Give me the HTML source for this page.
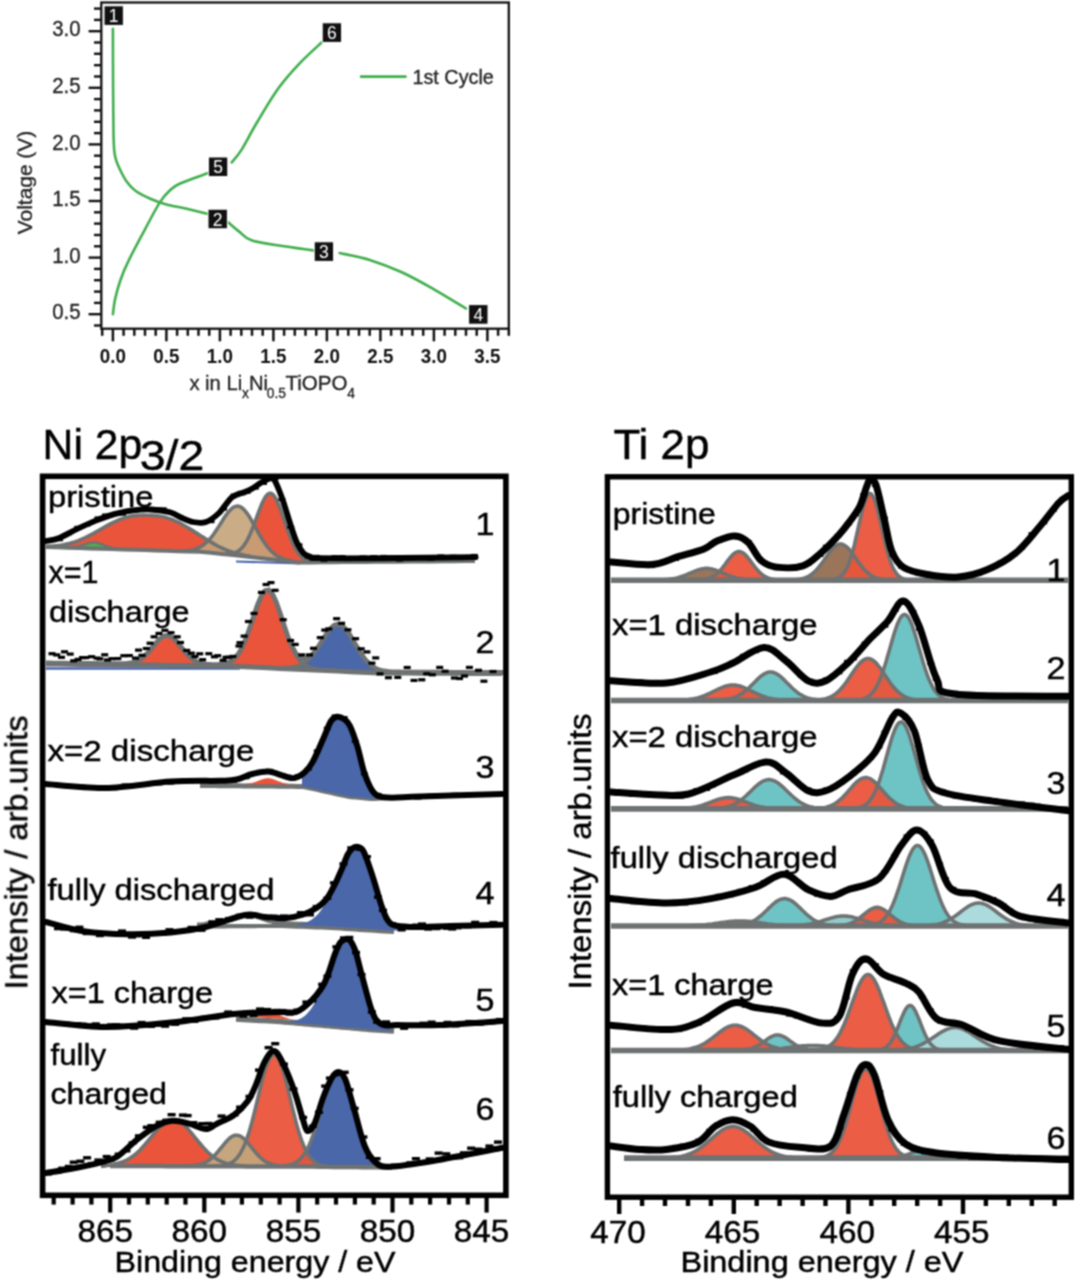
<!DOCTYPE html><html><head><meta charset="utf-8"><style>html,body{margin:0;padding:0;background:#fff;}svg{display:block;} text{font-family:"Liberation Sans", sans-serif;}</style></head><body>
<svg width="1077" height="1280" viewBox="0 0 1077 1280">
<defs><filter id="bl" x="0" y="0" width="1077" height="1280" filterUnits="userSpaceOnUse" color-interpolation-filters="sRGB"><feConvolveMatrix order="3" kernelMatrix="1 2 1 2 4 2 1 2 1" divisor="16" edgeMode="duplicate"/></filter></defs>
<rect width="1077" height="1280" fill="#fff"/>
<g filter="url(#bl)">
<rect width="1077" height="1280" fill="#fff"/>
<line x1="94" y1="325.5" x2="101.3" y2="325.5" stroke="#111" stroke-width="2.4"/>
<line x1="88.6" y1="314.2" x2="101.3" y2="314.2" stroke="#111" stroke-width="2.4"/>
<line x1="94" y1="302.9" x2="101.3" y2="302.9" stroke="#111" stroke-width="2.4"/>
<line x1="94" y1="291.6" x2="101.3" y2="291.6" stroke="#111" stroke-width="2.4"/>
<line x1="94" y1="280.2" x2="101.3" y2="280.2" stroke="#111" stroke-width="2.4"/>
<line x1="94" y1="268.9" x2="101.3" y2="268.9" stroke="#111" stroke-width="2.4"/>
<line x1="88.6" y1="257.6" x2="101.3" y2="257.6" stroke="#111" stroke-width="2.4"/>
<line x1="94" y1="246.3" x2="101.3" y2="246.3" stroke="#111" stroke-width="2.4"/>
<line x1="94" y1="235" x2="101.3" y2="235" stroke="#111" stroke-width="2.4"/>
<line x1="94" y1="223.6" x2="101.3" y2="223.6" stroke="#111" stroke-width="2.4"/>
<line x1="94" y1="212.3" x2="101.3" y2="212.3" stroke="#111" stroke-width="2.4"/>
<line x1="88.6" y1="201" x2="101.3" y2="201" stroke="#111" stroke-width="2.4"/>
<line x1="94" y1="189.7" x2="101.3" y2="189.7" stroke="#111" stroke-width="2.4"/>
<line x1="94" y1="178.4" x2="101.3" y2="178.4" stroke="#111" stroke-width="2.4"/>
<line x1="94" y1="167" x2="101.3" y2="167" stroke="#111" stroke-width="2.4"/>
<line x1="94" y1="155.7" x2="101.3" y2="155.7" stroke="#111" stroke-width="2.4"/>
<line x1="88.6" y1="144.4" x2="101.3" y2="144.4" stroke="#111" stroke-width="2.4"/>
<line x1="94" y1="133.1" x2="101.3" y2="133.1" stroke="#111" stroke-width="2.4"/>
<line x1="94" y1="121.8" x2="101.3" y2="121.8" stroke="#111" stroke-width="2.4"/>
<line x1="94" y1="110.4" x2="101.3" y2="110.4" stroke="#111" stroke-width="2.4"/>
<line x1="94" y1="99.1" x2="101.3" y2="99.1" stroke="#111" stroke-width="2.4"/>
<line x1="88.6" y1="87.8" x2="101.3" y2="87.8" stroke="#111" stroke-width="2.4"/>
<line x1="94" y1="76.5" x2="101.3" y2="76.5" stroke="#111" stroke-width="2.4"/>
<line x1="94" y1="65.2" x2="101.3" y2="65.2" stroke="#111" stroke-width="2.4"/>
<line x1="94" y1="53.8" x2="101.3" y2="53.8" stroke="#111" stroke-width="2.4"/>
<line x1="94" y1="42.5" x2="101.3" y2="42.5" stroke="#111" stroke-width="2.4"/>
<line x1="88.6" y1="31.2" x2="101.3" y2="31.2" stroke="#111" stroke-width="2.4"/>
<line x1="94" y1="19.9" x2="101.3" y2="19.9" stroke="#111" stroke-width="2.4"/>
<line x1="94" y1="8.6" x2="101.3" y2="8.6" stroke="#111" stroke-width="2.4"/>
<line x1="102.2" y1="328.7" x2="102.2" y2="335.8" stroke="#111" stroke-width="2.5"/>
<line x1="112.9" y1="328.7" x2="112.9" y2="341.3" stroke="#111" stroke-width="2.5"/>
<line x1="123.6" y1="328.7" x2="123.6" y2="335.8" stroke="#111" stroke-width="2.5"/>
<line x1="134.3" y1="328.7" x2="134.3" y2="335.8" stroke="#111" stroke-width="2.5"/>
<line x1="145" y1="328.7" x2="145" y2="335.8" stroke="#111" stroke-width="2.5"/>
<line x1="155.7" y1="328.7" x2="155.7" y2="335.8" stroke="#111" stroke-width="2.5"/>
<line x1="166.4" y1="328.7" x2="166.4" y2="341.3" stroke="#111" stroke-width="2.5"/>
<line x1="177.1" y1="328.7" x2="177.1" y2="335.8" stroke="#111" stroke-width="2.5"/>
<line x1="187.8" y1="328.7" x2="187.8" y2="335.8" stroke="#111" stroke-width="2.5"/>
<line x1="198.5" y1="328.7" x2="198.5" y2="335.8" stroke="#111" stroke-width="2.5"/>
<line x1="209.2" y1="328.7" x2="209.2" y2="335.8" stroke="#111" stroke-width="2.5"/>
<line x1="219.9" y1="328.7" x2="219.9" y2="341.3" stroke="#111" stroke-width="2.5"/>
<line x1="230.6" y1="328.7" x2="230.6" y2="335.8" stroke="#111" stroke-width="2.5"/>
<line x1="241.3" y1="328.7" x2="241.3" y2="335.8" stroke="#111" stroke-width="2.5"/>
<line x1="252" y1="328.7" x2="252" y2="335.8" stroke="#111" stroke-width="2.5"/>
<line x1="262.7" y1="328.7" x2="262.7" y2="335.8" stroke="#111" stroke-width="2.5"/>
<line x1="273.4" y1="328.7" x2="273.4" y2="341.3" stroke="#111" stroke-width="2.5"/>
<line x1="284.1" y1="328.7" x2="284.1" y2="335.8" stroke="#111" stroke-width="2.5"/>
<line x1="294.8" y1="328.7" x2="294.8" y2="335.8" stroke="#111" stroke-width="2.5"/>
<line x1="305.5" y1="328.7" x2="305.5" y2="335.8" stroke="#111" stroke-width="2.5"/>
<line x1="316.2" y1="328.7" x2="316.2" y2="335.8" stroke="#111" stroke-width="2.5"/>
<line x1="326.9" y1="328.7" x2="326.9" y2="341.3" stroke="#111" stroke-width="2.5"/>
<line x1="337.6" y1="328.7" x2="337.6" y2="335.8" stroke="#111" stroke-width="2.5"/>
<line x1="348.3" y1="328.7" x2="348.3" y2="335.8" stroke="#111" stroke-width="2.5"/>
<line x1="359" y1="328.7" x2="359" y2="335.8" stroke="#111" stroke-width="2.5"/>
<line x1="369.7" y1="328.7" x2="369.7" y2="335.8" stroke="#111" stroke-width="2.5"/>
<line x1="380.4" y1="328.7" x2="380.4" y2="341.3" stroke="#111" stroke-width="2.5"/>
<line x1="391.1" y1="328.7" x2="391.1" y2="335.8" stroke="#111" stroke-width="2.5"/>
<line x1="401.8" y1="328.7" x2="401.8" y2="335.8" stroke="#111" stroke-width="2.5"/>
<line x1="412.5" y1="328.7" x2="412.5" y2="335.8" stroke="#111" stroke-width="2.5"/>
<line x1="423.2" y1="328.7" x2="423.2" y2="335.8" stroke="#111" stroke-width="2.5"/>
<line x1="433.9" y1="328.7" x2="433.9" y2="341.3" stroke="#111" stroke-width="2.5"/>
<line x1="444.6" y1="328.7" x2="444.6" y2="335.8" stroke="#111" stroke-width="2.5"/>
<line x1="455.3" y1="328.7" x2="455.3" y2="335.8" stroke="#111" stroke-width="2.5"/>
<line x1="466" y1="328.7" x2="466" y2="335.8" stroke="#111" stroke-width="2.5"/>
<line x1="476.7" y1="328.7" x2="476.7" y2="335.8" stroke="#111" stroke-width="2.5"/>
<line x1="487.4" y1="328.7" x2="487.4" y2="341.3" stroke="#111" stroke-width="2.5"/>
<line x1="498.1" y1="328.7" x2="498.1" y2="335.8" stroke="#111" stroke-width="2.5"/>
<line x1="508.8" y1="328.7" x2="508.8" y2="335.8" stroke="#111" stroke-width="2.5"/>
<rect x="101.3" y="2.5" width="407.5" height="326.2" fill="none" stroke="#111" stroke-width="2.3"/>
<text x="80.6" y="319.3" font-size="22.2" fill="#222" text-anchor="end" font-weight="normal" textLength="28.4" lengthAdjust="spacingAndGlyphs" stroke="#222" stroke-width="0.3">0.5</text>
<text x="80.6" y="262.7" font-size="22.2" fill="#222" text-anchor="end" font-weight="normal" textLength="28.4" lengthAdjust="spacingAndGlyphs" stroke="#222" stroke-width="0.3">1.0</text>
<text x="80.6" y="206.1" font-size="22.2" fill="#222" text-anchor="end" font-weight="normal" textLength="28.4" lengthAdjust="spacingAndGlyphs" stroke="#222" stroke-width="0.3">1.5</text>
<text x="80.6" y="149.5" font-size="22.2" fill="#222" text-anchor="end" font-weight="normal" textLength="28.4" lengthAdjust="spacingAndGlyphs" stroke="#222" stroke-width="0.3">2.0</text>
<text x="80.6" y="92.9" font-size="22.2" fill="#222" text-anchor="end" font-weight="normal" textLength="28.4" lengthAdjust="spacingAndGlyphs" stroke="#222" stroke-width="0.3">2.5</text>
<text x="80.6" y="36.3" font-size="22.2" fill="#222" text-anchor="end" font-weight="normal" textLength="28.4" lengthAdjust="spacingAndGlyphs" stroke="#222" stroke-width="0.3">3.0</text>
<text x="112.9" y="363.4" font-size="20.9" fill="#111" text-anchor="middle" font-weight="bold" textLength="26.1" lengthAdjust="spacingAndGlyphs">0.0</text>
<text x="166.4" y="363.4" font-size="20.9" fill="#111" text-anchor="middle" font-weight="bold" textLength="26.1" lengthAdjust="spacingAndGlyphs">0.5</text>
<text x="219.9" y="363.4" font-size="20.9" fill="#111" text-anchor="middle" font-weight="bold" textLength="26.1" lengthAdjust="spacingAndGlyphs">1.0</text>
<text x="273.4" y="363.4" font-size="20.9" fill="#111" text-anchor="middle" font-weight="bold" textLength="26.1" lengthAdjust="spacingAndGlyphs">1.5</text>
<text x="326.9" y="363.4" font-size="20.9" fill="#111" text-anchor="middle" font-weight="bold" textLength="26.1" lengthAdjust="spacingAndGlyphs">2.0</text>
<text x="380.4" y="363.4" font-size="20.9" fill="#111" text-anchor="middle" font-weight="bold" textLength="26.1" lengthAdjust="spacingAndGlyphs">2.5</text>
<text x="433.9" y="363.4" font-size="20.9" fill="#111" text-anchor="middle" font-weight="bold" textLength="26.1" lengthAdjust="spacingAndGlyphs">3.0</text>
<text x="487.4" y="363.4" font-size="20.9" fill="#111" text-anchor="middle" font-weight="bold" textLength="26.1" lengthAdjust="spacingAndGlyphs">3.5</text>
<text y="389.9" font-size="20.2" fill="#222" stroke="#222" stroke-width="0.3"><tspan x="189.4">x in Li</tspan><tspan x="242.0" y="398.2" font-size="13.8">x</tspan><tspan x="249.0" y="389.9">Ni</tspan><tspan x="266.8" y="398.2" font-size="13.8">0.5</tspan><tspan x="285.4" y="389.9" textLength="62" lengthAdjust="spacingAndGlyphs">TiOPO</tspan><tspan x="347.3" y="398.2" font-size="13.8">4</tspan></text>
<text transform="translate(32.3,182.5) rotate(-90)" font-size="20" fill="#222" stroke="#222" stroke-width="0.3" text-anchor="middle" textLength="103.5" lengthAdjust="spacingAndGlyphs">Voltage (V)</text>
<line x1="360" y1="76.6" x2="406.6" y2="76.6" stroke="#3fae4c" stroke-width="2.6"/>
<text x="412.4" y="84.4" font-size="20.2" fill="#222" text-anchor="start" font-weight="normal" textLength="81.5" lengthAdjust="spacingAndGlyphs" stroke="#222" stroke-width="0.3">1st Cycle</text>
<path d="M112.9 28.9 C112.9 38.7 113 70.4 113.1 87.8 C113.2 105.2 113.4 122.7 113.5 133.1 C113.7 143.5 113.8 145.5 114.2 150.1 C114.6 154.6 115.1 156.9 116.1 160.2 C117.1 163.6 118.6 166.9 120.4 170.4 C122.2 174 124.3 178.4 126.8 181.8 C129.3 185.2 131.4 188 135.4 190.8 C139.3 193.6 145.2 196.5 150.3 198.7 C155.5 201 160.2 202.7 166.4 204.4 C172.6 206.1 179.8 207 187.8 208.9 C195.8 210.8 210.1 214.6 214.6 215.7" fill="none" stroke="#3fae4c" stroke-width="2.6" stroke-linecap="round" stroke-linejoin="round"/>
<path d="M228.5 222.5 C230.2 224 235.2 228.5 239.2 231.6 C243.1 234.6 244.5 238.2 252 240.6 C259.5 243.1 273.4 244.6 284.1 246.3 C294.8 248 310.9 250.1 316.2 250.8" fill="none" stroke="#3fae4c" stroke-width="2.6" stroke-linecap="round" stroke-linejoin="round"/>
<path d="M339.7 253.1 C344.7 254.2 359.4 256.7 369.7 259.9 C380 263.1 391.1 267.4 401.8 272.3 C412.5 277.2 423.2 283.3 433.9 289.3 C444.6 295.3 460.6 305.3 466 308.5" fill="none" stroke="#3fae4c" stroke-width="2.6" stroke-linecap="round" stroke-linejoin="round"/>
<path d="M112.9 314.2 C113.3 311.7 113.8 305.1 115 299.5 C116.3 293.8 118.1 286.8 120.4 280.2 C122.7 273.6 124.8 268.4 129 259.9 C133.1 251.4 139.8 238.9 145 229.3 C150.2 219.7 155.7 208.7 160 202.1 C164.2 195.5 167.1 192.8 170.5 189.7 C173.8 186.6 174.7 185.9 180.1 183.5 C185.5 181 197.9 176.8 202.8 175 C207.6 173.2 208.1 173.1 209.2 172.7" fill="none" stroke="#3fae4c" stroke-width="2.6" stroke-linecap="round" stroke-linejoin="round"/>
<path d="M231.7 162.5 C233.3 160.4 237 156.9 241.3 150.1 C245.6 143.3 251.1 132.1 257.4 121.8 C263.6 111.4 271.6 97.6 278.8 87.8 C285.9 78 293 70.4 300.1 62.9 C307.3 55.3 318 45.9 321.6 42.5" fill="none" stroke="#3fae4c" stroke-width="2.6" stroke-linecap="round" stroke-linejoin="round"/>
<rect x="104" y="5.8" width="19.4" height="19.6" fill="#111" stroke="#fff" stroke-width="1"/>
<text x="113.7" y="22.2" font-size="17.5" fill="#fff" text-anchor="middle" font-weight="normal">1</text>
<rect x="208" y="209.2" width="19.4" height="19.6" fill="#111" stroke="#fff" stroke-width="1"/>
<text x="217.7" y="225.6" font-size="17.5" fill="#fff" text-anchor="middle" font-weight="normal">2</text>
<rect x="314.2" y="241.8" width="19.4" height="19.6" fill="#111" stroke="#fff" stroke-width="1"/>
<text x="323.9" y="258.2" font-size="17.5" fill="#fff" text-anchor="middle" font-weight="normal">3</text>
<rect x="468.6" y="304.6" width="19.4" height="19.6" fill="#111" stroke="#fff" stroke-width="1"/>
<text x="478.3" y="321" font-size="17.5" fill="#fff" text-anchor="middle" font-weight="normal">4</text>
<rect x="208.4" y="157" width="19.4" height="19.6" fill="#111" stroke="#fff" stroke-width="1"/>
<text x="218.1" y="173.4" font-size="17.5" fill="#fff" text-anchor="middle" font-weight="normal">5</text>
<rect x="322.2" y="22.8" width="19.4" height="19.6" fill="#111" stroke="#fff" stroke-width="1"/>
<text x="331.9" y="39.2" font-size="17.5" fill="#fff" text-anchor="middle" font-weight="normal">6</text>
<rect x="42.6" y="476.3" width="463.3" height="719.0" fill="none" stroke="#000" stroke-width="5.6"/>
<line x1="53.7" y1="1196" x2="53.7" y2="1204.6" stroke="#000" stroke-width="4.2"/>
<line x1="72.6" y1="1196" x2="72.6" y2="1204.6" stroke="#000" stroke-width="4.2"/>
<line x1="91.4" y1="1196" x2="91.4" y2="1204.6" stroke="#000" stroke-width="4.2"/>
<line x1="110.2" y1="1196" x2="110.2" y2="1212.6" stroke="#000" stroke-width="4.2"/>
<line x1="129" y1="1196" x2="129" y2="1204.6" stroke="#000" stroke-width="4.2"/>
<line x1="147.8" y1="1196" x2="147.8" y2="1204.6" stroke="#000" stroke-width="4.2"/>
<line x1="166.7" y1="1196" x2="166.7" y2="1204.6" stroke="#000" stroke-width="4.2"/>
<line x1="185.5" y1="1196" x2="185.5" y2="1204.6" stroke="#000" stroke-width="4.2"/>
<line x1="204.3" y1="1196" x2="204.3" y2="1212.6" stroke="#000" stroke-width="4.2"/>
<line x1="223.1" y1="1196" x2="223.1" y2="1204.6" stroke="#000" stroke-width="4.2"/>
<line x1="241.9" y1="1196" x2="241.9" y2="1204.6" stroke="#000" stroke-width="4.2"/>
<line x1="260.8" y1="1196" x2="260.8" y2="1204.6" stroke="#000" stroke-width="4.2"/>
<line x1="279.6" y1="1196" x2="279.6" y2="1204.6" stroke="#000" stroke-width="4.2"/>
<line x1="298.4" y1="1196" x2="298.4" y2="1212.6" stroke="#000" stroke-width="4.2"/>
<line x1="317.2" y1="1196" x2="317.2" y2="1204.6" stroke="#000" stroke-width="4.2"/>
<line x1="336" y1="1196" x2="336" y2="1204.6" stroke="#000" stroke-width="4.2"/>
<line x1="354.9" y1="1196" x2="354.9" y2="1204.6" stroke="#000" stroke-width="4.2"/>
<line x1="373.7" y1="1196" x2="373.7" y2="1204.6" stroke="#000" stroke-width="4.2"/>
<line x1="392.5" y1="1196" x2="392.5" y2="1212.6" stroke="#000" stroke-width="4.2"/>
<line x1="411.3" y1="1196" x2="411.3" y2="1204.6" stroke="#000" stroke-width="4.2"/>
<line x1="430.1" y1="1196" x2="430.1" y2="1204.6" stroke="#000" stroke-width="4.2"/>
<line x1="449" y1="1196" x2="449" y2="1204.6" stroke="#000" stroke-width="4.2"/>
<line x1="467.8" y1="1196" x2="467.8" y2="1204.6" stroke="#000" stroke-width="4.2"/>
<line x1="486.6" y1="1196" x2="486.6" y2="1212.6" stroke="#000" stroke-width="4.2"/>
<text x="105.2" y="1242.3" font-size="31" fill="#000" text-anchor="middle" font-weight="normal" textLength="55.5" lengthAdjust="spacingAndGlyphs" stroke="#000" stroke-width="0.45">865</text>
<text x="199.3" y="1242.3" font-size="31" fill="#000" text-anchor="middle" font-weight="normal" textLength="55.5" lengthAdjust="spacingAndGlyphs" stroke="#000" stroke-width="0.45">860</text>
<text x="293.4" y="1242.3" font-size="31" fill="#000" text-anchor="middle" font-weight="normal" textLength="55.5" lengthAdjust="spacingAndGlyphs" stroke="#000" stroke-width="0.45">855</text>
<text x="387.5" y="1242.3" font-size="31" fill="#000" text-anchor="middle" font-weight="normal" textLength="55.5" lengthAdjust="spacingAndGlyphs" stroke="#000" stroke-width="0.45">850</text>
<text x="481.6" y="1242.3" font-size="31" fill="#000" text-anchor="middle" font-weight="normal" textLength="55.5" lengthAdjust="spacingAndGlyphs" stroke="#000" stroke-width="0.45">845</text>
<text x="114.5" y="1271.6" font-size="29" fill="#000" text-anchor="start" font-weight="normal" textLength="281" lengthAdjust="spacingAndGlyphs" stroke="#000" stroke-width="0.45">Binding energy / eV</text>
<text x="42.6" y="459.4" font-size="43.2" fill="#000" text-anchor="start" font-weight="normal" textLength="99.6" lengthAdjust="spacingAndGlyphs" stroke="#000" stroke-width="0.45">Ni 2p</text>
<text x="139.8" y="470" font-size="43.2" fill="#000" text-anchor="start" font-weight="normal" textLength="64.5" lengthAdjust="spacingAndGlyphs" stroke="#000" stroke-width="0.45">3/2</text>
<text transform="translate(27.3,852.5) rotate(-90)" font-size="31.5" fill="#000" text-anchor="middle" textLength="274" lengthAdjust="spacingAndGlyphs" stroke="#000" stroke-width="0.45">Intensity / arb.units</text>
<path d="M45.6 546.4 L48.6 546.3 L51.6 546.1 L54.5 545.9 L57.5 545.6 L60.5 545.2 L63.4 544.7 L66.4 544.1 L69.4 543.4 L72.3 542.6 L75.3 541.7 L78.3 540.6 L81.2 539.4 L84.2 538.1 L87.2 536.7 L90.1 535.2 L93.1 533.6 L96.1 531.9 L99 530.2 L102 528.5 L105 526.8 L107.9 525.2 L110.9 523.6 L113.9 522.1 L116.8 520.8 L119.8 519.5 L122.8 518.4 L125.7 517.5 L128.7 516.7 L131.7 516.1 L134.6 515.6 L137.6 515.3 L140.6 515.2 L143.5 515.1 L146.5 515.2 L149.5 515.3 L152.5 515.4 L155.4 515.6 L158.4 516 L161.4 516.5 L164.3 517.1 L167.3 517.9 L170.3 518.9 L173.2 520 L176.2 521.3 L179.2 522.7 L182.1 524.3 L185.1 526 L188.1 527.7 L191 529.6 L194 531.4 L197 533.3 L199.9 535.2 L202.9 537 L205.9 538.9 L208.8 540.8 L211.8 542.6 L214.8 544.4 L217.7 546 L220.7 547.5 L223.7 548.8 L226.6 550.1 L229.6 551.2 L232.6 552.2 L235.5 553.1 L238.5 553.9 L241.5 554.6 L244.4 555.3 L247.4 555.9 L250.4 556.4 L250.4 557 L247.4 556.7 L244.4 556.4 L241.5 556 L238.5 555.7 L235.5 555.4 L232.6 555 L229.6 554.7 L226.6 554.4 L223.7 554.1 L220.7 553.7 L217.7 553.4 L214.8 553.1 L211.8 552.8 L208.8 552.4 L205.9 552.1 L202.9 551.9 L199.9 551.8 L197 551.7 L194 551.7 L191 551.6 L188.1 551.5 L185.1 551.4 L182.1 551.3 L179.2 551.2 L176.2 551.1 L173.2 551 L170.3 550.9 L167.3 550.8 L164.3 550.7 L161.4 550.6 L158.4 550.5 L155.4 550.4 L152.5 550.3 L149.5 550.3 L146.5 550.2 L143.5 550.1 L140.6 550 L137.6 549.9 L134.6 549.8 L131.7 549.7 L128.7 549.6 L125.7 549.5 L122.8 549.4 L119.8 549.3 L116.8 549.2 L113.9 549.1 L110.9 549 L107.9 548.9 L105 548.9 L102 548.8 L99 548.7 L96.1 548.6 L93.1 548.5 L90.1 548.4 L87.2 548.3 L84.2 548.2 L81.2 548.1 L78.3 548 L75.3 547.9 L72.3 547.8 L69.4 547.7 L66.4 547.6 L63.4 547.5 L60.5 547.5 L57.5 547.4 L54.5 547.3 L51.6 547.2 L48.6 547.1 L45.6 547 Z" fill="#ea543a" fill-opacity="1" stroke="none"/>
<path d="M62 547.5 L62.9 547.5 L63.9 547.5 L64.8 547.5 L65.7 547.5 L66.6 547.5 L67.6 547.5 L68.5 547.5 L69.4 547.4 L70.3 547.4 L71.3 547.3 L72.2 547.3 L73.1 547.2 L74.1 547.1 L75 546.9 L75.9 546.8 L76.8 546.6 L77.8 546.4 L78.7 546.2 L79.6 545.9 L80.6 545.7 L81.5 545.4 L82.4 545.1 L83.3 544.8 L84.3 544.5 L85.2 544.2 L86.1 543.9 L87 543.6 L88 543.3 L88.9 543.1 L89.8 542.9 L90.8 542.7 L91.7 542.6 L92.6 542.5 L93.5 542.5 L94.5 542.5 L95.4 542.6 L96.3 542.7 L97.2 542.9 L98.2 543.1 L99.1 543.4 L100 543.7 L101 544 L101.9 544.4 L102.8 544.7 L103.7 545.1 L104.7 545.4 L105.6 545.8 L106.5 546.2 L107.4 546.5 L108.4 546.8 L109.3 547.1 L110.2 547.4 L111.2 547.7 L112.1 547.9 L113 548.1 L113.9 548.3 L114.9 548.5 L115.8 548.6 L116.7 548.8 L117.7 548.9 L118.6 549 L119.5 549.1 L120.4 549.2 L121.4 549.2 L122.3 549.3 L123.2 549.3 L124.1 549.4 L125.1 549.4 L126 549.5 L126 549.5 L125.1 549.5 L124.1 549.5 L123.2 549.4 L122.3 549.4 L121.4 549.4 L120.4 549.3 L119.5 549.3 L118.6 549.3 L117.7 549.3 L116.7 549.2 L115.8 549.2 L114.9 549.2 L113.9 549.1 L113 549.1 L112.1 549.1 L111.2 549 L110.2 549 L109.3 549 L108.4 549 L107.4 548.9 L106.5 548.9 L105.6 548.9 L104.7 548.8 L103.7 548.8 L102.8 548.8 L101.9 548.8 L101 548.7 L100 548.7 L99.1 548.7 L98.2 548.6 L97.2 548.6 L96.3 548.6 L95.4 548.6 L94.5 548.5 L93.5 548.5 L92.6 548.5 L91.7 548.4 L90.8 548.4 L89.8 548.4 L88.9 548.3 L88 548.3 L87 548.3 L86.1 548.3 L85.2 548.2 L84.3 548.2 L83.3 548.2 L82.4 548.1 L81.5 548.1 L80.6 548.1 L79.6 548.1 L78.7 548 L77.8 548 L76.8 548 L75.9 547.9 L75 547.9 L74.1 547.9 L73.1 547.9 L72.2 547.8 L71.3 547.8 L70.3 547.8 L69.4 547.7 L68.5 547.7 L67.6 547.7 L66.6 547.6 L65.7 547.6 L64.8 547.6 L63.9 547.6 L62.9 547.5 L62 547.5 Z" fill="#4cb04c" fill-opacity="1" stroke="none"/>
<path d="M225.7 553.9 L227 553.9 L228.3 553.9 L229.6 553.8 L230.9 553.7 L232.2 553.4 L233.5 553.1 L234.8 552.7 L236.1 552.2 L237.4 551.6 L238.7 550.7 L240 549.7 L241.3 548.5 L242.6 547.1 L243.9 545.5 L245.2 543.6 L246.5 541.4 L247.8 539.1 L249.1 536.4 L250.4 533.5 L251.7 530.4 L253 527.2 L254.3 523.7 L255.6 520.2 L256.9 516.7 L258.2 513.1 L259.5 509.7 L260.8 506.3 L262.1 503.3 L263.4 500.5 L264.7 498.1 L266 496.1 L267.3 494.6 L268.6 493.7 L269.9 493.2 L271.1 493.4 L272.4 494.1 L273.7 495.3 L275 497.1 L276.3 499.4 L277.6 502.1 L278.9 505.1 L280.2 508.5 L281.5 512.1 L282.8 515.8 L284.1 519.7 L285.4 523.5 L286.7 527.3 L288 531 L289.3 534.6 L290.6 538 L291.9 541.1 L293.2 544.1 L294.5 546.8 L295.8 549.2 L297.1 551.4 L298.4 553.3 L299.7 555 L301 556.4 L302.3 557.5 L303.6 558.4 L304.9 559.2 L306.2 559.9 L307.5 560.4 L308.8 560.9 L310.1 561.2 L311.4 561.5 L312.7 561.7 L314 561.9 L315.3 562 L315.3 562.4 L314 562.4 L312.7 562.4 L311.4 562.4 L310.1 562.4 L308.8 562.4 L307.5 562.4 L306.2 562.4 L304.9 562.5 L303.6 562.5 L302.3 562.5 L301 562.5 L299.7 562.5 L298.4 562.3 L297.1 562.2 L295.8 562 L294.5 561.9 L293.2 561.8 L291.9 561.6 L290.6 561.5 L289.3 561.3 L288 561.2 L286.7 561 L285.4 560.9 L284.1 560.7 L282.8 560.6 L281.5 560.5 L280.2 560.3 L278.9 560.2 L277.6 560 L276.3 559.9 L275 559.7 L273.7 559.6 L272.4 559.5 L271.1 559.3 L269.9 559.2 L268.6 559 L267.3 558.9 L266 558.7 L264.7 558.6 L263.4 558.5 L262.1 558.3 L260.8 558.2 L259.5 558 L258.2 557.9 L256.9 557.7 L255.6 557.6 L254.3 557.4 L253 557.3 L251.7 557.2 L250.4 557 L249.1 556.9 L247.8 556.7 L246.5 556.6 L245.2 556.4 L243.9 556.3 L242.6 556.2 L241.3 556 L240 555.9 L238.7 555.7 L237.4 555.6 L236.1 555.4 L234.8 555.3 L233.5 555.1 L232.2 555 L230.9 554.9 L229.6 554.7 L228.3 554.6 L227 554.4 L225.7 554.3 Z" fill="#ea543a" fill-opacity="1" stroke="none"/>
<path d="M182 551 L183.6 550.9 L185.2 550.9 L186.9 550.7 L188.5 550.6 L190.1 550.4 L191.7 550.1 L193.4 549.7 L195 549.3 L196.6 548.7 L198.2 548 L199.9 547.2 L201.5 546.3 L203.1 545.2 L204.7 543.9 L206.3 542.5 L208 541 L209.6 539.2 L211.2 537.3 L212.8 535.3 L214.5 533 L216.1 530.6 L217.7 528.1 L219.3 525.6 L221 523 L222.6 520.4 L224.2 517.8 L225.8 515.4 L227.4 513.2 L229.1 511.2 L230.7 509.5 L232.3 508.1 L233.9 507 L235.6 506.4 L237.2 506.1 L238.8 506.3 L240.4 506.9 L242.1 507.9 L243.7 509.3 L245.3 511.1 L246.9 513.2 L248.6 515.5 L250.2 518.1 L251.8 520.9 L253.4 523.8 L255 526.7 L256.7 529.7 L258.3 532.6 L259.9 535.5 L261.5 538.2 L263.2 540.8 L264.8 543.3 L266.4 545.5 L268 547.6 L269.7 549.5 L271.3 551.2 L272.9 552.7 L274.5 554.1 L276.1 555.3 L277.8 556.3 L279.4 557.2 L281 558 L282.6 558.7 L284.3 559.3 L285.9 559.8 L287.5 560.2 L289.1 560.6 L290.8 561 L292.4 561.3 L294 561.5 L294 561.8 L292.4 561.7 L290.8 561.5 L289.1 561.3 L287.5 561.1 L285.9 560.9 L284.3 560.8 L282.6 560.6 L281 560.4 L279.4 560.2 L277.8 560 L276.1 559.9 L274.5 559.7 L272.9 559.5 L271.3 559.3 L269.7 559.1 L268 559 L266.4 558.8 L264.8 558.6 L263.2 558.4 L261.5 558.2 L259.9 558.1 L258.3 557.9 L256.7 557.7 L255 557.5 L253.4 557.4 L251.8 557.2 L250.2 557 L248.6 556.8 L246.9 556.6 L245.3 556.5 L243.7 556.3 L242.1 556.1 L240.4 555.9 L238.8 555.7 L237.2 555.6 L235.6 555.4 L233.9 555.2 L232.3 555 L230.7 554.8 L229.1 554.7 L227.4 554.5 L225.8 554.3 L224.2 554.1 L222.6 553.9 L221 553.8 L219.3 553.6 L217.7 553.4 L216.1 553.2 L214.5 553 L212.8 552.9 L211.2 552.7 L209.6 552.5 L208 552.3 L206.3 552.1 L204.7 552 L203.1 551.9 L201.5 551.9 L199.9 551.8 L198.2 551.8 L196.6 551.7 L195 551.7 L193.4 551.6 L191.7 551.6 L190.1 551.5 L188.5 551.5 L186.9 551.4 L185.2 551.4 L183.6 551.3 L182 551.3 Z" fill="#c4a37a" fill-opacity="0.9" stroke="none"/>
<path d="M45.6 546.4 L48.6 546.3 L51.6 546.1 L54.5 545.9 L57.5 545.6 L60.5 545.2 L63.4 544.7 L66.4 544.1 L69.4 543.4 L72.3 542.6 L75.3 541.7 L78.3 540.6 L81.2 539.4 L84.2 538.1 L87.2 536.7 L90.1 535.2 L93.1 533.6 L96.1 531.9 L99 530.2 L102 528.5 L105 526.8 L107.9 525.2 L110.9 523.6 L113.9 522.1 L116.8 520.8 L119.8 519.5 L122.8 518.4 L125.7 517.5 L128.7 516.7 L131.7 516.1 L134.6 515.6 L137.6 515.3 L140.6 515.2 L143.5 515.1 L146.5 515.2 L149.5 515.3 L152.5 515.4 L155.4 515.6 L158.4 516 L161.4 516.5 L164.3 517.1 L167.3 517.9 L170.3 518.9 L173.2 520 L176.2 521.3 L179.2 522.7 L182.1 524.3 L185.1 526 L188.1 527.7 L191 529.6 L194 531.4 L197 533.3 L199.9 535.2 L202.9 537 L205.9 538.9 L208.8 540.8 L211.8 542.6 L214.8 544.4 L217.7 546 L220.7 547.5 L223.7 548.8 L226.6 550.1 L229.6 551.2 L232.6 552.2 L235.5 553.1 L238.5 553.9 L241.5 554.6 L244.4 555.3 L247.4 555.9 L250.4 556.4" fill="none" stroke="#6e7272" stroke-width="3.6" stroke-linejoin="round"/>
<path d="M62 547.5 L62.9 547.5 L63.9 547.5 L64.8 547.5 L65.7 547.5 L66.6 547.5 L67.6 547.5 L68.5 547.5 L69.4 547.4 L70.3 547.4 L71.3 547.3 L72.2 547.3 L73.1 547.2 L74.1 547.1 L75 546.9 L75.9 546.8 L76.8 546.6 L77.8 546.4 L78.7 546.2 L79.6 545.9 L80.6 545.7 L81.5 545.4 L82.4 545.1 L83.3 544.8 L84.3 544.5 L85.2 544.2 L86.1 543.9 L87 543.6 L88 543.3 L88.9 543.1 L89.8 542.9 L90.8 542.7 L91.7 542.6 L92.6 542.5 L93.5 542.5 L94.5 542.5 L95.4 542.6 L96.3 542.7 L97.2 542.9 L98.2 543.1 L99.1 543.4 L100 543.7 L101 544 L101.9 544.4 L102.8 544.7 L103.7 545.1 L104.7 545.4 L105.6 545.8 L106.5 546.2 L107.4 546.5 L108.4 546.8 L109.3 547.1 L110.2 547.4 L111.2 547.7 L112.1 547.9 L113 548.1 L113.9 548.3 L114.9 548.5 L115.8 548.6 L116.7 548.8 L117.7 548.9 L118.6 549 L119.5 549.1 L120.4 549.2 L121.4 549.2 L122.3 549.3 L123.2 549.3 L124.1 549.4 L125.1 549.4 L126 549.5" fill="none" stroke="#6e7272" stroke-width="2.5" stroke-linejoin="round"/>
<path d="M225.7 553.9 L227 553.9 L228.3 553.9 L229.6 553.8 L230.9 553.7 L232.2 553.4 L233.5 553.1 L234.8 552.7 L236.1 552.2 L237.4 551.6 L238.7 550.7 L240 549.7 L241.3 548.5 L242.6 547.1 L243.9 545.5 L245.2 543.6 L246.5 541.4 L247.8 539.1 L249.1 536.4 L250.4 533.5 L251.7 530.4 L253 527.2 L254.3 523.7 L255.6 520.2 L256.9 516.7 L258.2 513.1 L259.5 509.7 L260.8 506.3 L262.1 503.3 L263.4 500.5 L264.7 498.1 L266 496.1 L267.3 494.6 L268.6 493.7 L269.9 493.2 L271.1 493.4 L272.4 494.1 L273.7 495.3 L275 497.1 L276.3 499.4 L277.6 502.1 L278.9 505.1 L280.2 508.5 L281.5 512.1 L282.8 515.8 L284.1 519.7 L285.4 523.5 L286.7 527.3 L288 531 L289.3 534.6 L290.6 538 L291.9 541.1 L293.2 544.1 L294.5 546.8 L295.8 549.2 L297.1 551.4 L298.4 553.3 L299.7 555 L301 556.4 L302.3 557.5 L303.6 558.4 L304.9 559.2 L306.2 559.9 L307.5 560.4 L308.8 560.9 L310.1 561.2 L311.4 561.5 L312.7 561.7 L314 561.9 L315.3 562" fill="none" stroke="#6e7272" stroke-width="3.6" stroke-linejoin="round"/>
<path d="M182 551 L183.6 550.9 L185.2 550.9 L186.9 550.7 L188.5 550.6 L190.1 550.4 L191.7 550.1 L193.4 549.7 L195 549.3 L196.6 548.7 L198.2 548 L199.9 547.2 L201.5 546.3 L203.1 545.2 L204.7 543.9 L206.3 542.5 L208 541 L209.6 539.2 L211.2 537.3 L212.8 535.3 L214.5 533 L216.1 530.6 L217.7 528.1 L219.3 525.6 L221 523 L222.6 520.4 L224.2 517.8 L225.8 515.4 L227.4 513.2 L229.1 511.2 L230.7 509.5 L232.3 508.1 L233.9 507 L235.6 506.4 L237.2 506.1 L238.8 506.3 L240.4 506.9 L242.1 507.9 L243.7 509.3 L245.3 511.1 L246.9 513.2 L248.6 515.5 L250.2 518.1 L251.8 520.9 L253.4 523.8 L255 526.7 L256.7 529.7 L258.3 532.6 L259.9 535.5 L261.5 538.2 L263.2 540.8 L264.8 543.3 L266.4 545.5 L268 547.6 L269.7 549.5 L271.3 551.2 L272.9 552.7 L274.5 554.1 L276.1 555.3 L277.8 556.3 L279.4 557.2 L281 558 L282.6 558.7 L284.3 559.3 L285.9 559.8 L287.5 560.2 L289.1 560.6 L290.8 561 L292.4 561.3 L294 561.5" fill="none" stroke="#6e7272" stroke-width="3.6" stroke-linejoin="round"/>
<path d="M236 561.5 L300 563.5" stroke="#4a67aa" stroke-width="2"/>
<path d="M46 547 L57 547.3 L68 547.7 L79 548 L90 548.4 L101 548.7 L112 549.1 L123 549.4 L134 549.8 L145 550.1 L156 550.5 L167 550.8 L178 551.2 L189 551.5 L200 551.8 L211 552.7 L222 553.9 L233 555.1 L244 556.3 L255 557.5 L266 558.7 L277 560 L288 561.2 L299 562.4 L310 562.4 L321 562.3 L332 562.2 L343 562.1 L354 562 L365 561.9 L376 561.8 L387 561.8 L398 561.7 L409 561.6 L420 561.5 L431 561.4 L442 561.3 L453 561.2 L464 561.1 L475 561" fill="none" stroke="#6e7272" stroke-width="4.0"/>
<path d="M46 541 C48.1 540.5 53.4 540.3 58.6 538.3 C63.8 536.3 70.9 532 77.1 529 C83.3 526 89.5 523.1 95.7 520.6 C101.9 518.1 108.1 515.8 114.3 514.1 C120.5 512.4 126.7 511.2 132.9 510.4 C139.1 509.6 145.2 509.2 151.4 509.5 C157.6 509.8 165.2 511 170 512.3 C174.8 513.5 176.2 515.4 180 517 C183.8 518.6 188.7 521.2 193 522 C197.3 522.8 201.7 523.5 206 522 C210.3 520.5 214.7 517.1 219 513 C223.3 508.9 227.7 500.8 232 497.3 C236.3 493.8 241.5 493.5 245 492 C248.5 490.5 250.2 489.7 252.8 488.2 C255.4 486.7 258 484.5 260.6 483 C263.2 481.5 266.2 479.7 268.4 479 C270.6 478.3 271.9 477.2 273.6 479 C275.3 480.8 277.1 485.4 278.8 489.5 C280.5 493.6 282.1 497.9 284 503.8 C285.9 509.7 288.3 518.1 290.5 524.6 C292.7 531.1 294.8 538 297 542.8 C299.2 547.6 301.3 550.9 303.5 553.2 C305.7 555.5 307.2 555.7 310 556.5 C312.8 557.3 305 558 320 558.2 C335 558.5 374.1 558.2 400 558 C425.9 557.8 463 557.3 475.6 557.2" fill="none" stroke="#000" stroke-width="5.8" stroke-linejoin="round" stroke-linecap="round"/>
<rect x="46.5" y="538.7" width="7" height="3" fill="#000"/>
<rect x="55.9" y="538.3" width="7" height="3" fill="#000"/>
<rect x="64.7" y="532.2" width="7" height="3" fill="#000"/>
<rect x="74.3" y="525.8" width="7" height="3" fill="#000"/>
<rect x="83.4" y="523.5" width="7" height="3" fill="#000"/>
<rect x="94.5" y="516.4" width="7" height="3" fill="#000"/>
<rect x="102.1" y="513.5" width="7" height="3" fill="#000"/>
<rect x="113.3" y="512.8" width="7" height="3" fill="#000"/>
<rect x="119" y="512.7" width="7" height="3" fill="#000"/>
<rect x="131.4" y="509.3" width="7" height="3" fill="#000"/>
<rect x="141.2" y="506.4" width="7" height="3" fill="#000"/>
<rect x="146.7" y="508.1" width="7" height="3" fill="#000"/>
<rect x="152.5" y="507" width="7" height="3" fill="#000"/>
<rect x="159.7" y="507.3" width="7" height="3" fill="#000"/>
<rect x="168.4" y="511.1" width="7" height="3" fill="#000"/>
<rect x="179.9" y="517.1" width="7" height="3" fill="#000"/>
<rect x="189.9" y="520.6" width="7" height="3" fill="#000"/>
<rect x="200.1" y="520.9" width="7" height="3" fill="#000"/>
<rect x="207.5" y="520.2" width="7" height="3" fill="#000"/>
<rect x="220" y="507.6" width="7" height="3" fill="#000"/>
<rect x="230.5" y="493.6" width="7" height="3" fill="#000"/>
<rect x="237.6" y="490.8" width="7" height="3" fill="#000"/>
<rect x="243.5" y="490.8" width="7" height="3" fill="#000"/>
<rect x="251.8" y="486.6" width="7" height="3" fill="#000"/>
<rect x="260" y="481.9" width="7" height="3" fill="#000"/>
<rect x="271.5" y="477.2" width="7" height="3" fill="#000"/>
<rect x="278.4" y="497.9" width="7" height="3" fill="#000"/>
<rect x="287.2" y="525.7" width="7" height="3" fill="#000"/>
<rect x="295.4" y="543.3" width="7" height="3" fill="#000"/>
<rect x="305.3" y="555.9" width="7" height="3" fill="#000"/>
<rect x="312.7" y="554.8" width="7" height="3" fill="#000"/>
<rect x="320.5" y="558.8" width="7" height="3" fill="#000"/>
<rect x="331.3" y="555.1" width="7" height="3" fill="#000"/>
<rect x="338.5" y="555" width="7" height="3" fill="#000"/>
<rect x="344.3" y="558.1" width="7" height="3" fill="#000"/>
<rect x="351" y="557" width="7" height="3" fill="#000"/>
<rect x="359.6" y="555.4" width="7" height="3" fill="#000"/>
<rect x="370.3" y="555" width="7" height="3" fill="#000"/>
<rect x="380.4" y="554.9" width="7" height="3" fill="#000"/>
<rect x="388.8" y="555.3" width="7" height="3" fill="#000"/>
<rect x="396.1" y="558.6" width="7" height="3" fill="#000"/>
<rect x="407.3" y="555.6" width="7" height="3" fill="#000"/>
<rect x="419.1" y="555" width="7" height="3" fill="#000"/>
<rect x="427.3" y="557.8" width="7" height="3" fill="#000"/>
<rect x="437.3" y="554.4" width="7" height="3" fill="#000"/>
<rect x="449.9" y="554.7" width="7" height="3" fill="#000"/>
<rect x="457.1" y="557.1" width="7" height="3" fill="#000"/>
<rect x="464.9" y="554.9" width="7" height="3" fill="#000"/>
<rect x="470.8" y="553.9" width="7" height="3" fill="#000"/>
<path d="M46 668.5 L240 668.5" stroke="#4a67aa" stroke-width="2.5"/>
<path d="M122.2 663.7 L123.5 663.6 L124.8 663.5 L126.1 663.5 L127.4 663.4 L128.7 663.2 L130 663 L131.3 662.8 L132.6 662.5 L133.9 662.2 L135.2 661.8 L136.5 661.3 L137.8 660.7 L139.1 660 L140.4 659.3 L141.7 658.4 L143 657.4 L144.3 656.3 L145.6 655.1 L146.9 653.8 L148.2 652.4 L149.5 650.9 L150.8 649.3 L152.1 647.7 L153.4 646.1 L154.7 644.5 L156 642.9 L157.3 641.4 L158.6 640 L159.9 638.8 L161.2 637.7 L162.5 636.8 L163.8 636 L165.1 635.6 L166.4 635.3 L167.6 635.4 L168.9 635.6 L170.2 636.1 L171.5 636.9 L172.8 637.8 L174.1 638.9 L175.4 640.2 L176.7 641.7 L178 643.2 L179.3 644.8 L180.6 646.4 L181.9 648.1 L183.2 649.7 L184.5 651.3 L185.8 652.8 L187.1 654.2 L188.4 655.6 L189.7 656.8 L191 657.9 L192.3 658.9 L193.6 659.8 L194.9 660.6 L196.2 661.3 L197.5 662 L198.8 662.5 L200.1 662.9 L201.4 663.3 L202.7 663.6 L204 663.8 L205.3 664 L206.6 664.2 L207.9 664.4 L209.2 664.5 L210.5 664.6 L211.8 664.6 L211.8 664.8 L210.5 664.8 L209.2 664.8 L207.9 664.8 L206.6 664.7 L205.3 664.7 L204 664.7 L202.7 664.7 L201.4 664.7 L200.1 664.7 L198.8 664.7 L197.5 664.6 L196.2 664.6 L194.9 664.6 L193.6 664.6 L192.3 664.6 L191 664.6 L189.7 664.6 L188.4 664.5 L187.1 664.5 L185.8 664.5 L184.5 664.5 L183.2 664.5 L181.9 664.5 L180.6 664.5 L179.3 664.4 L178 664.4 L176.7 664.4 L175.4 664.4 L174.1 664.4 L172.8 664.4 L171.5 664.4 L170.2 664.4 L168.9 664.3 L167.6 664.3 L166.4 664.3 L165.1 664.3 L163.8 664.3 L162.5 664.3 L161.2 664.3 L159.9 664.2 L158.6 664.2 L157.3 664.2 L156 664.2 L154.7 664.2 L153.4 664.2 L152.1 664.2 L150.8 664.1 L149.5 664.1 L148.2 664.1 L146.9 664.1 L145.6 664.1 L144.3 664.1 L143 664.1 L141.7 664 L140.4 664 L139.1 664 L137.8 664 L136.5 664 L135.2 664 L133.9 664 L132.6 663.9 L131.3 663.9 L130 663.9 L128.7 663.9 L127.4 663.9 L126.1 663.9 L124.8 663.9 L123.5 663.8 L122.2 663.8 Z" fill="#ea543a" fill-opacity="1" stroke="none"/>
<path d="M219.6 664.4 L221 664.3 L222.4 664.1 L223.8 663.9 L225.2 663.5 L226.6 663.1 L227.9 662.6 L229.3 662 L230.7 661.3 L232.1 660.4 L233.5 659.3 L234.9 658.1 L236.3 656.6 L237.7 654.8 L239.1 652.8 L240.5 650.5 L241.9 647.9 L243.3 645 L244.6 641.8 L246 638.4 L247.4 634.7 L248.8 630.7 L250.2 626.6 L251.6 622.4 L253 618.2 L254.4 613.9 L255.8 609.8 L257.2 605.8 L258.6 602.1 L259.9 598.8 L261.3 595.9 L262.7 593.5 L264.1 591.7 L265.5 590.4 L266.9 589.8 L268.3 589.9 L269.7 590.6 L271.1 592 L272.5 594 L273.9 596.5 L275.3 599.5 L276.6 603 L278 606.8 L279.4 610.9 L280.8 615.2 L282.2 619.5 L283.6 623.9 L285 628.3 L286.4 632.5 L287.8 636.6 L289.2 640.4 L290.6 644 L291.9 647.3 L293.3 650.3 L294.7 653.1 L296.1 655.5 L297.5 657.7 L298.9 659.5 L300.3 661.2 L301.7 662.6 L303.1 663.8 L304.5 664.8 L305.9 665.6 L307.3 666.3 L308.6 666.9 L310 667.4 L311.4 667.8 L312.8 668.1 L314.2 668.4 L315.6 668.6 L315.6 669 L314.2 669 L312.8 668.9 L311.4 668.9 L310 668.8 L308.6 668.7 L307.3 668.7 L305.9 668.6 L304.5 668.5 L303.1 668.5 L301.7 668.4 L300.3 668.3 L298.9 668.3 L297.5 668.2 L296.1 668.1 L294.7 668.1 L293.3 668 L291.9 667.9 L290.6 667.9 L289.2 667.8 L287.8 667.7 L286.4 667.7 L285 667.6 L283.6 667.5 L282.2 667.5 L280.8 667.4 L279.4 667.3 L278 667.3 L276.6 667.2 L275.3 667.1 L273.9 667.1 L272.5 667 L271.1 666.9 L269.7 666.9 L268.3 666.8 L266.9 666.7 L265.5 666.7 L264.1 666.6 L262.7 666.5 L261.3 666.5 L259.9 666.4 L258.6 666.4 L257.2 666.3 L255.8 666.2 L254.4 666.2 L253 666.1 L251.6 666 L250.2 666 L248.8 665.9 L247.4 665.8 L246 665.8 L244.6 665.7 L243.3 665.6 L241.9 665.6 L240.5 665.5 L239.1 665.4 L237.7 665.4 L236.3 665.3 L234.9 665.2 L233.5 665.2 L232.1 665.1 L230.7 665 L229.3 665 L227.9 665 L226.6 665 L225.2 664.9 L223.8 664.9 L222.4 664.9 L221 664.9 L219.6 664.9 Z" fill="#ea543a" fill-opacity="1" stroke="none"/>
<path d="M285.4 667.3 L286.9 667.3 L288.5 667.3 L290 667.2 L291.5 667.1 L293.1 666.9 L294.6 666.7 L296.1 666.3 L297.6 666 L299.2 665.5 L300.7 664.9 L302.2 664.1 L303.8 663.3 L305.3 662.3 L306.8 661.1 L308.4 659.7 L309.9 658.2 L311.4 656.5 L312.9 654.7 L314.5 652.6 L316 650.4 L317.5 648.1 L319.1 645.7 L320.6 643.2 L322.1 640.7 L323.7 638.2 L325.2 635.8 L326.7 633.5 L328.3 631.3 L329.8 629.3 L331.3 627.6 L332.8 626.2 L334.4 625.2 L335.9 624.5 L337.4 624.1 L339 624.2 L340.5 624.7 L342 625.5 L343.6 626.7 L345.1 628.3 L346.6 630.1 L348.1 632.2 L349.7 634.5 L351.2 637 L352.7 639.6 L354.3 642.2 L355.8 644.9 L357.3 647.5 L358.9 650.1 L360.4 652.5 L361.9 654.9 L363.5 657.1 L365 659.1 L366.5 660.9 L368 662.6 L369.6 664.1 L371.1 665.4 L372.6 666.5 L374.2 667.5 L375.7 668.4 L377.2 669.2 L378.8 669.8 L380.3 670.2 L381.8 670.6 L383.3 670.9 L384.9 671.2 L386.4 671.4 L387.9 671.6 L389.5 671.7 L391 671.8 L391 672.1 L389.5 672 L387.9 672 L386.4 672 L384.9 672 L383.3 672 L381.8 672 L380.3 672 L378.8 672 L377.2 672 L375.7 671.9 L374.2 671.8 L372.6 671.7 L371.1 671.7 L369.6 671.6 L368 671.5 L366.5 671.5 L365 671.4 L363.5 671.3 L361.9 671.2 L360.4 671.2 L358.9 671.1 L357.3 671 L355.8 671 L354.3 670.9 L352.7 670.8 L351.2 670.7 L349.7 670.7 L348.1 670.6 L346.6 670.5 L345.1 670.4 L343.6 670.4 L342 670.3 L340.5 670.2 L339 670.2 L337.4 670.1 L335.9 670 L334.4 669.9 L332.8 669.9 L331.3 669.8 L329.8 669.7 L328.3 669.6 L326.7 669.6 L325.2 669.5 L323.7 669.4 L322.1 669.4 L320.6 669.3 L319.1 669.2 L317.5 669.1 L316 669.1 L314.5 669 L312.9 668.9 L311.4 668.9 L309.9 668.8 L308.4 668.7 L306.8 668.6 L305.3 668.6 L303.8 668.5 L302.2 668.4 L300.7 668.3 L299.2 668.3 L297.6 668.2 L296.1 668.1 L294.6 668.1 L293.1 668 L291.5 667.9 L290 667.8 L288.5 667.8 L286.9 667.7 L285.4 667.6 Z" fill="#4a67aa" fill-opacity="1" stroke="none"/>
<path d="M122.2 663.7 L123.5 663.6 L124.8 663.5 L126.1 663.5 L127.4 663.4 L128.7 663.2 L130 663 L131.3 662.8 L132.6 662.5 L133.9 662.2 L135.2 661.8 L136.5 661.3 L137.8 660.7 L139.1 660 L140.4 659.3 L141.7 658.4 L143 657.4 L144.3 656.3 L145.6 655.1 L146.9 653.8 L148.2 652.4 L149.5 650.9 L150.8 649.3 L152.1 647.7 L153.4 646.1 L154.7 644.5 L156 642.9 L157.3 641.4 L158.6 640 L159.9 638.8 L161.2 637.7 L162.5 636.8 L163.8 636 L165.1 635.6 L166.4 635.3 L167.6 635.4 L168.9 635.6 L170.2 636.1 L171.5 636.9 L172.8 637.8 L174.1 638.9 L175.4 640.2 L176.7 641.7 L178 643.2 L179.3 644.8 L180.6 646.4 L181.9 648.1 L183.2 649.7 L184.5 651.3 L185.8 652.8 L187.1 654.2 L188.4 655.6 L189.7 656.8 L191 657.9 L192.3 658.9 L193.6 659.8 L194.9 660.6 L196.2 661.3 L197.5 662 L198.8 662.5 L200.1 662.9 L201.4 663.3 L202.7 663.6 L204 663.8 L205.3 664 L206.6 664.2 L207.9 664.4 L209.2 664.5 L210.5 664.6 L211.8 664.6" fill="none" stroke="#6e7272" stroke-width="3.6" stroke-linejoin="round"/>
<path d="M219.6 664.4 L221 664.3 L222.4 664.1 L223.8 663.9 L225.2 663.5 L226.6 663.1 L227.9 662.6 L229.3 662 L230.7 661.3 L232.1 660.4 L233.5 659.3 L234.9 658.1 L236.3 656.6 L237.7 654.8 L239.1 652.8 L240.5 650.5 L241.9 647.9 L243.3 645 L244.6 641.8 L246 638.4 L247.4 634.7 L248.8 630.7 L250.2 626.6 L251.6 622.4 L253 618.2 L254.4 613.9 L255.8 609.8 L257.2 605.8 L258.6 602.1 L259.9 598.8 L261.3 595.9 L262.7 593.5 L264.1 591.7 L265.5 590.4 L266.9 589.8 L268.3 589.9 L269.7 590.6 L271.1 592 L272.5 594 L273.9 596.5 L275.3 599.5 L276.6 603 L278 606.8 L279.4 610.9 L280.8 615.2 L282.2 619.5 L283.6 623.9 L285 628.3 L286.4 632.5 L287.8 636.6 L289.2 640.4 L290.6 644 L291.9 647.3 L293.3 650.3 L294.7 653.1 L296.1 655.5 L297.5 657.7 L298.9 659.5 L300.3 661.2 L301.7 662.6 L303.1 663.8 L304.5 664.8 L305.9 665.6 L307.3 666.3 L308.6 666.9 L310 667.4 L311.4 667.8 L312.8 668.1 L314.2 668.4 L315.6 668.6" fill="none" stroke="#6e7272" stroke-width="3.6" stroke-linejoin="round"/>
<path d="M285.4 667.3 L286.9 667.3 L288.5 667.3 L290 667.2 L291.5 667.1 L293.1 666.9 L294.6 666.7 L296.1 666.3 L297.6 666 L299.2 665.5 L300.7 664.9 L302.2 664.1 L303.8 663.3 L305.3 662.3 L306.8 661.1 L308.4 659.7 L309.9 658.2 L311.4 656.5 L312.9 654.7 L314.5 652.6 L316 650.4 L317.5 648.1 L319.1 645.7 L320.6 643.2 L322.1 640.7 L323.7 638.2 L325.2 635.8 L326.7 633.5 L328.3 631.3 L329.8 629.3 L331.3 627.6 L332.8 626.2 L334.4 625.2 L335.9 624.5 L337.4 624.1 L339 624.2 L340.5 624.7 L342 625.5 L343.6 626.7 L345.1 628.3 L346.6 630.1 L348.1 632.2 L349.7 634.5 L351.2 637 L352.7 639.6 L354.3 642.2 L355.8 644.9 L357.3 647.5 L358.9 650.1 L360.4 652.5 L361.9 654.9 L363.5 657.1 L365 659.1 L366.5 660.9 L368 662.6 L369.6 664.1 L371.1 665.4 L372.6 666.5 L374.2 667.5 L375.7 668.4 L377.2 669.2 L378.8 669.8 L380.3 670.2 L381.8 670.6 L383.3 670.9 L384.9 671.2 L386.4 671.4 L387.9 671.6 L389.5 671.7 L391 671.8" fill="none" stroke="#6e7272" stroke-width="3.6" stroke-linejoin="round"/>
<path d="M46 664 L57.7 664.1 L69.4 664.3 L81.1 664.4 L92.8 664.5 L104.5 664.6 L116.2 664.8 L127.8 664.9 L139.5 665 L151.2 665.1 L162.9 665.3 L174.6 665.4 L186.3 665.5 L198 665.7 L209.7 665.8 L221.4 665.9 L233.1 666.1 L244.8 666.7 L256.5 667.3 L268.2 667.8 L279.8 668.4 L291.5 668.9 L303.2 669.5 L314.9 670 L326.6 670.6 L338.3 671.1 L350 671.7 L361.7 672.2 L373.4 672.8 L385.1 673 L396.8 673.1 L408.5 673.1 L420.2 673.2 L431.8 673.2 L443.5 673.3 L455.2 673.3 L466.9 673.4 L478.6 673.4 L490.3 673.5 L502 673.5" fill="none" stroke="#6e7272" stroke-width="5"/>
<path d="M46 663 L49.8 663 L53.7 663.1 L57.5 663.1 L61.4 663.2 L65.2 663.2 L69 663.3 L72.9 663.3 L76.7 663.3 L80.6 663.4 L84.4 663.4 L88.2 663.5 L92.1 663.5 L95.9 663.5 L99.8 663.6 L103.6 663.6 L107.4 663.7 L111.3 663.7 L115.1 663.7 L119 663.7 L122.8 663.6 L126.6 663.4 L130.5 663 L134.3 662.1 L138.2 660.5 L142 658.1 L145.8 654.8 L149.7 650.6 L153.5 645.9 L157.4 641.3 L161.2 637.6 L165.1 635.6 L168.9 635.6 L172.7 637.7 L176.6 641.5 L180.4 646.1 L184.3 650.9 L188.1 655.2 L191.9 658.6 L195.8 661.1 L199.6 662.7 L203.5 663.7 L207.3 664.3 L211.1 664.5 L215 664.6 L218.8 664.5 L222.7 664 L226.5 663.2 L230.3 661.5 L234.2 658.8 L238 654.4 L241.9 647.9 L245.7 639.2 L249.5 628.6 L253.4 617 L257.2 605.7 L261.1 596.5 L264.9 590.9 L268.7 590 L272.6 594.1 L276.4 602.4 L280.3 613.4 L284.1 625.3 L287.9 636.6 L291.8 646 L295.6 653 L299.5 657.3 L303.3 659 L307.1 658.4 L311 655.9 L314.8 651.6 L318.7 646.1 L322.5 640 L326.3 634 L330.2 628.8 L334 625.4 L337.9 624.1 L341.7 625.3 L345.5 628.8 L349.4 634.1 L353.2 640.4 L357.1 647.1 L360.9 653.3 L364.7 658.8 L368.6 663.1 L372.4 666.4 L376.3 668.7 L380.1 670.2 L383.9 671 L387.8 671.5 L391.6 671.8 L395.5 672 L399.3 672 L403.2 672.1 L407 672.1 L410.8 672.1 L414.7 672.1 L418.5 672.2 L422.4 672.2 L426.2 672.2 L430 672.2 L433.9 672.2 L437.7 672.2 L441.6 672.3 L445.4 672.3 L449.2 672.3 L453.1 672.3 L456.9 672.3 L460.8 672.3 L464.6 672.3 L468.4 672.4 L472.3 672.4 L476.1 672.4 L480 672.4 L483.8 672.4 L487.6 672.4 L491.5 672.5 L495.3 672.5 L499.2 672.5 L503 672.5" fill="none" stroke="#6e7272" stroke-width="4.8"/>
<rect x="48.5" y="652.1" width="7" height="3.2" fill="#000"/>
<rect x="53.2" y="653.3" width="7" height="3.2" fill="#000"/>
<rect x="58" y="655.7" width="7" height="3.2" fill="#000"/>
<rect x="61" y="650.2" width="7" height="3.2" fill="#000"/>
<rect x="66.7" y="652.5" width="7" height="3.2" fill="#000"/>
<rect x="70.2" y="659.2" width="7" height="3.2" fill="#000"/>
<rect x="74.6" y="657.8" width="7" height="3.2" fill="#000"/>
<rect x="79" y="656" width="7" height="3.2" fill="#000"/>
<rect x="82.3" y="656" width="7" height="3.2" fill="#000"/>
<rect x="88.1" y="655.1" width="7" height="3.2" fill="#000"/>
<rect x="93.5" y="656.5" width="7" height="3.2" fill="#000"/>
<rect x="96.4" y="657.3" width="7" height="3.2" fill="#000"/>
<rect x="101.2" y="653.2" width="7" height="3.2" fill="#000"/>
<rect x="104" y="658.4" width="7" height="3.2" fill="#000"/>
<rect x="108.4" y="657.1" width="7" height="3.2" fill="#000"/>
<rect x="114.3" y="657" width="7" height="3.2" fill="#000"/>
<rect x="120.3" y="654.1" width="7" height="3.2" fill="#000"/>
<rect x="125.9" y="654" width="7" height="3.2" fill="#000"/>
<rect x="132" y="656.5" width="7" height="3.2" fill="#000"/>
<rect x="135" y="648.5" width="7" height="3.2" fill="#000"/>
<rect x="138.5" y="653.7" width="7" height="3.2" fill="#000"/>
<rect x="142.8" y="646.9" width="7" height="3.2" fill="#000"/>
<rect x="146.6" y="641.6" width="7" height="3.2" fill="#000"/>
<rect x="150.6" y="635.2" width="7" height="3.2" fill="#000"/>
<rect x="155.5" y="631.8" width="7" height="3.2" fill="#000"/>
<rect x="161.4" y="628.7" width="7" height="3.2" fill="#000"/>
<rect x="167.5" y="631.1" width="7" height="3.2" fill="#000"/>
<rect x="173.7" y="635.2" width="7" height="3.2" fill="#000"/>
<rect x="177" y="640.9" width="7" height="3.2" fill="#000"/>
<rect x="183.2" y="648.8" width="7" height="3.2" fill="#000"/>
<rect x="187.9" y="651.6" width="7" height="3.2" fill="#000"/>
<rect x="191.4" y="655" width="7" height="3.2" fill="#000"/>
<rect x="196.2" y="652.2" width="7" height="3.2" fill="#000"/>
<rect x="199.1" y="658.1" width="7" height="3.2" fill="#000"/>
<rect x="205.3" y="652.1" width="7" height="3.2" fill="#000"/>
<rect x="210.9" y="655.2" width="7" height="3.2" fill="#000"/>
<rect x="214.2" y="654.1" width="7" height="3.2" fill="#000"/>
<rect x="219.6" y="658.7" width="7" height="3.2" fill="#000"/>
<rect x="222.5" y="655.7" width="7" height="3.2" fill="#000"/>
<rect x="225.4" y="655.6" width="7" height="3.2" fill="#000"/>
<rect x="229.3" y="654.8" width="7" height="3.2" fill="#000"/>
<rect x="235.5" y="644.4" width="7" height="3.2" fill="#000"/>
<rect x="236.5" y="641.1" width="7" height="3.2" fill="#000"/>
<rect x="240.6" y="634.5" width="7" height="3.2" fill="#000"/>
<rect x="244.9" y="619.9" width="7" height="3.2" fill="#000"/>
<rect x="250.5" y="611.8" width="7" height="3.2" fill="#000"/>
<rect x="257.9" y="590.8" width="7" height="3.2" fill="#000"/>
<rect x="262.6" y="582.9" width="7" height="3.2" fill="#000"/>
<rect x="267.5" y="581" width="7" height="3.2" fill="#000"/>
<rect x="271.6" y="588.7" width="7" height="3.2" fill="#000"/>
<rect x="279.7" y="618.1" width="7" height="3.2" fill="#000"/>
<rect x="287.1" y="638.9" width="7" height="3.2" fill="#000"/>
<rect x="291.7" y="642.8" width="7" height="3.2" fill="#000"/>
<rect x="298.3" y="653.3" width="7" height="3.2" fill="#000"/>
<rect x="306" y="653.3" width="7" height="3.2" fill="#000"/>
<rect x="310" y="646.7" width="7" height="3.2" fill="#000"/>
<rect x="316.8" y="636" width="7" height="3.2" fill="#000"/>
<rect x="321.3" y="628.5" width="7" height="3.2" fill="#000"/>
<rect x="325.3" y="627.3" width="7" height="3.2" fill="#000"/>
<rect x="333.1" y="617.1" width="7" height="3.2" fill="#000"/>
<rect x="338.1" y="621.7" width="7" height="3.2" fill="#000"/>
<rect x="344.4" y="628.2" width="7" height="3.2" fill="#000"/>
<rect x="352.1" y="637.1" width="7" height="3.2" fill="#000"/>
<rect x="357.7" y="647.2" width="7" height="3.2" fill="#000"/>
<rect x="363.4" y="650.3" width="7" height="3.2" fill="#000"/>
<rect x="368.4" y="661.5" width="7" height="3.2" fill="#000"/>
<rect x="372.2" y="656.3" width="7" height="3.2" fill="#000"/>
<rect x="376.5" y="672.3" width="7" height="3.2" fill="#000"/>
<rect x="384.9" y="676.1" width="7" height="3.2" fill="#000"/>
<rect x="394.3" y="675.8" width="7" height="3.2" fill="#000"/>
<rect x="403.7" y="665.9" width="7" height="3.2" fill="#000"/>
<rect x="410.5" y="678.8" width="7" height="3.2" fill="#000"/>
<rect x="418.3" y="678.2" width="7" height="3.2" fill="#000"/>
<rect x="423.2" y="672.2" width="7" height="3.2" fill="#000"/>
<rect x="428.8" y="673.2" width="7" height="3.2" fill="#000"/>
<rect x="436.2" y="665.8" width="7" height="3.2" fill="#000"/>
<rect x="441.6" y="669.6" width="7" height="3.2" fill="#000"/>
<rect x="450.9" y="676.4" width="7" height="3.2" fill="#000"/>
<rect x="456" y="676.9" width="7" height="3.2" fill="#000"/>
<rect x="461" y="674.4" width="7" height="3.2" fill="#000"/>
<rect x="465.9" y="665.8" width="7" height="3.2" fill="#000"/>
<rect x="475" y="668.7" width="7" height="3.2" fill="#000"/>
<rect x="480.4" y="679.6" width="7" height="3.2" fill="#000"/>
<rect x="489.5" y="669.9" width="7" height="3.2" fill="#000"/>
<path d="M200 785.5 L204.9 785.5 L209.7 785.6 L214.6 785.6 L219.5 785.7 L224.4 785.7 L229.2 785.8 L234.1 785.8 L239 785.8 L243.8 785.9 L248.7 785.9 L253.6 786 L258.5 786 L263.3 786.1 L268.2 786.1 L273.1 786.1 L277.9 786.2 L282.8 786.2 L287.7 786.3 L292.6 786.3 L297.4 786.4 L302.3 786.4 L307.2 787.3 L312.1 788.4 L316.9 789.4 L321.8 790.5 L326.7 791.5 L331.5 792.6 L336.4 793.7 L341.3 794.7 L346.2 795.8 L351 796.7 L355.9 797.1 L360.8 797.6 L365.6 798 L370.5 798.5 L375.4 798.4 L380.3 798.1 L385.1 797.8 L390 797.5" fill="none" stroke="#6e7272" stroke-width="5"/>
<path d="M302 774.4 L303.6 773.2 L305.2 771.8 L306.8 770.3 L308.4 768.6 L310 766.4 L311.6 763.9 L313.1 761 L314.7 757.9 L316.3 754.5 L317.9 750.9 L319.5 747.3 L321.1 743.6 L322.7 740 L324.3 736.4 L325.9 732.6 L327.5 728.6 L329.1 724.8 L330.7 721.6 L332.2 719.3 L333.8 717.8 L335.4 717 L337 716.7 L338.6 716.7 L340.2 717 L341.8 717.7 L343.4 718.6 L345 719.7 L346.6 721 L348.2 722.8 L349.8 725.5 L351.3 729 L352.9 733.1 L354.5 737.5 L356.1 742.3 L357.7 747.5 L359.3 753.5 L360.9 760.1 L362.5 766.5 L364.1 772.1 L365.7 776.7 L367.3 780.9 L368.9 784.6 L370.4 787.8 L372 790.5 L373.6 792.5 L375.2 794.1 L376.8 795.3 L378.4 796.2 L380 796.7 L380 798.1 L378.4 798.2 L376.8 798.3 L375.2 798.4 L373.6 798.5 L372 798.6 L370.4 798.5 L368.9 798.3 L367.3 798.2 L365.7 798 L364.1 797.9 L362.5 797.7 L360.9 797.6 L359.3 797.4 L357.7 797.3 L356.1 797.2 L354.5 797 L352.9 796.9 L351.3 796.7 L349.8 796.5 L348.2 796.2 L346.6 795.9 L345 795.5 L343.4 795.2 L341.8 794.8 L340.2 794.5 L338.6 794.1 L337 793.8 L335.4 793.4 L333.8 793.1 L332.2 792.7 L330.7 792.4 L329.1 792.1 L327.5 791.7 L325.9 791.4 L324.3 791 L322.7 790.7 L321.1 790.3 L319.5 790 L317.9 789.6 L316.3 789.3 L314.7 788.9 L313.1 788.6 L311.6 788.3 L310 787.9 L308.4 787.6 L306.8 787.2 L305.2 786.9 L303.6 786.5 L302 786.4 Z" fill="#4a67aa" fill-opacity="1.0"/>
<path d="M239.2 784 L240 784 L240.9 784 L241.7 784 L242.5 784 L243.4 783.9 L244.2 783.9 L245 783.9 L245.9 783.8 L246.7 783.7 L247.5 783.6 L248.4 783.5 L249.2 783.4 L250.1 783.3 L250.9 783.1 L251.7 783 L252.6 782.7 L253.4 782.5 L254.2 782.3 L255.1 782 L255.9 781.7 L256.7 781.4 L257.6 781.1 L258.4 780.8 L259.2 780.4 L260.1 780.1 L260.9 779.8 L261.7 779.5 L262.6 779.2 L263.4 778.9 L264.2 778.7 L265.1 778.5 L265.9 778.4 L266.7 778.3 L267.6 778.2 L268.4 778.2 L269.3 778.3 L270.1 778.4 L270.9 778.5 L271.8 778.7 L272.6 779 L273.4 779.2 L274.3 779.5 L275.1 779.9 L275.9 780.2 L276.8 780.5 L277.6 780.9 L278.4 781.2 L279.3 781.5 L280.1 781.8 L280.9 782.1 L281.8 782.4 L282.6 782.7 L283.4 782.9 L284.3 783.1 L285.1 783.3 L285.9 783.5 L286.8 783.6 L287.6 783.8 L288.5 783.9 L289.3 784 L290.1 784 L291 784.1 L291.8 784.2 L292.6 784.2 L293.5 784.2 L294.3 784.3 L295.1 784.3 L296 784.3 L296.8 784.3 L296.8 784.4 L296 784.4 L295.1 784.4 L294.3 784.4 L293.5 784.3 L292.6 784.3 L291.8 784.3 L291 784.3 L290.1 784.3 L289.3 784.3 L288.5 784.3 L287.6 784.3 L286.8 784.3 L285.9 784.3 L285.1 784.3 L284.3 784.3 L283.4 784.3 L282.6 784.3 L281.8 784.3 L280.9 784.3 L280.1 784.3 L279.3 784.3 L278.4 784.3 L277.6 784.3 L276.8 784.3 L275.9 784.3 L275.1 784.2 L274.3 784.2 L273.4 784.2 L272.6 784.2 L271.8 784.2 L270.9 784.2 L270.1 784.2 L269.3 784.2 L268.4 784.2 L267.6 784.2 L266.7 784.2 L265.9 784.2 L265.1 784.2 L264.2 784.2 L263.4 784.2 L262.6 784.2 L261.7 784.2 L260.9 784.2 L260.1 784.2 L259.2 784.2 L258.4 784.2 L257.6 784.2 L256.7 784.1 L255.9 784.1 L255.1 784.1 L254.2 784.1 L253.4 784.1 L252.6 784.1 L251.7 784.1 L250.9 784.1 L250.1 784.1 L249.2 784.1 L248.4 784.1 L247.5 784.1 L246.7 784.1 L245.9 784.1 L245 784.1 L244.2 784.1 L243.4 784.1 L242.5 784.1 L241.7 784.1 L240.9 784.1 L240 784.1 L239.2 784.1 Z" fill="#ea543a" fill-opacity="1" stroke="none"/>
<path d="M46 784 C55.9 784.7 84.7 788.4 105.5 788 C126.3 787.6 151.9 782.8 171 781.6 C190.1 780.4 209.1 781.1 220 780.8 C230.9 780.4 231.1 780.6 236.4 779.5 C241.7 778.4 246.7 775.3 252 774 C257.3 772.7 263 771.2 268.3 771.5 C273.6 771.8 279.7 774.9 284 776 C288.3 777.1 290.8 778.7 294.3 778 C297.8 777.3 301.9 774.8 305 772 C308.1 769.2 309.8 767.1 313 761.3 C316.2 755.5 321 743.7 324 737 C327 730.3 328.8 724.4 331 721 C333.2 717.6 334.8 717 337 716.7 C339.2 716.4 341.8 717.5 344 719 C346.2 720.5 347.8 721.4 350 726 C352.2 730.6 354.9 738.4 357.4 746.4 C359.9 754.4 362 766.5 364.8 774.3 C367.6 782 370.3 789 374 792.9 C377.7 796.8 379.4 796.9 387.1 797.5 C394.8 798.1 400.9 797.2 420 796.6 C439.1 796 488.3 794.4 502 794" fill="none" stroke="#000" stroke-width="6.0" stroke-linejoin="round" stroke-linecap="round"/>
<rect x="46.5" y="782" width="7" height="3" fill="#000"/>
<rect x="58" y="784.6" width="7" height="3" fill="#000"/>
<rect x="70.8" y="784" width="7" height="3" fill="#000"/>
<rect x="78.6" y="784.5" width="7" height="3" fill="#000"/>
<rect x="86.4" y="787" width="7" height="3" fill="#000"/>
<rect x="93.5" y="786.6" width="7" height="3" fill="#000"/>
<rect x="101.2" y="785.8" width="7" height="3" fill="#000"/>
<rect x="110.6" y="787.3" width="7" height="3" fill="#000"/>
<rect x="121.5" y="783.4" width="7" height="3" fill="#000"/>
<rect x="129.7" y="783" width="7" height="3" fill="#000"/>
<rect x="142.7" y="783.8" width="7" height="3" fill="#000"/>
<rect x="155.1" y="782.4" width="7" height="3" fill="#000"/>
<rect x="167.1" y="781.7" width="7" height="3" fill="#000"/>
<rect x="179.4" y="778.7" width="7" height="3" fill="#000"/>
<rect x="192.2" y="779.3" width="7" height="3" fill="#000"/>
<rect x="204.3" y="779.6" width="7" height="3" fill="#000"/>
<rect x="213.7" y="778.9" width="7" height="3" fill="#000"/>
<rect x="223.1" y="778.4" width="7" height="3" fill="#000"/>
<rect x="230.1" y="779.7" width="7" height="3" fill="#000"/>
<rect x="242.5" y="776.3" width="7" height="3" fill="#000"/>
<rect x="254" y="771.4" width="7" height="3" fill="#000"/>
<rect x="266" y="768.8" width="7" height="3" fill="#000"/>
<rect x="277.4" y="773.3" width="7" height="3" fill="#000"/>
<rect x="284.8" y="774.7" width="7" height="3" fill="#000"/>
<rect x="295" y="774.1" width="7" height="3" fill="#000"/>
<rect x="304.7" y="767.7" width="7" height="3" fill="#000"/>
<rect x="313.8" y="749.4" width="7" height="3" fill="#000"/>
<rect x="323.8" y="726.7" width="7" height="3" fill="#000"/>
<rect x="331.6" y="714.5" width="7" height="3" fill="#000"/>
<rect x="340.6" y="716" width="7" height="3" fill="#000"/>
<rect x="351.8" y="739.9" width="7" height="3" fill="#000"/>
<rect x="360.9" y="772.4" width="7" height="3" fill="#000"/>
<rect x="374.4" y="792.8" width="7" height="3" fill="#000"/>
<rect x="381.5" y="796.9" width="7" height="3" fill="#000"/>
<rect x="394.2" y="796.6" width="7" height="3" fill="#000"/>
<rect x="401.5" y="795.4" width="7" height="3" fill="#000"/>
<rect x="414.4" y="796.6" width="7" height="3" fill="#000"/>
<rect x="426.9" y="793.7" width="7" height="3" fill="#000"/>
<rect x="439.7" y="793.9" width="7" height="3" fill="#000"/>
<rect x="451.4" y="792.7" width="7" height="3" fill="#000"/>
<rect x="465.2" y="793.9" width="7" height="3" fill="#000"/>
<rect x="477" y="792.1" width="7" height="3" fill="#000"/>
<rect x="487.9" y="793.1" width="7" height="3" fill="#000"/>
<path d="M205 925 L209.8 925 L214.7 924.9 L219.5 924.9 L224.4 924.9 L229.2 924.8 L234.1 924.8 L238.9 924.8 L243.8 924.7 L248.6 924.7 L253.5 924.7 L258.3 924.6 L263.2 924.6 L268 924.6 L272.8 924.5 L277.7 924.5 L282.5 924.6 L287.4 924.8 L292.2 925 L297.1 925.2 L301.9 925.3 L306.8 925.5 L311.6 925.7 L316.5 925.9 L321.3 926.1 L326.2 926.3 L331 926.5 L335.8 926.8 L340.7 927.1 L345.5 927.4 L350.4 927.7 L355.2 928 L360.1 928.4 L364.9 928.7 L369.8 929 L374.6 929.3 L379.5 929.7 L384.3 930 L389.2 930.3 L394 930.5" fill="none" stroke="#6e7272" stroke-width="7"/>
<path d="M197 923.9 L198.4 923.9 L199.8 923.9 L201.2 923.9 L202.6 923.8 L204 923.8 L205.3 923.7 L206.7 923.7 L208.1 923.6 L209.5 923.5 L210.9 923.3 L212.3 923.2 L213.7 923 L215.1 922.8 L216.5 922.5 L217.9 922.2 L219.3 921.9 L220.7 921.6 L222 921.2 L223.4 920.8 L224.8 920.4 L226.2 919.9 L227.6 919.4 L229 918.9 L230.4 918.4 L231.8 917.9 L233.2 917.4 L234.6 916.9 L236 916.5 L237.3 916.1 L238.7 915.8 L240.1 915.5 L241.5 915.2 L242.9 915.1 L244.3 915 L245.7 915 L247.1 915.1 L248.5 915.2 L249.9 915.5 L251.3 915.8 L252.7 916.1 L254 916.5 L255.4 916.9 L256.8 917.4 L258.2 917.9 L259.6 918.4 L261 918.9 L262.4 919.4 L263.8 919.9 L265.2 920.4 L266.6 920.8 L268 921.2 L269.3 921.6 L270.7 921.9 L272.1 922.2 L273.5 922.5 L274.9 922.8 L276.3 923 L277.7 923.2 L279.1 923.3 L280.5 923.5 L281.9 923.6 L283.3 923.7 L284.7 923.7 L286 923.8 L287.4 923.8 L288.8 923.9 L290.2 923.9 L291.6 923.9 L293 923.9 L293 924 L291.6 924 L290.2 924 L288.8 924 L287.4 924 L286 924 L284.7 924 L283.3 924 L281.9 924 L280.5 924 L279.1 924 L277.7 924 L276.3 924 L274.9 924 L273.5 924 L272.1 924 L270.7 924 L269.3 924 L268 924 L266.6 924 L265.2 924 L263.8 924 L262.4 924 L261 924 L259.6 924 L258.2 924 L256.8 924 L255.4 924 L254 924 L252.7 924 L251.3 924 L249.9 924 L248.5 924 L247.1 924 L245.7 924 L244.3 924 L242.9 924 L241.5 924 L240.1 924 L238.7 924 L237.3 924 L236 924 L234.6 924 L233.2 924 L231.8 924 L230.4 924 L229 924 L227.6 924 L226.2 924 L224.8 924 L223.4 924 L222 924 L220.7 924 L219.3 924 L217.9 924 L216.5 924 L215.1 924 L213.7 924 L212.3 924 L210.9 924 L209.5 924 L208.1 924 L206.7 924 L205.3 924 L204 924 L202.6 924 L201.2 924 L199.8 924 L198.4 924 L197 924 Z" fill="#ffffff" fill-opacity="1" stroke="none"/>
<path d="M197 923.9 L198.4 923.9 L199.8 923.9 L201.2 923.9 L202.6 923.8 L204 923.8 L205.3 923.7 L206.7 923.7 L208.1 923.6 L209.5 923.5 L210.9 923.3 L212.3 923.2 L213.7 923 L215.1 922.8 L216.5 922.5 L217.9 922.2 L219.3 921.9 L220.7 921.6 L222 921.2 L223.4 920.8 L224.8 920.4 L226.2 919.9 L227.6 919.4 L229 918.9 L230.4 918.4 L231.8 917.9 L233.2 917.4 L234.6 916.9 L236 916.5 L237.3 916.1 L238.7 915.8 L240.1 915.5 L241.5 915.2 L242.9 915.1 L244.3 915 L245.7 915 L247.1 915.1 L248.5 915.2 L249.9 915.5 L251.3 915.8 L252.7 916.1 L254 916.5 L255.4 916.9 L256.8 917.4 L258.2 917.9 L259.6 918.4 L261 918.9 L262.4 919.4 L263.8 919.9 L265.2 920.4 L266.6 920.8 L268 921.2 L269.3 921.6 L270.7 921.9 L272.1 922.2 L273.5 922.5 L274.9 922.8 L276.3 923 L277.7 923.2 L279.1 923.3 L280.5 923.5 L281.9 923.6 L283.3 923.7 L284.7 923.7 L286 923.8 L287.4 923.8 L288.8 923.9 L290.2 923.9 L291.6 923.9 L293 923.9" fill="none" stroke="#6e7272" stroke-width="3" stroke-linejoin="round"/>
<path d="M297 924.3 L298.5 924.1 L300 923.9 L301.6 923.6 L303.1 923.3 L304.6 922.9 L306.1 922.4 L307.7 921.8 L309.2 921 L310.7 920.2 L312.2 919.2 L313.7 918.1 L315.3 916.8 L316.8 915.3 L318.3 913.7 L319.8 911.8 L321.3 909.8 L322.9 907.5 L324.4 905 L325.9 902.4 L327.4 899.5 L329 896.4 L330.5 893.2 L332 889.9 L333.5 887 L335 883.9 L336.6 880.7 L338.1 877.5 L339.6 874.1 L341.1 870.7 L342.7 867.1 L344.2 863.1 L345.7 859.2 L347.2 856.5 L348.7 854.2 L350.3 852.1 L351.8 850.5 L353.3 849.3 L354.8 848.5 L356.3 848.2 L357.9 848.4 L359.4 849.3 L360.9 851.1 L362.4 853.6 L364 856.8 L365.5 860.5 L367 864.8 L368.5 869.4 L370 874.2 L371.6 879.2 L373.1 884.2 L374.6 889.2 L376.1 894 L377.7 898.5 L379.2 902.8 L380.7 906.8 L382.2 910.4 L383.7 913.6 L385.3 916.5 L386.8 919 L388.3 921.2 L389.8 923.1 L391.3 924.6 L392.9 925.9 L394.4 926.9 L395.9 927.7 L397.4 928.4 L399 928.9 L400.5 929.3 L402 929.6 L402 930.5 L400.5 930.5 L399 930.5 L397.4 930.5 L395.9 930.5 L394.4 930.5 L392.9 930.5 L391.3 930.5 L389.8 930.4 L388.3 930.3 L386.8 930.2 L385.3 930.1 L383.7 929.9 L382.2 929.8 L380.7 929.7 L379.2 929.6 L377.7 929.5 L376.1 929.4 L374.6 929.3 L373.1 929.2 L371.6 929.1 L370 929 L368.5 928.9 L367 928.8 L365.5 928.7 L364 928.6 L362.4 928.5 L360.9 928.4 L359.4 928.3 L357.9 928.2 L356.3 928.1 L354.8 928 L353.3 927.9 L351.8 927.8 L350.3 927.7 L348.7 927.6 L347.2 927.5 L345.7 927.4 L344.2 927.3 L342.7 927.2 L341.1 927.1 L339.6 927 L338.1 926.9 L336.6 926.8 L335 926.7 L333.5 926.6 L332 926.5 L330.5 926.4 L329 926.4 L327.4 926.3 L325.9 926.3 L324.4 926.2 L322.9 926.1 L321.3 926.1 L319.8 926 L318.3 926 L316.8 925.9 L315.3 925.9 L313.7 925.8 L312.2 925.7 L310.7 925.7 L309.2 925.6 L307.7 925.6 L306.1 925.5 L304.6 925.4 L303.1 925.4 L301.6 925.3 L300 925.3 L298.5 925.2 L297 925.2 Z" fill="#4a67aa" fill-opacity="1.0"/>
<path d="M46 922 C52.3 923.5 70 929.2 83.6 931.3 C97.1 933.3 112.7 934.1 127.3 934.3 C141.9 934.5 157.9 933.8 171 932.6 C184.1 931.4 193.5 929.9 205.8 927 C218.1 924.1 235.1 916.7 245 915 C254.9 913.3 258.4 916.5 265 917 C271.6 917.5 278 918.6 284.4 918.2 C290.8 917.8 298.1 916.2 303.4 914.5 C308.7 912.8 312.7 910.4 316.4 908 C320.1 905.6 322.9 903.2 325.5 900.2 C328.1 897.2 330.1 893.3 332 889.8 C333.9 886.3 335.5 883.1 337.2 879.4 C338.9 875.7 340.7 871.8 342.4 867.7 C344.1 863.6 345.9 858 347.6 854.7 C349.3 851.5 351.1 849.5 352.8 848.2 C354.5 846.9 356.3 846.5 358 846.9 C359.7 847.3 361.5 848 363.2 850.8 C364.9 853.6 366.7 859 368.4 863.8 C370.1 868.6 372.1 874.6 373.6 879.4 C375.1 884.2 376.2 888.1 377.5 892.4 C378.8 896.7 379.9 901.1 381.4 905.4 C382.9 909.7 384.7 915.1 386.6 918.4 C388.6 921.6 389.2 923.5 393.1 924.9 C397 926.3 400.5 926.7 410 926.9 C419.5 927.1 434.7 926.4 450 926 C465.3 925.6 493.3 924.9 502 924.7" fill="none" stroke="#000" stroke-width="6.0" stroke-linejoin="round" stroke-linecap="round"/>
<rect x="44" y="921" width="8" height="3.4" fill="#000"/>
<rect x="54" y="926.9" width="8" height="3.4" fill="#000"/>
<rect x="60.6" y="927.3" width="8" height="3.4" fill="#000"/>
<rect x="69.9" y="928.9" width="8" height="3.4" fill="#000"/>
<rect x="75.4" y="925.6" width="8" height="3.4" fill="#000"/>
<rect x="82.7" y="931.8" width="8" height="3.4" fill="#000"/>
<rect x="89.1" y="930.8" width="8" height="3.4" fill="#000"/>
<rect x="95.9" y="933.8" width="8" height="3.4" fill="#000"/>
<rect x="106.8" y="931.4" width="8" height="3.4" fill="#000"/>
<rect x="118" y="929.4" width="8" height="3.4" fill="#000"/>
<rect x="128" y="935.3" width="8" height="3.4" fill="#000"/>
<rect x="133.7" y="934" width="8" height="3.4" fill="#000"/>
<rect x="142.1" y="935.6" width="8" height="3.4" fill="#000"/>
<rect x="148.3" y="932.5" width="8" height="3.4" fill="#000"/>
<rect x="158.7" y="932.5" width="8" height="3.4" fill="#000"/>
<rect x="165.5" y="928.1" width="8" height="3.4" fill="#000"/>
<rect x="176.3" y="929.7" width="8" height="3.4" fill="#000"/>
<rect x="187.5" y="925.8" width="8" height="3.4" fill="#000"/>
<rect x="197.5" y="928.5" width="8" height="3.4" fill="#000"/>
<rect x="208.2" y="920.2" width="8" height="3.4" fill="#000"/>
<rect x="215.3" y="918.1" width="8" height="3.4" fill="#000"/>
<rect x="225" y="916.9" width="8" height="3.4" fill="#000"/>
<rect x="235.9" y="913.6" width="8" height="3.4" fill="#000"/>
<rect x="245.7" y="915.4" width="8" height="3.4" fill="#000"/>
<rect x="252" y="913.8" width="8" height="3.4" fill="#000"/>
<rect x="262.9" y="915.7" width="8" height="3.4" fill="#000"/>
<rect x="270" y="914.6" width="8" height="3.4" fill="#000"/>
<rect x="279.8" y="914.4" width="8" height="3.4" fill="#000"/>
<rect x="288.5" y="915.9" width="8" height="3.4" fill="#000"/>
<rect x="296.9" y="911" width="8" height="3.4" fill="#000"/>
<rect x="305.9" y="913.1" width="8" height="3.4" fill="#000"/>
<rect x="312.7" y="904.9" width="8" height="3.4" fill="#000"/>
<rect x="323.3" y="896.6" width="8" height="3.4" fill="#000"/>
<rect x="329.9" y="881.2" width="8" height="3.4" fill="#000"/>
<rect x="339.5" y="862.2" width="8" height="3.4" fill="#000"/>
<rect x="347.3" y="846.2" width="8" height="3.4" fill="#000"/>
<rect x="356.1" y="847.6" width="8" height="3.4" fill="#000"/>
<rect x="362.9" y="855" width="8" height="3.4" fill="#000"/>
<rect x="374" y="895.4" width="8" height="3.4" fill="#000"/>
<rect x="379" y="908.7" width="8" height="3.4" fill="#000"/>
<rect x="388.2" y="922.1" width="8" height="3.4" fill="#000"/>
<rect x="397.6" y="928.1" width="8" height="3.4" fill="#000"/>
<rect x="406.2" y="924.4" width="8" height="3.4" fill="#000"/>
<rect x="412.3" y="923.5" width="8" height="3.4" fill="#000"/>
<rect x="418" y="922.4" width="8" height="3.4" fill="#000"/>
<rect x="424.2" y="927.3" width="8" height="3.4" fill="#000"/>
<rect x="432.4" y="926.8" width="8" height="3.4" fill="#000"/>
<rect x="443.1" y="926.5" width="8" height="3.4" fill="#000"/>
<rect x="448.2" y="927.2" width="8" height="3.4" fill="#000"/>
<rect x="453.6" y="926" width="8" height="3.4" fill="#000"/>
<rect x="463.8" y="925" width="8" height="3.4" fill="#000"/>
<rect x="471.2" y="920.7" width="8" height="3.4" fill="#000"/>
<rect x="476.5" y="924.5" width="8" height="3.4" fill="#000"/>
<rect x="482.9" y="923.6" width="8" height="3.4" fill="#000"/>
<rect x="489.4" y="920.9" width="8" height="3.4" fill="#000"/>
<path d="M236 1019 L240.1 1019.2 L244.1 1019.5 L248.2 1019.7 L252.2 1019.9 L256.3 1020.2 L260.3 1020.4 L264.4 1020.6 L268.4 1020.8 L272.5 1021.1 L276.5 1021.3 L280.6 1021.5 L284.6 1021.9 L288.7 1022.3 L292.7 1022.6 L296.8 1023 L300.8 1023.3 L304.9 1023.7 L308.9 1024 L313 1024.4 L317 1024.8 L321.1 1025.1 L325.1 1025.5 L329.2 1025.8 L333.2 1026.2 L337.3 1026.5 L341.3 1026.9 L345.4 1027.2 L349.4 1027.6 L353.5 1028 L357.5 1028.3 L361.6 1028.7 L365.6 1029 L369.7 1029.4 L373.7 1029.7 L377.8 1029.9 L381.8 1030.2 L385.9 1030.5 L389.9 1030.7 L394 1031" fill="none" stroke="#6e7272" stroke-width="5.5"/>
<path d="M289.5 1021.4 L291 1021.2 L292.5 1021.1 L293.9 1020.8 L295.4 1020.5 L296.9 1020.1 L298.4 1019.6 L299.8 1018.9 L301.3 1018.2 L302.8 1017.3 L304.3 1016.2 L305.8 1014.9 L307.2 1013.5 L308.7 1011.8 L310.2 1010 L311.7 1007.9 L313.2 1005.6 L314.6 1003 L316.1 1000.2 L317.6 997.2 L319.1 993.9 L320.5 990.5 L322 987.3 L323.5 984.8 L325 981.9 L326.5 978.5 L327.9 974.6 L329.4 970.5 L330.9 966.1 L332.4 961.5 L333.8 957 L335.3 953 L336.8 949.3 L338.3 946.5 L339.8 944.1 L341.2 942.2 L342.7 940.7 L344.2 939.8 L345.7 939.4 L347.2 939.5 L348.6 940.4 L350.1 942.2 L351.6 944.7 L353.1 948 L354.5 951.8 L356 956.2 L357.5 961.1 L359 966.2 L360.5 971.5 L361.9 976.9 L363.4 982.2 L364.9 987.5 L366.4 992.5 L367.8 997.6 L369.3 1002.9 L370.8 1007.6 L372.3 1011.9 L373.8 1015.6 L375.2 1018.5 L376.7 1020.5 L378.2 1022.1 L379.7 1023.3 L381.2 1024.1 L382.6 1025.4 L384.1 1026.6 L385.6 1027.5 L387.1 1028.3 L388.5 1028.9 L390 1029.4 L391.5 1029.9 L391.5 1030.8 L390 1030.7 L388.5 1030.6 L387.1 1030.5 L385.6 1030.5 L384.1 1030.4 L382.6 1030.3 L381.2 1030.2 L379.7 1030.1 L378.2 1030 L376.7 1029.9 L375.2 1029.8 L373.8 1029.7 L372.3 1029.6 L370.8 1029.5 L369.3 1029.4 L367.8 1029.2 L366.4 1029.1 L364.9 1029 L363.4 1028.8 L361.9 1028.7 L360.5 1028.6 L359 1028.4 L357.5 1028.3 L356 1028.2 L354.5 1028.1 L353.1 1027.9 L351.6 1027.8 L350.1 1027.7 L348.6 1027.5 L347.2 1027.4 L345.7 1027.3 L344.2 1027.1 L342.7 1027 L341.2 1026.9 L339.8 1026.8 L338.3 1026.6 L336.8 1026.5 L335.3 1026.4 L333.8 1026.2 L332.4 1026.1 L330.9 1026 L329.4 1025.8 L327.9 1025.7 L326.5 1025.6 L325 1025.5 L323.5 1025.3 L322 1025.2 L320.5 1025.1 L319.1 1024.9 L317.6 1024.8 L316.1 1024.7 L314.6 1024.5 L313.2 1024.4 L311.7 1024.3 L310.2 1024.2 L308.7 1024 L307.2 1023.9 L305.8 1023.8 L304.3 1023.6 L302.8 1023.5 L301.3 1023.4 L299.8 1023.2 L298.4 1023.1 L296.9 1023 L295.4 1022.9 L293.9 1022.7 L292.5 1022.6 L291 1022.5 L289.5 1022.3 Z" fill="#4a67aa" fill-opacity="1.0"/>
<path d="M242.2 1016.4 L243 1016.4 L243.9 1016.4 L244.7 1016.5 L245.5 1016.5 L246.4 1016.5 L247.2 1016.5 L248 1016.5 L248.9 1016.5 L249.7 1016.5 L250.5 1016.5 L251.4 1016.4 L252.2 1016.3 L253.1 1016.2 L253.9 1016.1 L254.7 1016 L255.6 1015.8 L256.4 1015.7 L257.2 1015.5 L258.1 1015.2 L258.9 1015 L259.7 1014.7 L260.6 1014.5 L261.4 1014.2 L262.2 1013.9 L263.1 1013.6 L263.9 1013.3 L264.7 1013.1 L265.6 1012.8 L266.4 1012.6 L267.2 1012.5 L268.1 1012.3 L268.9 1012.2 L269.7 1012.2 L270.6 1012.2 L271.4 1012.2 L272.3 1012.3 L273.1 1012.5 L273.9 1012.7 L274.8 1012.9 L275.6 1013.2 L276.4 1013.5 L277.3 1013.9 L278.1 1014.2 L278.9 1014.6 L279.8 1015 L280.6 1015.4 L281.4 1015.8 L282.3 1016.2 L283.1 1016.5 L283.9 1016.9 L284.8 1017.2 L285.6 1017.5 L286.4 1017.8 L287.3 1018 L288.1 1018.3 L288.9 1018.5 L289.8 1018.7 L290.6 1018.9 L291.5 1019 L292.3 1019.2 L293.1 1019.3 L294 1019.4 L294.8 1019.5 L295.6 1019.6 L296.5 1019.7 L297.3 1019.7 L298.1 1019.8 L299 1019.9 L299.8 1020 L299.8 1020 L299 1019.9 L298.1 1019.9 L297.3 1019.8 L296.5 1019.8 L295.6 1019.7 L294.8 1019.7 L294 1019.6 L293.1 1019.6 L292.3 1019.5 L291.5 1019.5 L290.6 1019.4 L289.8 1019.4 L288.9 1019.3 L288.1 1019.3 L287.3 1019.2 L286.4 1019.2 L285.6 1019.1 L284.8 1019 L283.9 1019 L283.1 1018.9 L282.3 1018.9 L281.4 1018.8 L280.6 1018.8 L279.8 1018.7 L278.9 1018.7 L278.1 1018.6 L277.3 1018.6 L276.4 1018.5 L275.6 1018.5 L274.8 1018.4 L273.9 1018.4 L273.1 1018.3 L272.3 1018.3 L271.4 1018.2 L270.6 1018.2 L269.7 1018.1 L268.9 1018.1 L268.1 1018 L267.2 1018 L266.4 1017.9 L265.6 1017.8 L264.7 1017.8 L263.9 1017.7 L263.1 1017.7 L262.2 1017.6 L261.4 1017.6 L260.6 1017.5 L259.7 1017.5 L258.9 1017.4 L258.1 1017.4 L257.2 1017.3 L256.4 1017.3 L255.6 1017.2 L254.7 1017.2 L253.9 1017.1 L253.1 1017.1 L252.2 1017 L251.4 1017 L250.5 1016.9 L249.7 1016.9 L248.9 1016.8 L248 1016.8 L247.2 1016.7 L246.4 1016.6 L245.5 1016.6 L244.7 1016.5 L243.9 1016.5 L243 1016.4 L242.2 1016.4 Z" fill="#ea543a" fill-opacity="1" stroke="none"/>
<path d="M46 1022 C55.9 1022.8 84.7 1026.9 105.5 1027 C126.3 1027.1 149.2 1024.8 171 1022.6 C192.8 1020.4 218.2 1015.5 236.4 1013.8 C254.6 1012 270.1 1012.4 280 1012.1 C289.9 1011.8 291.3 1013.2 295.6 1012.1 C299.9 1011 302.5 1008.4 306 1005.6 C309.5 1002.8 313.4 998.9 316.4 995.2 C319.4 991.5 322 987.6 324.2 983.5 C326.4 979.4 327.7 975.3 329.4 970.5 C331.1 965.7 332.9 959.4 334.6 954.9 C336.3 950.4 338.1 945.8 339.8 943.2 C341.5 940.6 343.3 939.7 345 939.3 C346.7 938.9 348.5 938.6 350.2 940.6 C351.9 942.6 353.7 946 355.4 951 C357.1 956 358.9 964 360.6 970.5 C362.3 977 364.1 983.7 365.8 990 C367.5 996.3 369.3 1003.2 371 1008.2 C372.7 1013.2 374 1017.1 376.2 1019.9 C378.4 1022.7 380.5 1024.2 384 1025.1 C387.5 1026 387.7 1025.1 397 1025.1 C406.3 1025.1 422.5 1025.7 440 1025 C457.5 1024.3 491.7 1021.7 502 1021" fill="none" stroke="#000" stroke-width="6.0" stroke-linejoin="round" stroke-linecap="round"/>
<rect x="44" y="1021.7" width="8" height="3.4" fill="#000"/>
<rect x="53.8" y="1021.7" width="8" height="3.4" fill="#000"/>
<rect x="61.9" y="1021.7" width="8" height="3.4" fill="#000"/>
<rect x="73.1" y="1022.1" width="8" height="3.4" fill="#000"/>
<rect x="78.8" y="1022.5" width="8" height="3.4" fill="#000"/>
<rect x="85.3" y="1023.4" width="8" height="3.4" fill="#000"/>
<rect x="91.8" y="1022.3" width="8" height="3.4" fill="#000"/>
<rect x="98.7" y="1023.9" width="8" height="3.4" fill="#000"/>
<rect x="107.1" y="1023.2" width="8" height="3.4" fill="#000"/>
<rect x="112.4" y="1023.1" width="8" height="3.4" fill="#000"/>
<rect x="120.7" y="1024" width="8" height="3.4" fill="#000"/>
<rect x="130.2" y="1026.4" width="8" height="3.4" fill="#000"/>
<rect x="137.6" y="1020.9" width="8" height="3.4" fill="#000"/>
<rect x="147.1" y="1024.6" width="8" height="3.4" fill="#000"/>
<rect x="154.4" y="1023.3" width="8" height="3.4" fill="#000"/>
<rect x="161.1" y="1024.4" width="8" height="3.4" fill="#000"/>
<rect x="171.2" y="1022.5" width="8" height="3.4" fill="#000"/>
<rect x="182.2" y="1017.2" width="8" height="3.4" fill="#000"/>
<rect x="190.4" y="1019.5" width="8" height="3.4" fill="#000"/>
<rect x="200.4" y="1015.7" width="8" height="3.4" fill="#000"/>
<rect x="206.1" y="1016.5" width="8" height="3.4" fill="#000"/>
<rect x="211.5" y="1016.2" width="8" height="3.4" fill="#000"/>
<rect x="216.4" y="1013.8" width="8" height="3.4" fill="#000"/>
<rect x="224.2" y="1010.4" width="8" height="3.4" fill="#000"/>
<rect x="232.1" y="1012.1" width="8" height="3.4" fill="#000"/>
<rect x="239.3" y="1014.3" width="8" height="3.4" fill="#000"/>
<rect x="249.6" y="1013.7" width="8" height="3.4" fill="#000"/>
<rect x="256" y="1007.4" width="8" height="3.4" fill="#000"/>
<rect x="263.2" y="1007.9" width="8" height="3.4" fill="#000"/>
<rect x="272.5" y="1008.8" width="8" height="3.4" fill="#000"/>
<rect x="278.1" y="1008.9" width="8" height="3.4" fill="#000"/>
<rect x="285.5" y="1012.3" width="8" height="3.4" fill="#000"/>
<rect x="293.3" y="1008.5" width="8" height="3.4" fill="#000"/>
<rect x="302.4" y="1000.4" width="8" height="3.4" fill="#000"/>
<rect x="308.5" y="999.1" width="8" height="3.4" fill="#000"/>
<rect x="318.2" y="982.6" width="8" height="3.4" fill="#000"/>
<rect x="323.4" y="974.5" width="8" height="3.4" fill="#000"/>
<rect x="332.4" y="945.2" width="8" height="3.4" fill="#000"/>
<rect x="340" y="936.3" width="8" height="3.4" fill="#000"/>
<rect x="345.3" y="935.8" width="8" height="3.4" fill="#000"/>
<rect x="352" y="950.8" width="8" height="3.4" fill="#000"/>
<rect x="357.5" y="972.9" width="8" height="3.4" fill="#000"/>
<rect x="367.9" y="1010.3" width="8" height="3.4" fill="#000"/>
<rect x="373.1" y="1020.4" width="8" height="3.4" fill="#000"/>
<rect x="382" y="1020.3" width="8" height="3.4" fill="#000"/>
<rect x="389.2" y="1024.5" width="8" height="3.4" fill="#000"/>
<rect x="400.1" y="1026.5" width="8" height="3.4" fill="#000"/>
<rect x="408.6" y="1024.2" width="8" height="3.4" fill="#000"/>
<rect x="419.5" y="1021.6" width="8" height="3.4" fill="#000"/>
<rect x="427.6" y="1020.5" width="8" height="3.4" fill="#000"/>
<rect x="437.3" y="1024.3" width="8" height="3.4" fill="#000"/>
<rect x="443.5" y="1020.8" width="8" height="3.4" fill="#000"/>
<rect x="451.6" y="1024.2" width="8" height="3.4" fill="#000"/>
<rect x="457.3" y="1020.9" width="8" height="3.4" fill="#000"/>
<rect x="465.4" y="1019.9" width="8" height="3.4" fill="#000"/>
<rect x="475.8" y="1022.4" width="8" height="3.4" fill="#000"/>
<rect x="486.7" y="1021.1" width="8" height="3.4" fill="#000"/>
<rect x="495.9" y="1017.9" width="8" height="3.4" fill="#000"/>
<path d="M284.7 1165.9 L286.2 1165.7 L287.8 1165.4 L289.3 1165.1 L290.8 1164.7 L292.4 1164.2 L293.9 1163.6 L295.4 1162.8 L296.9 1161.9 L298.5 1160.8 L300 1159.4 L301.5 1157.8 L303.1 1155.9 L304.6 1153.7 L306.1 1151.1 L307.7 1148.3 L309.2 1145 L310.7 1141.4 L312.2 1137.5 L313.8 1133.2 L315.3 1128.6 L316.8 1123.8 L318.4 1118.7 L319.9 1113.5 L321.4 1108.2 L323 1103 L324.5 1097.9 L326 1093 L327.6 1088.4 L329.1 1084.3 L330.6 1080.7 L332.1 1077.7 L333.7 1075.4 L335.2 1073.8 L336.7 1073 L338.3 1073 L339.8 1073.8 L341.3 1075.5 L342.9 1077.8 L344.4 1080.8 L345.9 1084.5 L347.4 1088.6 L349 1093.2 L350.5 1098.2 L352 1103.3 L353.6 1108.6 L355.1 1113.9 L356.6 1119.1 L358.2 1124.2 L359.7 1129.1 L361.2 1133.7 L362.8 1138.1 L364.3 1142 L365.8 1145.7 L367.3 1148.9 L368.9 1151.8 L370.4 1154.4 L371.9 1156.6 L373.5 1158.6 L375 1160.2 L376.5 1161.6 L378.1 1162.8 L379.6 1163.8 L381.1 1164.5 L382.6 1165.2 L384.2 1165.7 L385.7 1166.1 L387.2 1166.5 L388.8 1166.7 L390.3 1166.9 L390.3 1167.5 L388.8 1167.5 L387.2 1167.5 L385.7 1167.5 L384.2 1167.4 L382.6 1167.4 L381.1 1167.4 L379.6 1167.4 L378.1 1167.4 L376.5 1167.4 L375 1167.3 L373.5 1167.3 L371.9 1167.3 L370.4 1167.3 L368.9 1167.3 L367.3 1167.2 L365.8 1167.2 L364.3 1167.2 L362.8 1167.2 L361.2 1167.2 L359.7 1167.2 L358.2 1167.1 L356.6 1167.1 L355.1 1167.1 L353.6 1167.1 L352 1167.1 L350.5 1167.1 L349 1167 L347.4 1167 L345.9 1167 L344.4 1167 L342.9 1167 L341.3 1167 L339.8 1166.9 L338.3 1166.9 L336.7 1166.9 L335.2 1166.9 L333.7 1166.9 L332.1 1166.9 L330.6 1166.8 L329.1 1166.8 L327.6 1166.8 L326 1166.8 L324.5 1166.8 L323 1166.8 L321.4 1166.7 L319.9 1166.7 L318.4 1166.7 L316.8 1166.7 L315.3 1166.7 L313.8 1166.7 L312.2 1166.6 L310.7 1166.6 L309.2 1166.6 L307.7 1166.6 L306.1 1166.6 L304.6 1166.6 L303.1 1166.5 L301.5 1166.5 L300 1166.5 L298.5 1166.5 L296.9 1166.5 L295.4 1166.5 L293.9 1166.5 L292.4 1166.5 L290.8 1166.5 L289.3 1166.4 L287.8 1166.4 L286.2 1166.4 L284.7 1166.4 Z" fill="#4a67aa" fill-opacity="1" stroke="none"/>
<path d="M101 1166.4 L103.1 1166.1 L105.2 1165.9 L107.3 1165.5 L109.3 1165.2 L111.4 1164.8 L113.5 1164.3 L115.6 1163.8 L117.7 1163.3 L119.8 1162.7 L121.9 1162.1 L124 1161.3 L126 1160.3 L128.1 1159.3 L130.2 1158 L132.3 1156.6 L134.4 1155 L136.5 1153.3 L138.6 1151.4 L140.7 1149.3 L142.7 1147 L144.8 1144.7 L146.9 1142.2 L149 1139.6 L151.1 1137.1 L153.2 1134.5 L155.3 1132 L157.3 1129.6 L159.4 1127.4 L161.5 1125.4 L163.6 1123.6 L165.7 1122.1 L167.8 1121 L169.9 1120.2 L172 1119.9 L174 1119.9 L176.1 1120.3 L178.2 1121.1 L180.3 1122.2 L182.4 1123.7 L184.5 1125.5 L186.6 1127.5 L188.7 1129.8 L190.7 1132.2 L192.8 1134.7 L194.9 1137.3 L197 1139.9 L199.1 1142.5 L201.2 1145 L203.3 1147.4 L205.3 1149.6 L207.4 1151.7 L209.5 1153.7 L211.6 1155.5 L213.7 1157.1 L215.8 1158.5 L217.9 1159.8 L220 1160.9 L222 1161.8 L224.1 1162.6 L226.2 1163.3 L228.3 1163.9 L230.4 1164.3 L232.5 1164.7 L234.6 1165.1 L236.7 1165.3 L238.7 1165.5 L240.8 1165.7 L242.9 1165.8 L245 1165.9 L245 1166.2 L242.9 1166.2 L240.8 1166.2 L238.7 1166.2 L236.7 1166.2 L234.6 1166.1 L232.5 1166.1 L230.4 1166.1 L228.3 1166.1 L226.2 1166.1 L224.1 1166.1 L222 1166.1 L220 1166.1 L217.9 1166.1 L215.8 1166 L213.7 1166 L211.6 1166 L209.5 1166 L207.4 1166 L205.3 1166 L203.3 1166 L201.2 1166 L199.1 1166 L197 1165.9 L194.9 1165.9 L192.8 1165.9 L190.7 1165.9 L188.7 1165.9 L186.6 1165.9 L184.5 1165.9 L182.4 1165.9 L180.3 1165.8 L178.2 1165.8 L176.1 1165.8 L174 1165.8 L172 1165.8 L169.9 1165.8 L167.8 1165.8 L165.7 1165.8 L163.6 1165.8 L161.5 1165.7 L159.4 1165.7 L157.3 1165.7 L155.3 1165.7 L153.2 1165.7 L151.1 1165.7 L149 1165.7 L146.9 1165.7 L144.8 1165.7 L142.7 1165.6 L140.7 1165.6 L138.6 1165.6 L136.5 1165.6 L134.4 1165.6 L132.3 1165.6 L130.2 1165.6 L128.1 1165.6 L126 1165.6 L124 1165.5 L121.9 1165.5 L119.8 1165.5 L117.7 1165.5 L115.6 1165.5 L113.5 1165.7 L111.4 1165.9 L109.3 1166 L107.3 1166.2 L105.2 1166.4 L103.1 1166.5 L101 1166.7 Z" fill="#ea543a" fill-opacity="1" stroke="none"/>
<path d="M222.2 1165.4 L223.7 1165.2 L225.2 1164.9 L226.7 1164.5 L228.2 1164.1 L229.7 1163.5 L231.2 1162.7 L232.7 1161.8 L234.2 1160.7 L235.7 1159.3 L237.2 1157.7 L238.7 1155.8 L240.2 1153.5 L241.7 1150.8 L243.2 1147.8 L244.7 1144.4 L246.2 1140.5 L247.7 1136.2 L249.2 1131.5 L250.7 1126.4 L252.2 1120.9 L253.7 1115.1 L255.2 1109.1 L256.7 1102.9 L258.2 1096.6 L259.7 1090.3 L261.2 1084.2 L262.7 1078.4 L264.2 1072.9 L265.7 1068 L267.2 1063.7 L268.7 1060.1 L270.2 1057.3 L271.7 1055.4 L273.2 1054.5 L274.8 1054.5 L276.3 1055.4 L277.8 1057.4 L279.3 1060.1 L280.8 1063.7 L282.3 1068.1 L283.8 1073 L285.3 1078.5 L286.8 1084.3 L288.3 1090.5 L289.8 1096.7 L291.3 1103 L292.8 1109.3 L294.3 1115.3 L295.8 1121.1 L297.3 1126.6 L298.8 1131.8 L300.3 1136.5 L301.8 1140.8 L303.3 1144.7 L304.8 1148.2 L306.3 1151.2 L307.8 1153.9 L309.3 1156.2 L310.8 1158.2 L312.3 1159.8 L313.8 1161.2 L315.3 1162.3 L316.8 1163.3 L318.3 1164.1 L319.8 1164.7 L321.3 1165.2 L322.8 1165.6 L324.3 1165.9 L325.8 1166.1 L325.8 1166.8 L324.3 1166.8 L322.8 1166.8 L321.3 1166.7 L319.8 1166.7 L318.3 1166.7 L316.8 1166.7 L315.3 1166.7 L313.8 1166.7 L312.3 1166.6 L310.8 1166.6 L309.3 1166.6 L307.8 1166.6 L306.3 1166.6 L304.8 1166.6 L303.3 1166.5 L301.8 1166.5 L300.3 1166.5 L298.8 1166.5 L297.3 1166.5 L295.8 1166.5 L294.3 1166.5 L292.8 1166.5 L291.3 1166.5 L289.8 1166.4 L288.3 1166.4 L286.8 1166.4 L285.3 1166.4 L283.8 1166.4 L282.3 1166.4 L280.8 1166.4 L279.3 1166.4 L277.8 1166.4 L276.3 1166.4 L274.8 1166.4 L273.2 1166.4 L271.7 1166.3 L270.2 1166.3 L268.7 1166.3 L267.2 1166.3 L265.7 1166.3 L264.2 1166.3 L262.7 1166.3 L261.2 1166.3 L259.7 1166.3 L258.2 1166.3 L256.7 1166.3 L255.2 1166.3 L253.7 1166.2 L252.2 1166.2 L250.7 1166.2 L249.2 1166.2 L247.7 1166.2 L246.2 1166.2 L244.7 1166.2 L243.2 1166.2 L241.7 1166.2 L240.2 1166.2 L238.7 1166.2 L237.2 1166.2 L235.7 1166.2 L234.2 1166.1 L232.7 1166.1 L231.2 1166.1 L229.7 1166.1 L228.2 1166.1 L226.7 1166.1 L225.2 1166.1 L223.7 1166.1 L222.2 1166.1 Z" fill="#ea543a" fill-opacity="0.95" stroke="none"/>
<path d="M188.5 1165.7 L189.9 1165.7 L191.3 1165.6 L192.7 1165.5 L194.1 1165.4 L195.5 1165.2 L196.8 1165 L198.2 1164.7 L199.6 1164.4 L201 1164.1 L202.4 1163.6 L203.8 1163.1 L205.2 1162.5 L206.6 1161.7 L208 1160.9 L209.4 1160 L210.8 1158.9 L212.2 1157.7 L213.5 1156.4 L214.9 1155 L216.3 1153.5 L217.7 1151.9 L219.1 1150.2 L220.5 1148.5 L221.9 1146.8 L223.3 1145.1 L224.7 1143.4 L226.1 1141.8 L227.5 1140.3 L228.8 1138.9 L230.2 1137.7 L231.6 1136.7 L233 1136 L234.4 1135.4 L235.8 1135.2 L237.2 1135.2 L238.6 1135.5 L240 1136 L241.4 1136.8 L242.8 1137.8 L244.2 1139 L245.5 1140.4 L246.9 1141.9 L248.3 1143.5 L249.7 1145.2 L251.1 1146.9 L252.5 1148.7 L253.9 1150.4 L255.3 1152.1 L256.7 1153.7 L258.1 1155.2 L259.5 1156.7 L260.8 1158 L262.2 1159.2 L263.6 1160.3 L265 1161.2 L266.4 1162.1 L267.8 1162.8 L269.2 1163.5 L270.6 1164 L272 1164.5 L273.4 1164.8 L274.8 1165.2 L276.2 1165.4 L277.5 1165.6 L278.9 1165.8 L280.3 1166 L281.7 1166.1 L283.1 1166.2 L284.5 1166.2 L284.5 1166.4 L283.1 1166.4 L281.7 1166.4 L280.3 1166.4 L278.9 1166.4 L277.5 1166.4 L276.2 1166.4 L274.8 1166.4 L273.4 1166.4 L272 1166.3 L270.6 1166.3 L269.2 1166.3 L267.8 1166.3 L266.4 1166.3 L265 1166.3 L263.6 1166.3 L262.2 1166.3 L260.8 1166.3 L259.5 1166.3 L258.1 1166.3 L256.7 1166.3 L255.3 1166.3 L253.9 1166.2 L252.5 1166.2 L251.1 1166.2 L249.7 1166.2 L248.3 1166.2 L246.9 1166.2 L245.5 1166.2 L244.2 1166.2 L242.8 1166.2 L241.4 1166.2 L240 1166.2 L238.6 1166.2 L237.2 1166.2 L235.8 1166.2 L234.4 1166.1 L233 1166.1 L231.6 1166.1 L230.2 1166.1 L228.8 1166.1 L227.5 1166.1 L226.1 1166.1 L224.7 1166.1 L223.3 1166.1 L221.9 1166.1 L220.5 1166.1 L219.1 1166.1 L217.7 1166.1 L216.3 1166 L214.9 1166 L213.5 1166 L212.2 1166 L210.8 1166 L209.4 1166 L208 1166 L206.6 1166 L205.2 1166 L203.8 1166 L202.4 1166 L201 1166 L199.6 1166 L198.2 1165.9 L196.8 1165.9 L195.5 1165.9 L194.1 1165.9 L192.7 1165.9 L191.3 1165.9 L189.9 1165.9 L188.5 1165.9 Z" fill="#c4a37a" fill-opacity="0.97" stroke="none"/>
<path d="M284.7 1165.9 L286.2 1165.7 L287.8 1165.4 L289.3 1165.1 L290.8 1164.7 L292.4 1164.2 L293.9 1163.6 L295.4 1162.8 L296.9 1161.9 L298.5 1160.8 L300 1159.4 L301.5 1157.8 L303.1 1155.9 L304.6 1153.7 L306.1 1151.1 L307.7 1148.3 L309.2 1145 L310.7 1141.4 L312.2 1137.5 L313.8 1133.2 L315.3 1128.6 L316.8 1123.8 L318.4 1118.7 L319.9 1113.5 L321.4 1108.2 L323 1103 L324.5 1097.9 L326 1093 L327.6 1088.4 L329.1 1084.3 L330.6 1080.7 L332.1 1077.7 L333.7 1075.4 L335.2 1073.8 L336.7 1073 L338.3 1073 L339.8 1073.8 L341.3 1075.5 L342.9 1077.8 L344.4 1080.8 L345.9 1084.5 L347.4 1088.6 L349 1093.2 L350.5 1098.2 L352 1103.3 L353.6 1108.6 L355.1 1113.9 L356.6 1119.1 L358.2 1124.2 L359.7 1129.1 L361.2 1133.7 L362.8 1138.1 L364.3 1142 L365.8 1145.7 L367.3 1148.9 L368.9 1151.8 L370.4 1154.4 L371.9 1156.6 L373.5 1158.6 L375 1160.2 L376.5 1161.6 L378.1 1162.8 L379.6 1163.8 L381.1 1164.5 L382.6 1165.2 L384.2 1165.7 L385.7 1166.1 L387.2 1166.5 L388.8 1166.7 L390.3 1166.9" fill="none" stroke="#6e7272" stroke-width="3.6" stroke-linejoin="round"/>
<path d="M101 1166.4 L103.1 1166.1 L105.2 1165.9 L107.3 1165.5 L109.3 1165.2 L111.4 1164.8 L113.5 1164.3 L115.6 1163.8 L117.7 1163.3 L119.8 1162.7 L121.9 1162.1 L124 1161.3 L126 1160.3 L128.1 1159.3 L130.2 1158 L132.3 1156.6 L134.4 1155 L136.5 1153.3 L138.6 1151.4 L140.7 1149.3 L142.7 1147 L144.8 1144.7 L146.9 1142.2 L149 1139.6 L151.1 1137.1 L153.2 1134.5 L155.3 1132 L157.3 1129.6 L159.4 1127.4 L161.5 1125.4 L163.6 1123.6 L165.7 1122.1 L167.8 1121 L169.9 1120.2 L172 1119.9 L174 1119.9 L176.1 1120.3 L178.2 1121.1 L180.3 1122.2 L182.4 1123.7 L184.5 1125.5 L186.6 1127.5 L188.7 1129.8 L190.7 1132.2 L192.8 1134.7 L194.9 1137.3 L197 1139.9 L199.1 1142.5 L201.2 1145 L203.3 1147.4 L205.3 1149.6 L207.4 1151.7 L209.5 1153.7 L211.6 1155.5 L213.7 1157.1 L215.8 1158.5 L217.9 1159.8 L220 1160.9 L222 1161.8 L224.1 1162.6 L226.2 1163.3 L228.3 1163.9 L230.4 1164.3 L232.5 1164.7 L234.6 1165.1 L236.7 1165.3 L238.7 1165.5 L240.8 1165.7 L242.9 1165.8 L245 1165.9" fill="none" stroke="#6e7272" stroke-width="3.6" stroke-linejoin="round"/>
<path d="M222.2 1165.4 L223.7 1165.2 L225.2 1164.9 L226.7 1164.5 L228.2 1164.1 L229.7 1163.5 L231.2 1162.7 L232.7 1161.8 L234.2 1160.7 L235.7 1159.3 L237.2 1157.7 L238.7 1155.8 L240.2 1153.5 L241.7 1150.8 L243.2 1147.8 L244.7 1144.4 L246.2 1140.5 L247.7 1136.2 L249.2 1131.5 L250.7 1126.4 L252.2 1120.9 L253.7 1115.1 L255.2 1109.1 L256.7 1102.9 L258.2 1096.6 L259.7 1090.3 L261.2 1084.2 L262.7 1078.4 L264.2 1072.9 L265.7 1068 L267.2 1063.7 L268.7 1060.1 L270.2 1057.3 L271.7 1055.4 L273.2 1054.5 L274.8 1054.5 L276.3 1055.4 L277.8 1057.4 L279.3 1060.1 L280.8 1063.7 L282.3 1068.1 L283.8 1073 L285.3 1078.5 L286.8 1084.3 L288.3 1090.5 L289.8 1096.7 L291.3 1103 L292.8 1109.3 L294.3 1115.3 L295.8 1121.1 L297.3 1126.6 L298.8 1131.8 L300.3 1136.5 L301.8 1140.8 L303.3 1144.7 L304.8 1148.2 L306.3 1151.2 L307.8 1153.9 L309.3 1156.2 L310.8 1158.2 L312.3 1159.8 L313.8 1161.2 L315.3 1162.3 L316.8 1163.3 L318.3 1164.1 L319.8 1164.7 L321.3 1165.2 L322.8 1165.6 L324.3 1165.9 L325.8 1166.1" fill="none" stroke="#6e7272" stroke-width="3.6" stroke-linejoin="round"/>
<path d="M188.5 1165.7 L189.9 1165.7 L191.3 1165.6 L192.7 1165.5 L194.1 1165.4 L195.5 1165.2 L196.8 1165 L198.2 1164.7 L199.6 1164.4 L201 1164.1 L202.4 1163.6 L203.8 1163.1 L205.2 1162.5 L206.6 1161.7 L208 1160.9 L209.4 1160 L210.8 1158.9 L212.2 1157.7 L213.5 1156.4 L214.9 1155 L216.3 1153.5 L217.7 1151.9 L219.1 1150.2 L220.5 1148.5 L221.9 1146.8 L223.3 1145.1 L224.7 1143.4 L226.1 1141.8 L227.5 1140.3 L228.8 1138.9 L230.2 1137.7 L231.6 1136.7 L233 1136 L234.4 1135.4 L235.8 1135.2 L237.2 1135.2 L238.6 1135.5 L240 1136 L241.4 1136.8 L242.8 1137.8 L244.2 1139 L245.5 1140.4 L246.9 1141.9 L248.3 1143.5 L249.7 1145.2 L251.1 1146.9 L252.5 1148.7 L253.9 1150.4 L255.3 1152.1 L256.7 1153.7 L258.1 1155.2 L259.5 1156.7 L260.8 1158 L262.2 1159.2 L263.6 1160.3 L265 1161.2 L266.4 1162.1 L267.8 1162.8 L269.2 1163.5 L270.6 1164 L272 1164.5 L273.4 1164.8 L274.8 1165.2 L276.2 1165.4 L277.5 1165.6 L278.9 1165.8 L280.3 1166 L281.7 1166.1 L283.1 1166.2 L284.5 1166.2" fill="none" stroke="#6e7272" stroke-width="3.6" stroke-linejoin="round"/>
<path d="M110 1166 L117.2 1166 L124.5 1166 L131.7 1166.1 L138.9 1166.1 L146.2 1166.1 L153.4 1166.1 L160.6 1166.1 L167.8 1166.2 L175.1 1166.2 L182.3 1166.2 L189.5 1166.2 L196.8 1166.2 L204 1166.2 L211.2 1166.3 L218.5 1166.3 L225.7 1166.3 L232.9 1166.3 L240.2 1166.3 L247.4 1166.4 L254.6 1166.4 L261.8 1166.4 L269.1 1166.4 L276.3 1166.4 L283.5 1166.5 L290.8 1166.5 L298 1166.5 L305.2 1166.6 L312.5 1166.6 L319.7 1166.7 L326.9 1166.8 L334.2 1166.9 L341.4 1166.9 L348.6 1167 L355.8 1167.1 L363.1 1167.2 L370.3 1167.3 L377.5 1167.3 L384.8 1167.4 L392 1167.5" fill="none" stroke="#6e7272" stroke-width="4.5"/>
<path d="M46 1173 C50 1172.3 61 1170.7 70 1169 C79 1167.3 92.2 1164.6 100 1162.6 C107.8 1160.6 110.7 1160.7 116.7 1157 C122.7 1153.3 129.7 1145.4 136.2 1140.3 C142.7 1135.2 149.7 1129.7 155.7 1126.4 C161.7 1123.2 166.8 1121.3 172.4 1120.8 C178 1120.3 183.5 1122.2 189.1 1123.6 C194.7 1125 201.2 1129 205.8 1129 C210.5 1129 212.3 1125.9 217 1123.6 C221.7 1121.3 228.6 1118.9 233.7 1115.2 C238.8 1111.5 243.9 1106.4 247.6 1101.3 C251.3 1096.2 253.2 1091.1 256 1084.6 C258.8 1078.1 261.3 1067.9 264.3 1062.3 C267.3 1056.7 270.9 1050.6 274.1 1051.1 C277.4 1051.5 280.3 1058 283.8 1065 C287.3 1072 291.8 1083.7 295 1093 C298.2 1102.3 301.2 1114.5 303.3 1120.8 C305.4 1127.1 305.6 1130.5 307.5 1131 C309.4 1131.5 311.9 1129 314.5 1123.6 C317.1 1118.2 320 1105.9 322.8 1098.5 C325.6 1091.1 328.6 1083.4 331.2 1079 C333.8 1074.6 335.9 1072 338.2 1072 C340.5 1072 342.6 1073.2 345.1 1079 C347.7 1084.8 350.2 1095.8 353.5 1106.9 C356.8 1118 360.9 1136.5 364.6 1145.8 C368.3 1155.1 371.6 1159.1 375.8 1162.6 C380 1166.1 380.2 1167 389.7 1166.7 C399.2 1166.4 413.9 1164.2 432.7 1161 C451.5 1157.8 491 1150 502.6 1147.8" fill="none" stroke="#000" stroke-width="6.0" stroke-linejoin="round" stroke-linecap="round"/>
<rect x="44" y="1172.2" width="8" height="3.4" fill="#000"/>
<rect x="53.5" y="1170.4" width="8" height="3.4" fill="#000"/>
<rect x="58.2" y="1166.6" width="8" height="3.4" fill="#000"/>
<rect x="64.8" y="1164.8" width="8" height="3.4" fill="#000"/>
<rect x="69.7" y="1160.5" width="8" height="3.4" fill="#000"/>
<rect x="76.4" y="1159.5" width="8" height="3.4" fill="#000"/>
<rect x="83.1" y="1156.1" width="8" height="3.4" fill="#000"/>
<rect x="87.8" y="1161.9" width="8" height="3.4" fill="#000"/>
<rect x="94.4" y="1158.4" width="8" height="3.4" fill="#000"/>
<rect x="102.7" y="1154.9" width="8" height="3.4" fill="#000"/>
<rect x="107.2" y="1157.9" width="8" height="3.4" fill="#000"/>
<rect x="114.7" y="1152.5" width="8" height="3.4" fill="#000"/>
<rect x="122.4" y="1149.1" width="8" height="3.4" fill="#000"/>
<rect x="128.6" y="1141.2" width="8" height="3.4" fill="#000"/>
<rect x="134.9" y="1134.2" width="8" height="3.4" fill="#000"/>
<rect x="142.8" y="1125.6" width="8" height="3.4" fill="#000"/>
<rect x="147.4" y="1124" width="8" height="3.4" fill="#000"/>
<rect x="155.7" y="1120.6" width="8" height="3.4" fill="#000"/>
<rect x="162.4" y="1118.6" width="8" height="3.4" fill="#000"/>
<rect x="167.6" y="1113" width="8" height="3.4" fill="#000"/>
<rect x="173.6" y="1119.4" width="8" height="3.4" fill="#000"/>
<rect x="178.9" y="1113.4" width="8" height="3.4" fill="#000"/>
<rect x="183.6" y="1113.9" width="8" height="3.4" fill="#000"/>
<rect x="189.4" y="1121" width="8" height="3.4" fill="#000"/>
<rect x="198.2" y="1122" width="8" height="3.4" fill="#000"/>
<rect x="204.5" y="1121.8" width="8" height="3.4" fill="#000"/>
<rect x="210.4" y="1123.2" width="8" height="3.4" fill="#000"/>
<rect x="217.6" y="1114.4" width="8" height="3.4" fill="#000"/>
<rect x="222.4" y="1117.5" width="8" height="3.4" fill="#000"/>
<rect x="230.6" y="1113.1" width="8" height="3.4" fill="#000"/>
<rect x="236.1" y="1105.5" width="8" height="3.4" fill="#000"/>
<rect x="245.5" y="1094.7" width="8" height="3.4" fill="#000"/>
<rect x="255" y="1068.4" width="8" height="3.4" fill="#000"/>
<rect x="264.6" y="1045.9" width="8" height="3.4" fill="#000"/>
<rect x="271.2" y="1042" width="8" height="3.4" fill="#000"/>
<rect x="279.9" y="1062.4" width="8" height="3.4" fill="#000"/>
<rect x="289.5" y="1087.3" width="8" height="3.4" fill="#000"/>
<rect x="299.1" y="1115.7" width="8" height="3.4" fill="#000"/>
<rect x="308.8" y="1124.6" width="8" height="3.4" fill="#000"/>
<rect x="314.9" y="1110.6" width="8" height="3.4" fill="#000"/>
<rect x="321.2" y="1084.4" width="8" height="3.4" fill="#000"/>
<rect x="325.9" y="1076.4" width="8" height="3.4" fill="#000"/>
<rect x="331.2" y="1073.1" width="8" height="3.4" fill="#000"/>
<rect x="340.7" y="1070.6" width="8" height="3.4" fill="#000"/>
<rect x="345.5" y="1088.1" width="8" height="3.4" fill="#000"/>
<rect x="350.6" y="1106.6" width="8" height="3.4" fill="#000"/>
<rect x="359.4" y="1135.3" width="8" height="3.4" fill="#000"/>
<rect x="365.9" y="1155.6" width="8" height="3.4" fill="#000"/>
<rect x="372.6" y="1157" width="8" height="3.4" fill="#000"/>
<rect x="381.8" y="1165.2" width="8" height="3.4" fill="#000"/>
<rect x="391" y="1163.6" width="8" height="3.4" fill="#000"/>
<rect x="397.6" y="1163" width="8" height="3.4" fill="#000"/>
<rect x="406.4" y="1161.2" width="8" height="3.4" fill="#000"/>
<rect x="411.9" y="1157" width="8" height="3.4" fill="#000"/>
<rect x="418.4" y="1160.7" width="8" height="3.4" fill="#000"/>
<rect x="425.7" y="1157.3" width="8" height="3.4" fill="#000"/>
<rect x="434.6" y="1151.4" width="8" height="3.4" fill="#000"/>
<rect x="442.3" y="1152.2" width="8" height="3.4" fill="#000"/>
<rect x="449.6" y="1155.9" width="8" height="3.4" fill="#000"/>
<rect x="455.2" y="1156" width="8" height="3.4" fill="#000"/>
<rect x="459.9" y="1151.2" width="8" height="3.4" fill="#000"/>
<rect x="467.1" y="1146.5" width="8" height="3.4" fill="#000"/>
<rect x="474.4" y="1147.5" width="8" height="3.4" fill="#000"/>
<rect x="481.2" y="1148.7" width="8" height="3.4" fill="#000"/>
<rect x="485.4" y="1144.4" width="8" height="3.4" fill="#000"/>
<rect x="494" y="1140.4" width="8" height="3.4" fill="#000"/>
<text x="48" y="507.1" font-size="29.8" fill="#000" text-anchor="start" font-weight="normal" textLength="105.5" lengthAdjust="spacingAndGlyphs" stroke="#000" stroke-width="0.45">pristine</text>
<text x="48.4" y="583" font-size="30.6" fill="#000" text-anchor="start" font-weight="normal" textLength="50" lengthAdjust="spacingAndGlyphs" stroke="#000" stroke-width="0.45">x=1</text>
<text x="49" y="621.5" font-size="29.8" fill="#000" text-anchor="start" font-weight="normal" textLength="140.5" lengthAdjust="spacingAndGlyphs" stroke="#000" stroke-width="0.45">discharge</text>
<text x="47.4" y="761" font-size="29.8" fill="#000" text-anchor="start" font-weight="normal" textLength="207" lengthAdjust="spacingAndGlyphs" stroke="#000" stroke-width="0.45">x=2 discharge</text>
<text x="47.4" y="899.8" font-size="29.8" fill="#000" text-anchor="start" font-weight="normal" textLength="227" lengthAdjust="spacingAndGlyphs" stroke="#000" stroke-width="0.45">fully discharged</text>
<text x="51.6" y="1003.3" font-size="29.8" fill="#000" text-anchor="start" font-weight="normal" textLength="161.5" lengthAdjust="spacingAndGlyphs" stroke="#000" stroke-width="0.45">x=1 charge</text>
<text x="50.5" y="1065.2" font-size="29.8" fill="#000" text-anchor="start" font-weight="normal" textLength="55.5" lengthAdjust="spacingAndGlyphs" stroke="#000" stroke-width="0.45">fully</text>
<text x="50.5" y="1104.2" font-size="29.8" fill="#000" text-anchor="start" font-weight="normal" textLength="116.5" lengthAdjust="spacingAndGlyphs" stroke="#000" stroke-width="0.45">charged</text>
<text x="475.6" y="535.4" font-size="32" fill="#000" text-anchor="start" font-weight="normal" textLength="19" lengthAdjust="spacingAndGlyphs" stroke="#000" stroke-width="0.45">1</text>
<text x="475.6" y="652.6" font-size="32" fill="#000" text-anchor="start" font-weight="normal" textLength="19" lengthAdjust="spacingAndGlyphs" stroke="#000" stroke-width="0.45">2</text>
<text x="475.6" y="777.8" font-size="32" fill="#000" text-anchor="start" font-weight="normal" textLength="19" lengthAdjust="spacingAndGlyphs" stroke="#000" stroke-width="0.45">3</text>
<text x="475.6" y="903.5" font-size="32" fill="#000" text-anchor="start" font-weight="normal" textLength="19" lengthAdjust="spacingAndGlyphs" stroke="#000" stroke-width="0.45">4</text>
<text x="475.6" y="1011.3" font-size="32" fill="#000" text-anchor="start" font-weight="normal" textLength="19" lengthAdjust="spacingAndGlyphs" stroke="#000" stroke-width="0.45">5</text>
<text x="475.6" y="1120" font-size="32" fill="#000" text-anchor="start" font-weight="normal" textLength="19" lengthAdjust="spacingAndGlyphs" stroke="#000" stroke-width="0.45">6</text>
<rect x="607.4" y="476.8" width="463.9" height="720.4" fill="none" stroke="#000" stroke-width="5.4"/>
<line x1="619.2" y1="1198" x2="619.2" y2="1214" stroke="#000" stroke-width="4.4"/>
<line x1="642.1" y1="1198" x2="642.1" y2="1206" stroke="#000" stroke-width="4.4"/>
<line x1="665" y1="1198" x2="665" y2="1206" stroke="#000" stroke-width="4.4"/>
<line x1="688" y1="1198" x2="688" y2="1206" stroke="#000" stroke-width="4.4"/>
<line x1="710.9" y1="1198" x2="710.9" y2="1206" stroke="#000" stroke-width="4.4"/>
<line x1="733.8" y1="1198" x2="733.8" y2="1214" stroke="#000" stroke-width="4.4"/>
<line x1="756.7" y1="1198" x2="756.7" y2="1206" stroke="#000" stroke-width="4.4"/>
<line x1="779.6" y1="1198" x2="779.6" y2="1206" stroke="#000" stroke-width="4.4"/>
<line x1="802.6" y1="1198" x2="802.6" y2="1206" stroke="#000" stroke-width="4.4"/>
<line x1="825.5" y1="1198" x2="825.5" y2="1206" stroke="#000" stroke-width="4.4"/>
<line x1="848.4" y1="1198" x2="848.4" y2="1214" stroke="#000" stroke-width="4.4"/>
<line x1="871.3" y1="1198" x2="871.3" y2="1206" stroke="#000" stroke-width="4.4"/>
<line x1="894.2" y1="1198" x2="894.2" y2="1206" stroke="#000" stroke-width="4.4"/>
<line x1="917.2" y1="1198" x2="917.2" y2="1206" stroke="#000" stroke-width="4.4"/>
<line x1="940.1" y1="1198" x2="940.1" y2="1206" stroke="#000" stroke-width="4.4"/>
<line x1="963" y1="1198" x2="963" y2="1214" stroke="#000" stroke-width="4.4"/>
<line x1="985.9" y1="1198" x2="985.9" y2="1206" stroke="#000" stroke-width="4.4"/>
<line x1="1008.8" y1="1198" x2="1008.8" y2="1206" stroke="#000" stroke-width="4.4"/>
<line x1="1031.8" y1="1198" x2="1031.8" y2="1206" stroke="#000" stroke-width="4.4"/>
<line x1="1054.7" y1="1198" x2="1054.7" y2="1206" stroke="#000" stroke-width="4.4"/>
<text x="618" y="1243.1" font-size="31" fill="#000" text-anchor="middle" font-weight="normal" textLength="55.5" lengthAdjust="spacingAndGlyphs" stroke="#000" stroke-width="0.45">470</text>
<text x="732.6" y="1243.1" font-size="31" fill="#000" text-anchor="middle" font-weight="normal" textLength="55.5" lengthAdjust="spacingAndGlyphs" stroke="#000" stroke-width="0.45">465</text>
<text x="847.2" y="1243.1" font-size="31" fill="#000" text-anchor="middle" font-weight="normal" textLength="55.5" lengthAdjust="spacingAndGlyphs" stroke="#000" stroke-width="0.45">460</text>
<text x="961.8" y="1243.1" font-size="31" fill="#000" text-anchor="middle" font-weight="normal" textLength="55.5" lengthAdjust="spacingAndGlyphs" stroke="#000" stroke-width="0.45">455</text>
<text x="680.5" y="1272" font-size="29" fill="#000" text-anchor="start" font-weight="normal" textLength="283" lengthAdjust="spacingAndGlyphs" stroke="#000" stroke-width="0.45">Binding energy / eV</text>
<text x="613.4" y="458.6" font-size="42.8" fill="#000" text-anchor="start" font-weight="normal" textLength="96" lengthAdjust="spacingAndGlyphs" stroke="#000" stroke-width="0.45">Ti 2p</text>
<text transform="translate(591.0,851.5) rotate(-90)" font-size="31.5" fill="#000" text-anchor="middle" textLength="276" lengthAdjust="spacingAndGlyphs" stroke="#000" stroke-width="0.45">Intensity / arb.units</text>
<path d="M654.2 580.1 L655.7 580.1 L657.2 580.1 L658.7 580 L660.3 580 L661.8 579.9 L663.3 579.8 L664.8 579.7 L666.3 579.6 L667.9 579.5 L669.4 579.3 L670.9 579.1 L672.4 578.9 L673.9 578.6 L675.5 578.3 L677 577.9 L678.5 577.5 L680 577 L681.5 576.5 L683.1 576 L684.6 575.4 L686.1 574.8 L687.6 574.2 L689.1 573.5 L690.6 572.9 L692.2 572.2 L693.7 571.6 L695.2 570.9 L696.7 570.4 L698.2 569.8 L699.8 569.4 L701.3 569 L702.8 568.7 L704.3 568.5 L705.8 568.4 L707.4 568.4 L708.9 568.5 L710.4 568.7 L711.9 569 L713.4 569.4 L715 569.8 L716.5 570.4 L718 570.9 L719.5 571.6 L721 572.2 L722.6 572.9 L724.1 573.5 L725.6 574.2 L727.1 574.8 L728.6 575.4 L730.1 576 L731.7 576.5 L733.2 577 L734.7 577.5 L736.2 577.9 L737.7 578.3 L739.3 578.6 L740.8 578.9 L742.3 579.1 L743.8 579.3 L745.3 579.5 L746.9 579.6 L748.4 579.7 L749.9 579.8 L751.4 579.9 L752.9 580 L754.5 580 L756 580.1 L757.5 580.1 L759 580.1 L759 580.2 L757.5 580.2 L756 580.2 L754.5 580.2 L752.9 580.2 L751.4 580.2 L749.9 580.2 L748.4 580.2 L746.9 580.2 L745.3 580.2 L743.8 580.2 L742.3 580.2 L740.8 580.2 L739.3 580.2 L737.7 580.2 L736.2 580.2 L734.7 580.2 L733.2 580.2 L731.7 580.2 L730.1 580.2 L728.6 580.2 L727.1 580.2 L725.6 580.2 L724.1 580.2 L722.6 580.2 L721 580.2 L719.5 580.2 L718 580.2 L716.5 580.2 L715 580.2 L713.4 580.2 L711.9 580.2 L710.4 580.2 L708.9 580.2 L707.4 580.2 L705.8 580.2 L704.3 580.2 L702.8 580.2 L701.3 580.2 L699.8 580.2 L698.2 580.2 L696.7 580.2 L695.2 580.2 L693.7 580.2 L692.2 580.2 L690.6 580.2 L689.1 580.2 L687.6 580.2 L686.1 580.2 L684.6 580.2 L683.1 580.2 L681.5 580.2 L680 580.2 L678.5 580.2 L677 580.2 L675.5 580.2 L673.9 580.2 L672.4 580.2 L670.9 580.2 L669.4 580.2 L667.9 580.2 L666.3 580.2 L664.8 580.2 L663.3 580.2 L661.8 580.2 L660.3 580.2 L658.7 580.2 L657.2 580.2 L655.7 580.2 L654.2 580.2 Z" fill="#966e50" fill-opacity="0.95" stroke="none"/>
<path d="M791.8 580 L793.2 579.9 L794.6 579.8 L796.1 579.7 L797.5 579.5 L798.9 579.3 L800.3 579.1 L801.7 578.8 L803.1 578.4 L804.5 578 L805.9 577.5 L807.3 576.8 L808.8 576.1 L810.2 575.2 L811.6 574.3 L813 573.1 L814.4 571.9 L815.8 570.5 L817.2 569 L818.6 567.3 L820 565.5 L821.5 563.7 L822.9 561.7 L824.3 559.7 L825.7 557.7 L827.1 555.6 L828.5 553.7 L829.9 551.8 L831.3 550 L832.7 548.4 L834.2 547 L835.6 545.9 L837 545 L838.4 544.3 L839.8 544 L841.2 544 L842.6 544.3 L844 545 L845.4 545.9 L846.8 547 L848.3 548.4 L849.7 550 L851.1 551.8 L852.5 553.7 L853.9 555.6 L855.3 557.7 L856.7 559.7 L858.1 561.7 L859.5 563.7 L861 565.5 L862.4 567.3 L863.8 569 L865.2 570.5 L866.6 571.9 L868 573.1 L869.4 574.3 L870.8 575.2 L872.2 576.1 L873.7 576.8 L875.1 577.5 L876.5 578 L877.9 578.4 L879.3 578.8 L880.7 579.1 L882.1 579.3 L883.5 579.5 L884.9 579.7 L886.4 579.8 L887.8 579.9 L889.2 580 L889.2 580.2 L887.8 580.2 L886.4 580.2 L884.9 580.2 L883.5 580.2 L882.1 580.2 L880.7 580.2 L879.3 580.2 L877.9 580.2 L876.5 580.2 L875.1 580.2 L873.7 580.2 L872.2 580.2 L870.8 580.2 L869.4 580.2 L868 580.2 L866.6 580.2 L865.2 580.2 L863.8 580.2 L862.4 580.2 L861 580.2 L859.5 580.2 L858.1 580.2 L856.7 580.2 L855.3 580.2 L853.9 580.2 L852.5 580.2 L851.1 580.2 L849.7 580.2 L848.3 580.2 L846.8 580.2 L845.4 580.2 L844 580.2 L842.6 580.2 L841.2 580.2 L839.8 580.2 L838.4 580.2 L837 580.2 L835.6 580.2 L834.2 580.2 L832.7 580.2 L831.3 580.2 L829.9 580.2 L828.5 580.2 L827.1 580.2 L825.7 580.2 L824.3 580.2 L822.9 580.2 L821.5 580.2 L820 580.2 L818.6 580.2 L817.2 580.2 L815.8 580.2 L814.4 580.2 L813 580.2 L811.6 580.2 L810.2 580.2 L808.8 580.2 L807.3 580.2 L805.9 580.2 L804.5 580.2 L803.1 580.2 L801.7 580.2 L800.3 580.2 L798.9 580.2 L797.5 580.2 L796.1 580.2 L794.6 580.2 L793.2 580.2 L791.8 580.2 Z" fill="#966e50" fill-opacity="0.95" stroke="none"/>
<path d="M697.8 580 L699 580 L700.2 579.9 L701.4 579.8 L702.6 579.7 L703.8 579.5 L705 579.3 L706.2 579.1 L707.4 578.8 L708.6 578.4 L709.8 578 L710.9 577.5 L712.1 576.9 L713.3 576.3 L714.5 575.5 L715.7 574.6 L716.9 573.6 L718.1 572.5 L719.3 571.3 L720.5 570 L721.7 568.6 L722.9 567.1 L724.1 565.5 L725.3 564 L726.5 562.3 L727.7 560.7 L728.9 559.2 L730 557.7 L731.2 556.3 L732.4 555 L733.6 553.9 L734.8 553 L736 552.3 L737.2 551.8 L738.4 551.5 L739.6 551.5 L740.8 551.8 L742 552.3 L743.2 553 L744.4 553.9 L745.6 555 L746.8 556.3 L748 557.7 L749.1 559.2 L750.3 560.7 L751.5 562.3 L752.7 564 L753.9 565.5 L755.1 567.1 L756.3 568.6 L757.5 570 L758.7 571.3 L759.9 572.5 L761.1 573.6 L762.3 574.6 L763.5 575.5 L764.7 576.3 L765.9 576.9 L767.1 577.5 L768.2 578 L769.4 578.4 L770.6 578.8 L771.8 579.1 L773 579.3 L774.2 579.5 L775.4 579.7 L776.6 579.8 L777.8 579.9 L779 580 L780.2 580 L780.2 580.2 L779 580.2 L777.8 580.2 L776.6 580.2 L775.4 580.2 L774.2 580.2 L773 580.2 L771.8 580.2 L770.6 580.2 L769.4 580.2 L768.2 580.2 L767.1 580.2 L765.9 580.2 L764.7 580.2 L763.5 580.2 L762.3 580.2 L761.1 580.2 L759.9 580.2 L758.7 580.2 L757.5 580.2 L756.3 580.2 L755.1 580.2 L753.9 580.2 L752.7 580.2 L751.5 580.2 L750.3 580.2 L749.1 580.2 L748 580.2 L746.8 580.2 L745.6 580.2 L744.4 580.2 L743.2 580.2 L742 580.2 L740.8 580.2 L739.6 580.2 L738.4 580.2 L737.2 580.2 L736 580.2 L734.8 580.2 L733.6 580.2 L732.4 580.2 L731.2 580.2 L730 580.2 L728.9 580.2 L727.7 580.2 L726.5 580.2 L725.3 580.2 L724.1 580.2 L722.9 580.2 L721.7 580.2 L720.5 580.2 L719.3 580.2 L718.1 580.2 L716.9 580.2 L715.7 580.2 L714.5 580.2 L713.3 580.2 L712.1 580.2 L710.9 580.2 L709.8 580.2 L708.6 580.2 L707.4 580.2 L706.2 580.2 L705 580.2 L703.8 580.2 L702.6 580.2 L701.4 580.2 L700.2 580.2 L699 580.2 L697.8 580.2 Z" fill="#ea543a" fill-opacity="0.95" stroke="none"/>
<path d="M832.6 579.7 L833.6 579.5 L834.7 579.3 L835.8 579 L836.9 578.6 L838 578.1 L839.1 577.6 L840.2 576.8 L841.2 576 L842.3 574.9 L843.4 573.6 L844.5 572.1 L845.6 570.4 L846.7 568.3 L847.8 566 L848.8 563.3 L849.9 560.3 L851 557 L852.1 553.3 L853.2 549.3 L854.3 545.1 L855.3 540.6 L856.4 535.9 L857.5 531.1 L858.6 526.2 L859.7 521.3 L860.8 516.6 L861.9 512.1 L862.9 507.8 L864 504 L865.1 500.6 L866.2 497.9 L867.3 495.7 L868.4 494.2 L869.5 493.5 L870.5 493.5 L871.6 494.2 L872.7 495.7 L873.8 497.9 L874.9 500.6 L876 504 L877.1 507.8 L878.1 512.1 L879.2 516.6 L880.3 521.3 L881.4 526.2 L882.5 531.1 L883.6 535.9 L884.7 540.6 L885.7 545.1 L886.8 549.3 L887.9 553.3 L889 557 L890.1 560.3 L891.2 563.3 L892.2 566 L893.3 568.3 L894.4 570.4 L895.5 572.1 L896.6 573.6 L897.7 574.9 L898.8 576 L899.8 576.8 L900.9 577.6 L902 578.1 L903.1 578.6 L904.2 579 L905.3 579.3 L906.4 579.5 L907.4 579.7 L907.4 580.2 L906.4 580.2 L905.3 580.2 L904.2 580.2 L903.1 580.2 L902 580.2 L900.9 580.2 L899.8 580.2 L898.8 580.2 L897.7 580.2 L896.6 580.2 L895.5 580.2 L894.4 580.2 L893.3 580.2 L892.2 580.2 L891.2 580.2 L890.1 580.2 L889 580.2 L887.9 580.2 L886.8 580.2 L885.7 580.2 L884.7 580.2 L883.6 580.2 L882.5 580.2 L881.4 580.2 L880.3 580.2 L879.2 580.2 L878.1 580.2 L877.1 580.2 L876 580.2 L874.9 580.2 L873.8 580.2 L872.7 580.2 L871.6 580.2 L870.5 580.2 L869.5 580.2 L868.4 580.2 L867.3 580.2 L866.2 580.2 L865.1 580.2 L864 580.2 L862.9 580.2 L861.9 580.2 L860.8 580.2 L859.7 580.2 L858.6 580.2 L857.5 580.2 L856.4 580.2 L855.3 580.2 L854.3 580.2 L853.2 580.2 L852.1 580.2 L851 580.2 L849.9 580.2 L848.8 580.2 L847.8 580.2 L846.7 580.2 L845.6 580.2 L844.5 580.2 L843.4 580.2 L842.3 580.2 L841.2 580.2 L840.2 580.2 L839.1 580.2 L838 580.2 L836.9 580.2 L835.8 580.2 L834.7 580.2 L833.6 580.2 L832.6 580.2 Z" fill="#ea543a" fill-opacity="0.95" stroke="none"/>
<path d="M654.2 580.1 L655.7 580.1 L657.2 580.1 L658.7 580 L660.3 580 L661.8 579.9 L663.3 579.8 L664.8 579.7 L666.3 579.6 L667.9 579.5 L669.4 579.3 L670.9 579.1 L672.4 578.9 L673.9 578.6 L675.5 578.3 L677 577.9 L678.5 577.5 L680 577 L681.5 576.5 L683.1 576 L684.6 575.4 L686.1 574.8 L687.6 574.2 L689.1 573.5 L690.6 572.9 L692.2 572.2 L693.7 571.6 L695.2 570.9 L696.7 570.4 L698.2 569.8 L699.8 569.4 L701.3 569 L702.8 568.7 L704.3 568.5 L705.8 568.4 L707.4 568.4 L708.9 568.5 L710.4 568.7 L711.9 569 L713.4 569.4 L715 569.8 L716.5 570.4 L718 570.9 L719.5 571.6 L721 572.2 L722.6 572.9 L724.1 573.5 L725.6 574.2 L727.1 574.8 L728.6 575.4 L730.1 576 L731.7 576.5 L733.2 577 L734.7 577.5 L736.2 577.9 L737.7 578.3 L739.3 578.6 L740.8 578.9 L742.3 579.1 L743.8 579.3 L745.3 579.5 L746.9 579.6 L748.4 579.7 L749.9 579.8 L751.4 579.9 L752.9 580 L754.5 580 L756 580.1 L757.5 580.1 L759 580.1" fill="none" stroke="#6e7272" stroke-width="3.6" stroke-linejoin="round"/>
<path d="M791.8 580 L793.2 579.9 L794.6 579.8 L796.1 579.7 L797.5 579.5 L798.9 579.3 L800.3 579.1 L801.7 578.8 L803.1 578.4 L804.5 578 L805.9 577.5 L807.3 576.8 L808.8 576.1 L810.2 575.2 L811.6 574.3 L813 573.1 L814.4 571.9 L815.8 570.5 L817.2 569 L818.6 567.3 L820 565.5 L821.5 563.7 L822.9 561.7 L824.3 559.7 L825.7 557.7 L827.1 555.6 L828.5 553.7 L829.9 551.8 L831.3 550 L832.7 548.4 L834.2 547 L835.6 545.9 L837 545 L838.4 544.3 L839.8 544 L841.2 544 L842.6 544.3 L844 545 L845.4 545.9 L846.8 547 L848.3 548.4 L849.7 550 L851.1 551.8 L852.5 553.7 L853.9 555.6 L855.3 557.7 L856.7 559.7 L858.1 561.7 L859.5 563.7 L861 565.5 L862.4 567.3 L863.8 569 L865.2 570.5 L866.6 571.9 L868 573.1 L869.4 574.3 L870.8 575.2 L872.2 576.1 L873.7 576.8 L875.1 577.5 L876.5 578 L877.9 578.4 L879.3 578.8 L880.7 579.1 L882.1 579.3 L883.5 579.5 L884.9 579.7 L886.4 579.8 L887.8 579.9 L889.2 580" fill="none" stroke="#6e7272" stroke-width="3.6" stroke-linejoin="round"/>
<path d="M697.8 580 L699 580 L700.2 579.9 L701.4 579.8 L702.6 579.7 L703.8 579.5 L705 579.3 L706.2 579.1 L707.4 578.8 L708.6 578.4 L709.8 578 L710.9 577.5 L712.1 576.9 L713.3 576.3 L714.5 575.5 L715.7 574.6 L716.9 573.6 L718.1 572.5 L719.3 571.3 L720.5 570 L721.7 568.6 L722.9 567.1 L724.1 565.5 L725.3 564 L726.5 562.3 L727.7 560.7 L728.9 559.2 L730 557.7 L731.2 556.3 L732.4 555 L733.6 553.9 L734.8 553 L736 552.3 L737.2 551.8 L738.4 551.5 L739.6 551.5 L740.8 551.8 L742 552.3 L743.2 553 L744.4 553.9 L745.6 555 L746.8 556.3 L748 557.7 L749.1 559.2 L750.3 560.7 L751.5 562.3 L752.7 564 L753.9 565.5 L755.1 567.1 L756.3 568.6 L757.5 570 L758.7 571.3 L759.9 572.5 L761.1 573.6 L762.3 574.6 L763.5 575.5 L764.7 576.3 L765.9 576.9 L767.1 577.5 L768.2 578 L769.4 578.4 L770.6 578.8 L771.8 579.1 L773 579.3 L774.2 579.5 L775.4 579.7 L776.6 579.8 L777.8 579.9 L779 580 L780.2 580" fill="none" stroke="#6e7272" stroke-width="3.6" stroke-linejoin="round"/>
<path d="M832.6 579.7 L833.6 579.5 L834.7 579.3 L835.8 579 L836.9 578.6 L838 578.1 L839.1 577.6 L840.2 576.8 L841.2 576 L842.3 574.9 L843.4 573.6 L844.5 572.1 L845.6 570.4 L846.7 568.3 L847.8 566 L848.8 563.3 L849.9 560.3 L851 557 L852.1 553.3 L853.2 549.3 L854.3 545.1 L855.3 540.6 L856.4 535.9 L857.5 531.1 L858.6 526.2 L859.7 521.3 L860.8 516.6 L861.9 512.1 L862.9 507.8 L864 504 L865.1 500.6 L866.2 497.9 L867.3 495.7 L868.4 494.2 L869.5 493.5 L870.5 493.5 L871.6 494.2 L872.7 495.7 L873.8 497.9 L874.9 500.6 L876 504 L877.1 507.8 L878.1 512.1 L879.2 516.6 L880.3 521.3 L881.4 526.2 L882.5 531.1 L883.6 535.9 L884.7 540.6 L885.7 545.1 L886.8 549.3 L887.9 553.3 L889 557 L890.1 560.3 L891.2 563.3 L892.2 566 L893.3 568.3 L894.4 570.4 L895.5 572.1 L896.6 573.6 L897.7 574.9 L898.8 576 L899.8 576.8 L900.9 577.6 L902 578.1 L903.1 578.6 L904.2 579 L905.3 579.3 L906.4 579.5 L907.4 579.7" fill="none" stroke="#6e7272" stroke-width="3.6" stroke-linejoin="round"/>
<line x1="611" y1="580.2" x2="1068" y2="580.2" stroke="#6e7272" stroke-width="5.6"/>
<path d="M611 561.9 C617.8 562.3 640.8 565.4 652 564.5 C663.2 563.6 669.3 559.3 678 556.7 C686.7 554.1 697.5 551.5 704 548.9 C710.5 546.3 711.8 543.2 717 541 C722.2 538.8 730 535.7 735.2 535.9 C740.4 536.1 743.9 538.3 748.2 542.4 C752.5 546.5 756.4 556.5 761.2 560.6 C766 564.7 769.9 566.2 776.8 567.1 C783.7 568 795.4 568.2 802.8 565.8 C810.2 563.4 814.9 558 821 552.8 C827.1 547.6 834.4 539.8 839.2 534.6 C844 529.4 846.1 526.4 849.6 521.6 C853.1 516.8 857.2 511.8 860 506 C862.8 500.2 864.8 491.3 866.5 487 C868.2 482.7 868.4 480.6 870 480.3 C871.6 480 873.6 478.4 876 485 C878.4 491.6 881.8 508.8 884.4 519.7 C887 530.7 888.4 542.8 891.6 550.7 C894.8 558.7 897.5 563.4 903.5 567.4 C909.5 571.4 918.2 572.9 927.4 574.5 C936.5 576.1 948.5 577.8 958.4 577 C968.3 576.2 977.5 573.8 987 569.8 C996.5 565.8 1007 560.2 1015.7 553 C1024.5 545.8 1032.3 535.1 1039.5 526.8 C1046.7 518.5 1053.8 508.2 1058.6 503 C1063.3 497.8 1066.4 497 1068 495.8" fill="none" stroke="#000" stroke-width="7.0" stroke-linejoin="round" stroke-linecap="round"/>
<rect x="610.5" y="560.6" width="7" height="3.2" fill="#000"/>
<rect x="618" y="562.6" width="7" height="3.2" fill="#000"/>
<rect x="630.4" y="563" width="7" height="3.2" fill="#000"/>
<rect x="640.5" y="562.7" width="7" height="3.2" fill="#000"/>
<rect x="647.9" y="564.9" width="7" height="3.2" fill="#000"/>
<rect x="660.3" y="559.2" width="7" height="3.2" fill="#000"/>
<rect x="672" y="557.8" width="7" height="3.2" fill="#000"/>
<rect x="679.4" y="553.1" width="7" height="3.2" fill="#000"/>
<rect x="689.8" y="550.9" width="7" height="3.2" fill="#000"/>
<rect x="696.5" y="548.8" width="7" height="3.2" fill="#000"/>
<rect x="708.9" y="541.5" width="7" height="3.2" fill="#000"/>
<rect x="716.6" y="537.6" width="7" height="3.2" fill="#000"/>
<rect x="725" y="535.6" width="7" height="3.2" fill="#000"/>
<rect x="734.8" y="536.4" width="7" height="3.2" fill="#000"/>
<rect x="744.9" y="540.2" width="7" height="3.2" fill="#000"/>
<rect x="756.2" y="557" width="7" height="3.2" fill="#000"/>
<rect x="766.5" y="564" width="7" height="3.2" fill="#000"/>
<rect x="773.4" y="567.1" width="7" height="3.2" fill="#000"/>
<rect x="781" y="566" width="7" height="3.2" fill="#000"/>
<rect x="793.3" y="564" width="7" height="3.2" fill="#000"/>
<rect x="804.4" y="562.5" width="7" height="3.2" fill="#000"/>
<rect x="816.4" y="553.8" width="7" height="3.2" fill="#000"/>
<rect x="822.9" y="544.7" width="7" height="3.2" fill="#000"/>
<rect x="834.8" y="533.9" width="7" height="3.2" fill="#000"/>
<rect x="844.5" y="522.5" width="7" height="3.2" fill="#000"/>
<rect x="851.9" y="513.1" width="7" height="3.2" fill="#000"/>
<rect x="860.3" y="493" width="7" height="3.2" fill="#000"/>
<rect x="872.1" y="483.8" width="7" height="3.2" fill="#000"/>
<rect x="880.8" y="516.5" width="7" height="3.2" fill="#000"/>
<rect x="889.5" y="553.5" width="7" height="3.2" fill="#000"/>
<rect x="898.3" y="565.6" width="7" height="3.2" fill="#000"/>
<rect x="908.8" y="569.2" width="7" height="3.2" fill="#000"/>
<rect x="915.2" y="572.4" width="7" height="3.2" fill="#000"/>
<rect x="923.8" y="571.8" width="7" height="3.2" fill="#000"/>
<rect x="931.5" y="574.6" width="7" height="3.2" fill="#000"/>
<rect x="939.6" y="575.9" width="7" height="3.2" fill="#000"/>
<rect x="946.9" y="574.1" width="7" height="3.2" fill="#000"/>
<rect x="957.1" y="576.5" width="7" height="3.2" fill="#000"/>
<rect x="966.5" y="573.8" width="7" height="3.2" fill="#000"/>
<rect x="974.7" y="572.7" width="7" height="3.2" fill="#000"/>
<rect x="986.9" y="567.4" width="7" height="3.2" fill="#000"/>
<rect x="997.3" y="560.7" width="7" height="3.2" fill="#000"/>
<rect x="1009.3" y="553.4" width="7" height="3.2" fill="#000"/>
<rect x="1017.8" y="546.7" width="7" height="3.2" fill="#000"/>
<rect x="1028.6" y="532.1" width="7" height="3.2" fill="#000"/>
<rect x="1040.3" y="521.1" width="7" height="3.2" fill="#000"/>
<rect x="1049.6" y="508.8" width="7" height="3.2" fill="#000"/>
<rect x="1055.2" y="501.2" width="7" height="3.2" fill="#000"/>
<path d="M716.2 700.3 L717.8 700.3 L719.4 700.2 L720.9 700.1 L722.5 700 L724.1 699.8 L725.7 699.6 L727.2 699.4 L728.8 699.1 L730.4 698.8 L731.9 698.3 L733.5 697.9 L735.1 697.3 L736.7 696.6 L738.2 695.8 L739.8 694.9 L741.4 694 L743 692.9 L744.5 691.7 L746.1 690.4 L747.7 689 L749.3 687.5 L750.8 685.9 L752.4 684.4 L754 682.8 L755.6 681.2 L757.1 679.6 L758.7 678.1 L760.3 676.7 L761.8 675.5 L763.4 674.4 L765 673.5 L766.6 672.8 L768.1 672.3 L769.7 672 L771.3 672 L772.9 672.3 L774.4 672.8 L776 673.5 L777.6 674.4 L779.2 675.5 L780.7 676.7 L782.3 678.1 L783.9 679.6 L785.4 681.2 L787 682.8 L788.6 684.4 L790.2 685.9 L791.7 687.5 L793.3 689 L794.9 690.4 L796.5 691.7 L798 692.9 L799.6 694 L801.2 694.9 L802.8 695.8 L804.3 696.6 L805.9 697.3 L807.5 697.9 L809.1 698.3 L810.6 698.8 L812.2 699.1 L813.8 699.4 L815.3 699.6 L816.9 699.8 L818.5 700 L820.1 700.1 L821.6 700.2 L823.2 700.3 L824.8 700.3 L824.8 700.5 L823.2 700.5 L821.6 700.5 L820.1 700.5 L818.5 700.5 L816.9 700.5 L815.3 700.5 L813.8 700.5 L812.2 700.5 L810.6 700.5 L809.1 700.5 L807.5 700.5 L805.9 700.5 L804.3 700.5 L802.8 700.5 L801.2 700.5 L799.6 700.5 L798 700.5 L796.5 700.5 L794.9 700.5 L793.3 700.5 L791.7 700.5 L790.2 700.5 L788.6 700.5 L787 700.5 L785.4 700.5 L783.9 700.5 L782.3 700.5 L780.7 700.5 L779.2 700.5 L777.6 700.5 L776 700.5 L774.4 700.5 L772.9 700.5 L771.3 700.5 L769.7 700.5 L768.1 700.5 L766.6 700.5 L765 700.5 L763.4 700.5 L761.8 700.5 L760.3 700.5 L758.7 700.5 L757.1 700.5 L755.6 700.5 L754 700.5 L752.4 700.5 L750.8 700.5 L749.3 700.5 L747.7 700.5 L746.1 700.5 L744.5 700.5 L743 700.5 L741.4 700.5 L739.8 700.5 L738.2 700.5 L736.7 700.5 L735.1 700.5 L733.5 700.5 L731.9 700.5 L730.4 700.5 L728.8 700.5 L727.2 700.5 L725.7 700.5 L724.1 700.5 L722.5 700.5 L720.9 700.5 L719.4 700.5 L717.8 700.5 L716.2 700.5 Z" fill="#66c1c2" fill-opacity="0.95" stroke="none"/>
<path d="M857.7 700 L859.1 699.8 L860.4 699.6 L861.8 699.3 L863.1 698.9 L864.5 698.5 L865.8 697.9 L867.2 697.2 L868.6 696.3 L869.9 695.3 L871.3 694 L872.6 692.5 L874 690.8 L875.3 688.7 L876.7 686.4 L878 683.7 L879.4 680.8 L880.8 677.5 L882.1 673.8 L883.5 669.9 L884.8 665.7 L886.2 661.2 L887.5 656.6 L888.9 651.8 L890.3 647 L891.6 642.2 L893 637.5 L894.3 633 L895.7 628.8 L897 625 L898.4 621.7 L899.8 618.9 L901.1 616.8 L902.5 615.3 L903.8 614.6 L905.2 614.6 L906.5 615.3 L907.9 616.8 L909.2 618.9 L910.6 621.7 L912 625 L913.3 628.8 L914.7 633 L916 637.5 L917.4 642.2 L918.7 647 L920.1 651.8 L921.5 656.6 L922.8 661.2 L924.2 665.7 L925.5 669.9 L926.9 673.8 L928.2 677.5 L929.6 680.8 L931 683.7 L932.3 686.4 L933.7 688.7 L935 690.8 L936.4 692.5 L937.7 694 L939.1 695.3 L940.4 696.3 L941.8 697.2 L943.2 697.9 L944.5 698.5 L945.9 698.9 L947.2 699.3 L948.6 699.6 L949.9 699.8 L951.3 700 L951.3 700.5 L949.9 700.5 L948.6 700.5 L947.2 700.5 L945.9 700.5 L944.5 700.5 L943.2 700.5 L941.8 700.5 L940.4 700.5 L939.1 700.5 L937.7 700.5 L936.4 700.5 L935 700.5 L933.7 700.5 L932.3 700.5 L931 700.5 L929.6 700.5 L928.2 700.5 L926.9 700.5 L925.5 700.5 L924.2 700.5 L922.8 700.5 L921.5 700.5 L920.1 700.5 L918.7 700.5 L917.4 700.5 L916 700.5 L914.7 700.5 L913.3 700.5 L912 700.5 L910.6 700.5 L909.2 700.5 L907.9 700.5 L906.5 700.5 L905.2 700.5 L903.8 700.5 L902.5 700.5 L901.1 700.5 L899.8 700.5 L898.4 700.5 L897 700.5 L895.7 700.5 L894.3 700.5 L893 700.5 L891.6 700.5 L890.3 700.5 L888.9 700.5 L887.5 700.5 L886.2 700.5 L884.8 700.5 L883.5 700.5 L882.1 700.5 L880.8 700.5 L879.4 700.5 L878 700.5 L876.7 700.5 L875.3 700.5 L874 700.5 L872.6 700.5 L871.3 700.5 L869.9 700.5 L868.6 700.5 L867.2 700.5 L865.8 700.5 L864.5 700.5 L863.1 700.5 L861.8 700.5 L860.4 700.5 L859.1 700.5 L857.7 700.5 Z" fill="#66c1c2" fill-opacity="0.95" stroke="none"/>
<path d="M673 700.4 L674.7 700.4 L676.5 700.3 L678.2 700.3 L679.9 700.2 L681.7 700.1 L683.4 700 L685.2 699.9 L686.9 699.7 L688.6 699.6 L690.4 699.3 L692.1 699.1 L693.8 698.7 L695.6 698.4 L697.3 698 L699 697.5 L700.8 696.9 L702.5 696.3 L704.3 695.7 L706 695 L707.7 694.2 L709.5 693.4 L711.2 692.6 L712.9 691.7 L714.7 690.9 L716.4 690 L718.1 689.1 L719.9 688.3 L721.6 687.6 L723.4 686.9 L725.1 686.3 L726.8 685.8 L728.6 685.4 L730.3 685.1 L732 685 L733.8 685 L735.5 685.1 L737.2 685.4 L739 685.8 L740.7 686.3 L742.4 686.9 L744.2 687.6 L745.9 688.3 L747.7 689.1 L749.4 690 L751.1 690.9 L752.9 691.7 L754.6 692.6 L756.3 693.4 L758.1 694.2 L759.8 695 L761.5 695.7 L763.3 696.3 L765 696.9 L766.8 697.5 L768.5 698 L770.2 698.4 L772 698.7 L773.7 699.1 L775.4 699.3 L777.2 699.6 L778.9 699.7 L780.6 699.9 L782.4 700 L784.1 700.1 L785.9 700.2 L787.6 700.3 L789.3 700.3 L791.1 700.4 L792.8 700.4 L792.8 700.5 L791.1 700.5 L789.3 700.5 L787.6 700.5 L785.9 700.5 L784.1 700.5 L782.4 700.5 L780.6 700.5 L778.9 700.5 L777.2 700.5 L775.4 700.5 L773.7 700.5 L772 700.5 L770.2 700.5 L768.5 700.5 L766.8 700.5 L765 700.5 L763.3 700.5 L761.5 700.5 L759.8 700.5 L758.1 700.5 L756.3 700.5 L754.6 700.5 L752.9 700.5 L751.1 700.5 L749.4 700.5 L747.7 700.5 L745.9 700.5 L744.2 700.5 L742.4 700.5 L740.7 700.5 L739 700.5 L737.2 700.5 L735.5 700.5 L733.8 700.5 L732 700.5 L730.3 700.5 L728.6 700.5 L726.8 700.5 L725.1 700.5 L723.4 700.5 L721.6 700.5 L719.9 700.5 L718.1 700.5 L716.4 700.5 L714.7 700.5 L712.9 700.5 L711.2 700.5 L709.5 700.5 L707.7 700.5 L706 700.5 L704.3 700.5 L702.5 700.5 L700.8 700.5 L699 700.5 L697.3 700.5 L695.6 700.5 L693.8 700.5 L692.1 700.5 L690.4 700.5 L688.6 700.5 L686.9 700.5 L685.2 700.5 L683.4 700.5 L681.7 700.5 L679.9 700.5 L678.2 700.5 L676.5 700.5 L674.7 700.5 L673 700.5 Z" fill="#ea543a" fill-opacity="0.95" stroke="none"/>
<path d="M813.7 700.2 L815.3 700.2 L816.9 700.1 L818.4 699.9 L820 699.7 L821.6 699.5 L823.2 699.2 L824.7 698.9 L826.3 698.5 L827.9 697.9 L829.4 697.3 L831 696.6 L832.6 695.7 L834.2 694.7 L835.7 693.6 L837.3 692.3 L838.9 690.9 L840.5 689.3 L842 687.5 L843.6 685.6 L845.2 683.5 L846.8 681.3 L848.3 679.1 L849.9 676.7 L851.5 674.4 L853.1 672 L854.6 669.7 L856.2 667.5 L857.8 665.5 L859.3 663.6 L860.9 662 L862.5 660.7 L864.1 659.6 L865.6 658.9 L867.2 658.5 L868.8 658.5 L870.4 658.9 L871.9 659.6 L873.5 660.7 L875.1 662 L876.7 663.6 L878.2 665.5 L879.8 667.5 L881.4 669.7 L882.9 672 L884.5 674.4 L886.1 676.7 L887.7 679.1 L889.2 681.3 L890.8 683.5 L892.4 685.6 L894 687.5 L895.5 689.3 L897.1 690.9 L898.7 692.3 L900.3 693.6 L901.8 694.7 L903.4 695.7 L905 696.6 L906.6 697.3 L908.1 697.9 L909.7 698.5 L911.3 698.9 L912.8 699.2 L914.4 699.5 L916 699.7 L917.6 699.9 L919.1 700.1 L920.7 700.2 L922.3 700.2 L922.3 700.5 L920.7 700.5 L919.1 700.5 L917.6 700.5 L916 700.5 L914.4 700.5 L912.8 700.5 L911.3 700.5 L909.7 700.5 L908.1 700.5 L906.6 700.5 L905 700.5 L903.4 700.5 L901.8 700.5 L900.3 700.5 L898.7 700.5 L897.1 700.5 L895.5 700.5 L894 700.5 L892.4 700.5 L890.8 700.5 L889.2 700.5 L887.7 700.5 L886.1 700.5 L884.5 700.5 L882.9 700.5 L881.4 700.5 L879.8 700.5 L878.2 700.5 L876.7 700.5 L875.1 700.5 L873.5 700.5 L871.9 700.5 L870.4 700.5 L868.8 700.5 L867.2 700.5 L865.6 700.5 L864.1 700.5 L862.5 700.5 L860.9 700.5 L859.3 700.5 L857.8 700.5 L856.2 700.5 L854.6 700.5 L853.1 700.5 L851.5 700.5 L849.9 700.5 L848.3 700.5 L846.8 700.5 L845.2 700.5 L843.6 700.5 L842 700.5 L840.5 700.5 L838.9 700.5 L837.3 700.5 L835.7 700.5 L834.2 700.5 L832.6 700.5 L831 700.5 L829.4 700.5 L827.9 700.5 L826.3 700.5 L824.7 700.5 L823.2 700.5 L821.6 700.5 L820 700.5 L818.4 700.5 L816.9 700.5 L815.3 700.5 L813.7 700.5 Z" fill="#ea543a" fill-opacity="0.95" stroke="none"/>
<path d="M716.2 700.3 L717.8 700.3 L719.4 700.2 L720.9 700.1 L722.5 700 L724.1 699.8 L725.7 699.6 L727.2 699.4 L728.8 699.1 L730.4 698.8 L731.9 698.3 L733.5 697.9 L735.1 697.3 L736.7 696.6 L738.2 695.8 L739.8 694.9 L741.4 694 L743 692.9 L744.5 691.7 L746.1 690.4 L747.7 689 L749.3 687.5 L750.8 685.9 L752.4 684.4 L754 682.8 L755.6 681.2 L757.1 679.6 L758.7 678.1 L760.3 676.7 L761.8 675.5 L763.4 674.4 L765 673.5 L766.6 672.8 L768.1 672.3 L769.7 672 L771.3 672 L772.9 672.3 L774.4 672.8 L776 673.5 L777.6 674.4 L779.2 675.5 L780.7 676.7 L782.3 678.1 L783.9 679.6 L785.4 681.2 L787 682.8 L788.6 684.4 L790.2 685.9 L791.7 687.5 L793.3 689 L794.9 690.4 L796.5 691.7 L798 692.9 L799.6 694 L801.2 694.9 L802.8 695.8 L804.3 696.6 L805.9 697.3 L807.5 697.9 L809.1 698.3 L810.6 698.8 L812.2 699.1 L813.8 699.4 L815.3 699.6 L816.9 699.8 L818.5 700 L820.1 700.1 L821.6 700.2 L823.2 700.3 L824.8 700.3" fill="none" stroke="#6e7272" stroke-width="3.6" stroke-linejoin="round"/>
<path d="M857.7 700 L859.1 699.8 L860.4 699.6 L861.8 699.3 L863.1 698.9 L864.5 698.5 L865.8 697.9 L867.2 697.2 L868.6 696.3 L869.9 695.3 L871.3 694 L872.6 692.5 L874 690.8 L875.3 688.7 L876.7 686.4 L878 683.7 L879.4 680.8 L880.8 677.5 L882.1 673.8 L883.5 669.9 L884.8 665.7 L886.2 661.2 L887.5 656.6 L888.9 651.8 L890.3 647 L891.6 642.2 L893 637.5 L894.3 633 L895.7 628.8 L897 625 L898.4 621.7 L899.8 618.9 L901.1 616.8 L902.5 615.3 L903.8 614.6 L905.2 614.6 L906.5 615.3 L907.9 616.8 L909.2 618.9 L910.6 621.7 L912 625 L913.3 628.8 L914.7 633 L916 637.5 L917.4 642.2 L918.7 647 L920.1 651.8 L921.5 656.6 L922.8 661.2 L924.2 665.7 L925.5 669.9 L926.9 673.8 L928.2 677.5 L929.6 680.8 L931 683.7 L932.3 686.4 L933.7 688.7 L935 690.8 L936.4 692.5 L937.7 694 L939.1 695.3 L940.4 696.3 L941.8 697.2 L943.2 697.9 L944.5 698.5 L945.9 698.9 L947.2 699.3 L948.6 699.6 L949.9 699.8 L951.3 700" fill="none" stroke="#6e7272" stroke-width="3.6" stroke-linejoin="round"/>
<path d="M673 700.4 L674.7 700.4 L676.5 700.3 L678.2 700.3 L679.9 700.2 L681.7 700.1 L683.4 700 L685.2 699.9 L686.9 699.7 L688.6 699.6 L690.4 699.3 L692.1 699.1 L693.8 698.7 L695.6 698.4 L697.3 698 L699 697.5 L700.8 696.9 L702.5 696.3 L704.3 695.7 L706 695 L707.7 694.2 L709.5 693.4 L711.2 692.6 L712.9 691.7 L714.7 690.9 L716.4 690 L718.1 689.1 L719.9 688.3 L721.6 687.6 L723.4 686.9 L725.1 686.3 L726.8 685.8 L728.6 685.4 L730.3 685.1 L732 685 L733.8 685 L735.5 685.1 L737.2 685.4 L739 685.8 L740.7 686.3 L742.4 686.9 L744.2 687.6 L745.9 688.3 L747.7 689.1 L749.4 690 L751.1 690.9 L752.9 691.7 L754.6 692.6 L756.3 693.4 L758.1 694.2 L759.8 695 L761.5 695.7 L763.3 696.3 L765 696.9 L766.8 697.5 L768.5 698 L770.2 698.4 L772 698.7 L773.7 699.1 L775.4 699.3 L777.2 699.6 L778.9 699.7 L780.6 699.9 L782.4 700 L784.1 700.1 L785.9 700.2 L787.6 700.3 L789.3 700.3 L791.1 700.4 L792.8 700.4" fill="none" stroke="#6e7272" stroke-width="3.6" stroke-linejoin="round"/>
<path d="M813.7 700.2 L815.3 700.2 L816.9 700.1 L818.4 699.9 L820 699.7 L821.6 699.5 L823.2 699.2 L824.7 698.9 L826.3 698.5 L827.9 697.9 L829.4 697.3 L831 696.6 L832.6 695.7 L834.2 694.7 L835.7 693.6 L837.3 692.3 L838.9 690.9 L840.5 689.3 L842 687.5 L843.6 685.6 L845.2 683.5 L846.8 681.3 L848.3 679.1 L849.9 676.7 L851.5 674.4 L853.1 672 L854.6 669.7 L856.2 667.5 L857.8 665.5 L859.3 663.6 L860.9 662 L862.5 660.7 L864.1 659.6 L865.6 658.9 L867.2 658.5 L868.8 658.5 L870.4 658.9 L871.9 659.6 L873.5 660.7 L875.1 662 L876.7 663.6 L878.2 665.5 L879.8 667.5 L881.4 669.7 L882.9 672 L884.5 674.4 L886.1 676.7 L887.7 679.1 L889.2 681.3 L890.8 683.5 L892.4 685.6 L894 687.5 L895.5 689.3 L897.1 690.9 L898.7 692.3 L900.3 693.6 L901.8 694.7 L903.4 695.7 L905 696.6 L906.6 697.3 L908.1 697.9 L909.7 698.5 L911.3 698.9 L912.8 699.2 L914.4 699.5 L916 699.7 L917.6 699.9 L919.1 700.1 L920.7 700.2 L922.3 700.2" fill="none" stroke="#6e7272" stroke-width="3.6" stroke-linejoin="round"/>
<line x1="611" y1="700.5" x2="1068" y2="700.5" stroke="#6e7272" stroke-width="5.6"/>
<path d="M611 680.8 C620.2 681.2 649.8 684.5 666.4 683 C683 681.5 699.6 675.3 710.7 672 C721.8 668.7 724 667.1 732.9 663 C741.8 658.9 755 648 763.9 647.6 C772.8 647.2 778.6 655.4 786 660.9 C793.4 666.4 801.6 677.5 808.2 680.8 C814.9 684.1 819.3 683.8 825.9 680.8 C832.5 677.8 840.6 670 848 663 C855.4 656 863.6 645.7 870.2 638.7 C876.9 631.7 882.4 627.3 887.9 621 C893.4 614.7 898.2 600.3 903.4 601 C908.6 601.7 913.4 612.5 918.9 625.4 C924.4 638.3 930.7 667.2 936.6 678.6 C942.5 690 932.2 691 954.3 694 C976.4 697 1050.2 695.9 1069.4 696.3" fill="none" stroke="#000" stroke-width="7.0" stroke-linejoin="round" stroke-linecap="round"/>
<rect x="610.5" y="678" width="7" height="3.2" fill="#000"/>
<rect x="617.3" y="680.7" width="7" height="3.2" fill="#000"/>
<rect x="628.7" y="681.2" width="7" height="3.2" fill="#000"/>
<rect x="636.4" y="679.3" width="7" height="3.2" fill="#000"/>
<rect x="647.9" y="680.1" width="7" height="3.2" fill="#000"/>
<rect x="654.4" y="680.7" width="7" height="3.2" fill="#000"/>
<rect x="662.2" y="682.8" width="7" height="3.2" fill="#000"/>
<rect x="669.7" y="681" width="7" height="3.2" fill="#000"/>
<rect x="679.5" y="677.9" width="7" height="3.2" fill="#000"/>
<rect x="687.3" y="676.1" width="7" height="3.2" fill="#000"/>
<rect x="693.3" y="674.9" width="7" height="3.2" fill="#000"/>
<rect x="699.2" y="673.1" width="7" height="3.2" fill="#000"/>
<rect x="710.6" y="670.9" width="7" height="3.2" fill="#000"/>
<rect x="720.1" y="665.5" width="7" height="3.2" fill="#000"/>
<rect x="728.9" y="662" width="7" height="3.2" fill="#000"/>
<rect x="740.2" y="653.8" width="7" height="3.2" fill="#000"/>
<rect x="751.9" y="650" width="7" height="3.2" fill="#000"/>
<rect x="760" y="646.8" width="7" height="3.2" fill="#000"/>
<rect x="768.5" y="648.9" width="7" height="3.2" fill="#000"/>
<rect x="779.9" y="656.5" width="7" height="3.2" fill="#000"/>
<rect x="787.9" y="664.3" width="7" height="3.2" fill="#000"/>
<rect x="797.8" y="674.6" width="7" height="3.2" fill="#000"/>
<rect x="806.7" y="678.8" width="7" height="3.2" fill="#000"/>
<rect x="816.4" y="681.8" width="7" height="3.2" fill="#000"/>
<rect x="823.1" y="677.5" width="7" height="3.2" fill="#000"/>
<rect x="835.4" y="671.1" width="7" height="3.2" fill="#000"/>
<rect x="844.1" y="659.8" width="7" height="3.2" fill="#000"/>
<rect x="849.9" y="657.2" width="7" height="3.2" fill="#000"/>
<rect x="861.7" y="641.6" width="7" height="3.2" fill="#000"/>
<rect x="872.2" y="632" width="7" height="3.2" fill="#000"/>
<rect x="881.4" y="624.5" width="7" height="3.2" fill="#000"/>
<rect x="891.6" y="608.6" width="7" height="3.2" fill="#000"/>
<rect x="902.3" y="601.5" width="7" height="3.2" fill="#000"/>
<rect x="909.3" y="609.8" width="7" height="3.2" fill="#000"/>
<rect x="916.1" y="627.4" width="7" height="3.2" fill="#000"/>
<rect x="927.2" y="661.7" width="7" height="3.2" fill="#000"/>
<rect x="932.8" y="677.7" width="7" height="3.2" fill="#000"/>
<rect x="941.2" y="691.3" width="7" height="3.2" fill="#000"/>
<rect x="951.3" y="690.7" width="7" height="3.2" fill="#000"/>
<rect x="963.5" y="692.9" width="7" height="3.2" fill="#000"/>
<rect x="970.1" y="693.2" width="7" height="3.2" fill="#000"/>
<rect x="978.5" y="692.7" width="7" height="3.2" fill="#000"/>
<rect x="984" y="693.8" width="7" height="3.2" fill="#000"/>
<rect x="994.3" y="695.8" width="7" height="3.2" fill="#000"/>
<rect x="999.9" y="695.8" width="7" height="3.2" fill="#000"/>
<rect x="1007.8" y="695.2" width="7" height="3.2" fill="#000"/>
<rect x="1014.1" y="693.6" width="7" height="3.2" fill="#000"/>
<rect x="1022.5" y="695.4" width="7" height="3.2" fill="#000"/>
<rect x="1034.4" y="694" width="7" height="3.2" fill="#000"/>
<rect x="1046.1" y="694.8" width="7" height="3.2" fill="#000"/>
<rect x="1055.8" y="694.6" width="7" height="3.2" fill="#000"/>
<path d="M711 808.7 L712.7 808.7 L714.3 808.6 L716 808.5 L717.7 808.4 L719.4 808.2 L721.1 808 L722.7 807.8 L724.4 807.5 L726.1 807.1 L727.8 806.7 L729.5 806.2 L731.2 805.6 L732.8 804.9 L734.5 804.1 L736.2 803.2 L737.9 802.2 L739.6 801.1 L741.2 799.8 L742.9 798.5 L744.6 797 L746.3 795.5 L748 793.9 L749.7 792.3 L751.3 790.7 L753 789 L754.7 787.4 L756.4 785.9 L758.1 784.5 L759.7 783.2 L761.4 782 L763.1 781.1 L764.8 780.4 L766.5 779.9 L768.2 779.6 L769.8 779.6 L771.5 779.9 L773.2 780.4 L774.9 781.1 L776.6 782 L778.3 783.2 L779.9 784.5 L781.6 785.9 L783.3 787.4 L785 789 L786.7 790.7 L788.3 792.3 L790 793.9 L791.7 795.5 L793.4 797 L795.1 798.5 L796.8 799.8 L798.4 801.1 L800.1 802.2 L801.8 803.2 L803.5 804.1 L805.2 804.9 L806.8 805.6 L808.5 806.2 L810.2 806.7 L811.9 807.1 L813.6 807.5 L815.3 807.8 L816.9 808 L818.6 808.2 L820.3 808.4 L822 808.5 L823.7 808.6 L825.3 808.7 L827 808.7 L827 808.9 L825.3 808.9 L823.7 808.9 L822 808.9 L820.3 808.9 L818.6 808.9 L816.9 808.9 L815.3 808.9 L813.6 808.9 L811.9 808.9 L810.2 808.9 L808.5 808.9 L806.8 808.9 L805.2 808.9 L803.5 808.9 L801.8 808.9 L800.1 808.9 L798.4 808.9 L796.8 808.9 L795.1 808.9 L793.4 808.9 L791.7 808.9 L790 808.9 L788.3 808.9 L786.7 808.9 L785 808.9 L783.3 808.9 L781.6 808.9 L779.9 808.9 L778.3 808.9 L776.6 808.9 L774.9 808.9 L773.2 808.9 L771.5 808.9 L769.8 808.9 L768.2 808.9 L766.5 808.9 L764.8 808.9 L763.1 808.9 L761.4 808.9 L759.7 808.9 L758.1 808.9 L756.4 808.9 L754.7 808.9 L753 808.9 L751.3 808.9 L749.7 808.9 L748 808.9 L746.3 808.9 L744.6 808.9 L742.9 808.9 L741.2 808.9 L739.6 808.9 L737.9 808.9 L736.2 808.9 L734.5 808.9 L732.8 808.9 L731.2 808.9 L729.5 808.9 L727.8 808.9 L726.1 808.9 L724.4 808.9 L722.7 808.9 L721.1 808.9 L719.4 808.9 L717.7 808.9 L716 808.9 L714.3 808.9 L712.7 808.9 L711 808.9 Z" fill="#66c1c2" fill-opacity="0.95" stroke="none"/>
<path d="M854.9 808.4 L856.3 808.2 L857.6 808 L859 807.7 L860.3 807.3 L861.6 806.8 L863 806.3 L864.3 805.5 L865.6 804.7 L867 803.6 L868.3 802.3 L869.6 800.8 L871 799.1 L872.3 797 L873.6 794.6 L875 792 L876.3 789 L877.6 785.6 L879 782 L880.3 778 L881.6 773.7 L883 769.2 L884.3 764.5 L885.6 759.7 L887 754.8 L888.3 750 L889.7 745.2 L891 740.7 L892.3 736.4 L893.7 732.6 L895 729.2 L896.3 726.5 L897.7 724.3 L899 722.8 L900.3 722.1 L901.7 722.1 L903 722.8 L904.3 724.3 L905.7 726.5 L907 729.2 L908.3 732.6 L909.7 736.4 L911 740.7 L912.3 745.2 L913.7 750 L915 754.8 L916.4 759.7 L917.7 764.5 L919 769.2 L920.4 773.7 L921.7 778 L923 782 L924.4 785.6 L925.7 789 L927 792 L928.4 794.6 L929.7 797 L931 799.1 L932.4 800.8 L933.7 802.3 L935 803.6 L936.4 804.7 L937.7 805.5 L939 806.3 L940.4 806.8 L941.7 807.3 L943 807.7 L944.4 808 L945.7 808.2 L947.1 808.4 L947.1 808.9 L945.7 808.9 L944.4 808.9 L943 808.9 L941.7 808.9 L940.4 808.9 L939 808.9 L937.7 808.9 L936.4 808.9 L935 808.9 L933.7 808.9 L932.4 808.9 L931 808.9 L929.7 808.9 L928.4 808.9 L927 808.9 L925.7 808.9 L924.4 808.9 L923 808.9 L921.7 808.9 L920.4 808.9 L919 808.9 L917.7 808.9 L916.4 808.9 L915 808.9 L913.7 808.9 L912.3 808.9 L911 808.9 L909.7 808.9 L908.3 808.9 L907 808.9 L905.7 808.9 L904.3 808.9 L903 808.9 L901.7 808.9 L900.3 808.9 L899 808.9 L897.7 808.9 L896.3 808.9 L895 808.9 L893.7 808.9 L892.3 808.9 L891 808.9 L889.7 808.9 L888.3 808.9 L887 808.9 L885.6 808.9 L884.3 808.9 L883 808.9 L881.6 808.9 L880.3 808.9 L879 808.9 L877.6 808.9 L876.3 808.9 L875 808.9 L873.6 808.9 L872.3 808.9 L871 808.9 L869.6 808.9 L868.3 808.9 L867 808.9 L865.6 808.9 L864.3 808.9 L863 808.9 L861.6 808.9 L860.3 808.9 L859 808.9 L857.6 808.9 L856.3 808.9 L854.9 808.9 Z" fill="#66c1c2" fill-opacity="0.95" stroke="none"/>
<path d="M672.2 808.8 L673.9 808.8 L675.5 808.8 L677.1 808.7 L678.8 808.7 L680.4 808.6 L682 808.6 L683.6 808.5 L685.3 808.3 L686.9 808.2 L688.5 808 L690.1 807.8 L691.8 807.6 L693.4 807.4 L695 807 L696.7 806.7 L698.3 806.3 L699.9 805.9 L701.5 805.4 L703.2 804.9 L704.8 804.3 L706.4 803.7 L708.1 803.1 L709.7 802.5 L711.3 801.9 L712.9 801.2 L714.6 800.6 L716.2 800 L717.8 799.5 L719.4 799 L721.1 798.5 L722.7 798.2 L724.3 797.9 L726 797.7 L727.6 797.6 L729.2 797.6 L730.8 797.7 L732.5 797.9 L734.1 798.2 L735.7 798.5 L737.4 799 L739 799.5 L740.6 800 L742.2 800.6 L743.9 801.2 L745.5 801.9 L747.1 802.5 L748.7 803.1 L750.4 803.7 L752 804.3 L753.6 804.9 L755.3 805.4 L756.9 805.9 L758.5 806.3 L760.1 806.7 L761.8 807 L763.4 807.4 L765 807.6 L766.7 807.8 L768.3 808 L769.9 808.2 L771.5 808.3 L773.2 808.5 L774.8 808.6 L776.4 808.6 L778 808.7 L779.7 808.7 L781.3 808.8 L782.9 808.8 L784.6 808.8 L784.6 808.9 L782.9 808.9 L781.3 808.9 L779.7 808.9 L778 808.9 L776.4 808.9 L774.8 808.9 L773.2 808.9 L771.5 808.9 L769.9 808.9 L768.3 808.9 L766.7 808.9 L765 808.9 L763.4 808.9 L761.8 808.9 L760.1 808.9 L758.5 808.9 L756.9 808.9 L755.3 808.9 L753.6 808.9 L752 808.9 L750.4 808.9 L748.7 808.9 L747.1 808.9 L745.5 808.9 L743.9 808.9 L742.2 808.9 L740.6 808.9 L739 808.9 L737.4 808.9 L735.7 808.9 L734.1 808.9 L732.5 808.9 L730.8 808.9 L729.2 808.9 L727.6 808.9 L726 808.9 L724.3 808.9 L722.7 808.9 L721.1 808.9 L719.4 808.9 L717.8 808.9 L716.2 808.9 L714.6 808.9 L712.9 808.9 L711.3 808.9 L709.7 808.9 L708.1 808.9 L706.4 808.9 L704.8 808.9 L703.2 808.9 L701.5 808.9 L699.9 808.9 L698.3 808.9 L696.7 808.9 L695 808.9 L693.4 808.9 L691.8 808.9 L690.1 808.9 L688.5 808.9 L686.9 808.9 L685.3 808.9 L683.6 808.9 L682 808.9 L680.4 808.9 L678.8 808.9 L677.1 808.9 L675.5 808.9 L673.9 808.9 L672.2 808.9 Z" fill="#ea543a" fill-opacity="0.95" stroke="none"/>
<path d="M813.3 808.7 L814.8 808.6 L816.3 808.6 L817.8 808.5 L819.4 808.3 L820.9 808.2 L822.4 807.9 L823.9 807.7 L825.4 807.4 L827 807 L828.5 806.5 L830 806 L831.5 805.4 L833 804.6 L834.6 803.8 L836.1 802.8 L837.6 801.7 L839.1 800.5 L840.6 799.2 L842.2 797.8 L843.7 796.2 L845.2 794.6 L846.7 792.9 L848.2 791.2 L849.7 789.4 L851.3 787.7 L852.8 786 L854.3 784.3 L855.8 782.8 L857.3 781.4 L858.9 780.2 L860.4 779.2 L861.9 778.4 L863.4 777.9 L864.9 777.6 L866.5 777.6 L868 777.9 L869.5 778.4 L871 779.2 L872.5 780.2 L874.1 781.4 L875.6 782.8 L877.1 784.3 L878.6 786 L880.1 787.7 L881.7 789.4 L883.2 791.2 L884.7 792.9 L886.2 794.6 L887.7 796.2 L889.2 797.8 L890.8 799.2 L892.3 800.5 L893.8 801.7 L895.3 802.8 L896.8 803.8 L898.4 804.6 L899.9 805.4 L901.4 806 L902.9 806.5 L904.4 807 L906 807.4 L907.5 807.7 L909 807.9 L910.5 808.2 L912 808.3 L913.6 808.5 L915.1 808.6 L916.6 808.6 L918.1 808.7 L918.1 808.9 L916.6 808.9 L915.1 808.9 L913.6 808.9 L912 808.9 L910.5 808.9 L909 808.9 L907.5 808.9 L906 808.9 L904.4 808.9 L902.9 808.9 L901.4 808.9 L899.9 808.9 L898.4 808.9 L896.8 808.9 L895.3 808.9 L893.8 808.9 L892.3 808.9 L890.8 808.9 L889.2 808.9 L887.7 808.9 L886.2 808.9 L884.7 808.9 L883.2 808.9 L881.7 808.9 L880.1 808.9 L878.6 808.9 L877.1 808.9 L875.6 808.9 L874.1 808.9 L872.5 808.9 L871 808.9 L869.5 808.9 L868 808.9 L866.5 808.9 L864.9 808.9 L863.4 808.9 L861.9 808.9 L860.4 808.9 L858.9 808.9 L857.3 808.9 L855.8 808.9 L854.3 808.9 L852.8 808.9 L851.3 808.9 L849.7 808.9 L848.2 808.9 L846.7 808.9 L845.2 808.9 L843.7 808.9 L842.2 808.9 L840.6 808.9 L839.1 808.9 L837.6 808.9 L836.1 808.9 L834.6 808.9 L833 808.9 L831.5 808.9 L830 808.9 L828.5 808.9 L827 808.9 L825.4 808.9 L823.9 808.9 L822.4 808.9 L820.9 808.9 L819.4 808.9 L817.8 808.9 L816.3 808.9 L814.8 808.9 L813.3 808.9 Z" fill="#ea543a" fill-opacity="0.95" stroke="none"/>
<path d="M711 808.7 L712.7 808.7 L714.3 808.6 L716 808.5 L717.7 808.4 L719.4 808.2 L721.1 808 L722.7 807.8 L724.4 807.5 L726.1 807.1 L727.8 806.7 L729.5 806.2 L731.2 805.6 L732.8 804.9 L734.5 804.1 L736.2 803.2 L737.9 802.2 L739.6 801.1 L741.2 799.8 L742.9 798.5 L744.6 797 L746.3 795.5 L748 793.9 L749.7 792.3 L751.3 790.7 L753 789 L754.7 787.4 L756.4 785.9 L758.1 784.5 L759.7 783.2 L761.4 782 L763.1 781.1 L764.8 780.4 L766.5 779.9 L768.2 779.6 L769.8 779.6 L771.5 779.9 L773.2 780.4 L774.9 781.1 L776.6 782 L778.3 783.2 L779.9 784.5 L781.6 785.9 L783.3 787.4 L785 789 L786.7 790.7 L788.3 792.3 L790 793.9 L791.7 795.5 L793.4 797 L795.1 798.5 L796.8 799.8 L798.4 801.1 L800.1 802.2 L801.8 803.2 L803.5 804.1 L805.2 804.9 L806.8 805.6 L808.5 806.2 L810.2 806.7 L811.9 807.1 L813.6 807.5 L815.3 807.8 L816.9 808 L818.6 808.2 L820.3 808.4 L822 808.5 L823.7 808.6 L825.3 808.7 L827 808.7" fill="none" stroke="#6e7272" stroke-width="3.6" stroke-linejoin="round"/>
<path d="M854.9 808.4 L856.3 808.2 L857.6 808 L859 807.7 L860.3 807.3 L861.6 806.8 L863 806.3 L864.3 805.5 L865.6 804.7 L867 803.6 L868.3 802.3 L869.6 800.8 L871 799.1 L872.3 797 L873.6 794.6 L875 792 L876.3 789 L877.6 785.6 L879 782 L880.3 778 L881.6 773.7 L883 769.2 L884.3 764.5 L885.6 759.7 L887 754.8 L888.3 750 L889.7 745.2 L891 740.7 L892.3 736.4 L893.7 732.6 L895 729.2 L896.3 726.5 L897.7 724.3 L899 722.8 L900.3 722.1 L901.7 722.1 L903 722.8 L904.3 724.3 L905.7 726.5 L907 729.2 L908.3 732.6 L909.7 736.4 L911 740.7 L912.3 745.2 L913.7 750 L915 754.8 L916.4 759.7 L917.7 764.5 L919 769.2 L920.4 773.7 L921.7 778 L923 782 L924.4 785.6 L925.7 789 L927 792 L928.4 794.6 L929.7 797 L931 799.1 L932.4 800.8 L933.7 802.3 L935 803.6 L936.4 804.7 L937.7 805.5 L939 806.3 L940.4 806.8 L941.7 807.3 L943 807.7 L944.4 808 L945.7 808.2 L947.1 808.4" fill="none" stroke="#6e7272" stroke-width="3.6" stroke-linejoin="round"/>
<path d="M672.2 808.8 L673.9 808.8 L675.5 808.8 L677.1 808.7 L678.8 808.7 L680.4 808.6 L682 808.6 L683.6 808.5 L685.3 808.3 L686.9 808.2 L688.5 808 L690.1 807.8 L691.8 807.6 L693.4 807.4 L695 807 L696.7 806.7 L698.3 806.3 L699.9 805.9 L701.5 805.4 L703.2 804.9 L704.8 804.3 L706.4 803.7 L708.1 803.1 L709.7 802.5 L711.3 801.9 L712.9 801.2 L714.6 800.6 L716.2 800 L717.8 799.5 L719.4 799 L721.1 798.5 L722.7 798.2 L724.3 797.9 L726 797.7 L727.6 797.6 L729.2 797.6 L730.8 797.7 L732.5 797.9 L734.1 798.2 L735.7 798.5 L737.4 799 L739 799.5 L740.6 800 L742.2 800.6 L743.9 801.2 L745.5 801.9 L747.1 802.5 L748.7 803.1 L750.4 803.7 L752 804.3 L753.6 804.9 L755.3 805.4 L756.9 805.9 L758.5 806.3 L760.1 806.7 L761.8 807 L763.4 807.4 L765 807.6 L766.7 807.8 L768.3 808 L769.9 808.2 L771.5 808.3 L773.2 808.5 L774.8 808.6 L776.4 808.6 L778 808.7 L779.7 808.7 L781.3 808.8 L782.9 808.8 L784.6 808.8" fill="none" stroke="#6e7272" stroke-width="3.6" stroke-linejoin="round"/>
<path d="M813.3 808.7 L814.8 808.6 L816.3 808.6 L817.8 808.5 L819.4 808.3 L820.9 808.2 L822.4 807.9 L823.9 807.7 L825.4 807.4 L827 807 L828.5 806.5 L830 806 L831.5 805.4 L833 804.6 L834.6 803.8 L836.1 802.8 L837.6 801.7 L839.1 800.5 L840.6 799.2 L842.2 797.8 L843.7 796.2 L845.2 794.6 L846.7 792.9 L848.2 791.2 L849.7 789.4 L851.3 787.7 L852.8 786 L854.3 784.3 L855.8 782.8 L857.3 781.4 L858.9 780.2 L860.4 779.2 L861.9 778.4 L863.4 777.9 L864.9 777.6 L866.5 777.6 L868 777.9 L869.5 778.4 L871 779.2 L872.5 780.2 L874.1 781.4 L875.6 782.8 L877.1 784.3 L878.6 786 L880.1 787.7 L881.7 789.4 L883.2 791.2 L884.7 792.9 L886.2 794.6 L887.7 796.2 L889.2 797.8 L890.8 799.2 L892.3 800.5 L893.8 801.7 L895.3 802.8 L896.8 803.8 L898.4 804.6 L899.9 805.4 L901.4 806 L902.9 806.5 L904.4 807 L906 807.4 L907.5 807.7 L909 807.9 L910.5 808.2 L912 808.3 L913.6 808.5 L915.1 808.6 L916.6 808.6 L918.1 808.7" fill="none" stroke="#6e7272" stroke-width="3.6" stroke-linejoin="round"/>
<line x1="611" y1="808.9" x2="1068" y2="808.9" stroke="#6e7272" stroke-width="5.6"/>
<path d="M611 792 C617.5 792.4 637.1 794.2 650 794.5 C662.9 794.8 674.8 797.2 688.6 794 C702.4 790.8 720 780.6 732.9 775.3 C745.8 770 757.1 762.4 766 762 C774.9 761.6 779 768.2 786 773 C793 777.8 801.6 787.8 808.2 790.8 C814.9 793.8 819.3 793 825.9 790.8 C832.5 788.6 839.9 783.8 848 777.5 C856.1 771.2 867.2 763 874.6 753 C882 743 887.9 724.3 892.3 717.7 C896.7 711.1 897.3 711.1 901 713.3 C904.7 715.5 909.9 719.9 914.4 731 C918.9 742.1 922.5 769.4 927.7 779.7 C932.9 790 933.6 789.3 945.4 793 C957.2 796.7 977.9 798.9 998.6 801.9 C1019.3 804.9 1057.6 809.2 1069.4 810.7" fill="none" stroke="#000" stroke-width="7.0" stroke-linejoin="round" stroke-linecap="round"/>
<rect x="610.5" y="790.1" width="7" height="3.2" fill="#000"/>
<rect x="620.6" y="792.3" width="7" height="3.2" fill="#000"/>
<rect x="629.1" y="793.8" width="7" height="3.2" fill="#000"/>
<rect x="636.3" y="791.9" width="7" height="3.2" fill="#000"/>
<rect x="645.2" y="791.8" width="7" height="3.2" fill="#000"/>
<rect x="654.4" y="794.4" width="7" height="3.2" fill="#000"/>
<rect x="659.9" y="791.9" width="7" height="3.2" fill="#000"/>
<rect x="670.8" y="792.2" width="7" height="3.2" fill="#000"/>
<rect x="676.9" y="795.5" width="7" height="3.2" fill="#000"/>
<rect x="683.9" y="791.8" width="7" height="3.2" fill="#000"/>
<rect x="693.3" y="788.2" width="7" height="3.2" fill="#000"/>
<rect x="703" y="787.8" width="7" height="3.2" fill="#000"/>
<rect x="708.6" y="784.3" width="7" height="3.2" fill="#000"/>
<rect x="720" y="778.8" width="7" height="3.2" fill="#000"/>
<rect x="729.5" y="773.7" width="7" height="3.2" fill="#000"/>
<rect x="741.6" y="769.1" width="7" height="3.2" fill="#000"/>
<rect x="752.7" y="762.8" width="7" height="3.2" fill="#000"/>
<rect x="758.2" y="760" width="7" height="3.2" fill="#000"/>
<rect x="770.2" y="763.1" width="7" height="3.2" fill="#000"/>
<rect x="780" y="771.2" width="7" height="3.2" fill="#000"/>
<rect x="792.3" y="779.7" width="7" height="3.2" fill="#000"/>
<rect x="804.4" y="787.5" width="7" height="3.2" fill="#000"/>
<rect x="813.5" y="790.8" width="7" height="3.2" fill="#000"/>
<rect x="823.1" y="787.5" width="7" height="3.2" fill="#000"/>
<rect x="832.4" y="784.1" width="7" height="3.2" fill="#000"/>
<rect x="839.2" y="779.9" width="7" height="3.2" fill="#000"/>
<rect x="849.3" y="772.5" width="7" height="3.2" fill="#000"/>
<rect x="854.7" y="768.1" width="7" height="3.2" fill="#000"/>
<rect x="866.7" y="756.7" width="7" height="3.2" fill="#000"/>
<rect x="875.4" y="745.3" width="7" height="3.2" fill="#000"/>
<rect x="881.6" y="730.5" width="7" height="3.2" fill="#000"/>
<rect x="892.7" y="711.8" width="7" height="3.2" fill="#000"/>
<rect x="902.4" y="717" width="7" height="3.2" fill="#000"/>
<rect x="914.9" y="743.9" width="7" height="3.2" fill="#000"/>
<rect x="922.9" y="776.4" width="7" height="3.2" fill="#000"/>
<rect x="932.2" y="787.9" width="7" height="3.2" fill="#000"/>
<rect x="939.8" y="790.7" width="7" height="3.2" fill="#000"/>
<rect x="952.4" y="795.2" width="7" height="3.2" fill="#000"/>
<rect x="960.3" y="795" width="7" height="3.2" fill="#000"/>
<rect x="967" y="795.2" width="7" height="3.2" fill="#000"/>
<rect x="973.3" y="798.7" width="7" height="3.2" fill="#000"/>
<rect x="984" y="797.5" width="7" height="3.2" fill="#000"/>
<rect x="989.9" y="800.5" width="7" height="3.2" fill="#000"/>
<rect x="999.4" y="801.7" width="7" height="3.2" fill="#000"/>
<rect x="1005.7" y="800.7" width="7" height="3.2" fill="#000"/>
<rect x="1018.3" y="801.4" width="7" height="3.2" fill="#000"/>
<rect x="1027.9" y="802.6" width="7" height="3.2" fill="#000"/>
<rect x="1033.9" y="803.6" width="7" height="3.2" fill="#000"/>
<rect x="1043" y="806.8" width="7" height="3.2" fill="#000"/>
<rect x="1049.7" y="807.7" width="7" height="3.2" fill="#000"/>
<rect x="1060.2" y="810" width="7" height="3.2" fill="#000"/>
<path d="M672.6 926 L674.6 926 L676.5 925.9 L678.5 925.9 L680.4 925.9 L682.4 925.9 L684.3 925.8 L686.3 925.8 L688.2 925.8 L690.2 925.7 L692.1 925.6 L694.1 925.5 L696 925.4 L698 925.3 L700 925.2 L701.9 925 L703.9 924.9 L705.8 924.7 L707.8 924.4 L709.7 924.2 L711.7 924 L713.6 923.7 L715.6 923.4 L717.5 923.2 L719.5 922.9 L721.4 922.6 L723.4 922.3 L725.3 922.1 L727.3 921.8 L729.3 921.6 L731.2 921.4 L733.2 921.3 L735.1 921.1 L737.1 921 L739 921 L741 921 L742.9 921 L744.9 921.1 L746.8 921.3 L748.8 921.4 L750.7 921.6 L752.7 921.8 L754.7 922.1 L756.6 922.3 L758.6 922.6 L760.5 922.9 L762.5 923.2 L764.4 923.4 L766.4 923.7 L768.3 924 L770.3 924.2 L772.2 924.4 L774.2 924.7 L776.1 924.9 L778.1 925 L780 925.2 L782 925.3 L784 925.4 L785.9 925.5 L787.9 925.6 L789.8 925.7 L791.8 925.8 L793.7 925.8 L795.7 925.8 L797.6 925.9 L799.6 925.9 L801.5 925.9 L803.5 925.9 L805.4 926 L807.4 926 L807.4 926 L805.4 926 L803.5 926 L801.5 926 L799.6 926 L797.6 926 L795.7 926 L793.7 926 L791.8 926 L789.8 926 L787.9 926 L785.9 926 L784 926 L782 926 L780 926 L778.1 926 L776.1 926 L774.2 926 L772.2 926 L770.3 926 L768.3 926 L766.4 926 L764.4 926 L762.5 926 L760.5 926 L758.6 926 L756.6 926 L754.7 926 L752.7 926 L750.7 926 L748.8 926 L746.8 926 L744.9 926 L742.9 926 L741 926 L739 926 L737.1 926 L735.1 926 L733.2 926 L731.2 926 L729.3 926 L727.3 926 L725.3 926 L723.4 926 L721.4 926 L719.5 926 L717.5 926 L715.6 926 L713.6 926 L711.7 926 L709.7 926 L707.8 926 L705.8 926 L703.9 926 L701.9 926 L700 926 L698 926 L696 926 L694.1 926 L692.1 926 L690.2 926 L688.2 926 L686.3 926 L684.3 926 L682.4 926 L680.4 926 L678.5 926 L676.5 926 L674.6 926 L672.6 926 Z" fill="#966e50" fill-opacity="0.95" stroke="none"/>
<path d="M730.2 925.8 L731.8 925.8 L733.4 925.7 L734.9 925.6 L736.5 925.5 L738.1 925.4 L739.7 925.2 L741.2 924.9 L742.8 924.7 L744.4 924.3 L745.9 923.9 L747.5 923.5 L749.1 922.9 L750.7 922.2 L752.2 921.5 L753.8 920.7 L755.4 919.7 L757 918.7 L758.5 917.5 L760.1 916.3 L761.7 914.9 L763.3 913.5 L764.8 912 L766.4 910.5 L768 908.9 L769.6 907.4 L771.1 905.9 L772.7 904.5 L774.3 903.2 L775.8 901.9 L777.4 900.9 L779 900 L780.6 899.3 L782.1 898.9 L783.7 898.6 L785.3 898.6 L786.9 898.9 L788.4 899.3 L790 900 L791.6 900.9 L793.2 901.9 L794.7 903.2 L796.3 904.5 L797.9 905.9 L799.4 907.4 L801 908.9 L802.6 910.5 L804.2 912 L805.7 913.5 L807.3 914.9 L808.9 916.3 L810.5 917.5 L812 918.7 L813.6 919.7 L815.2 920.7 L816.8 921.5 L818.3 922.2 L819.9 922.9 L821.5 923.5 L823.1 923.9 L824.6 924.3 L826.2 924.7 L827.8 924.9 L829.3 925.2 L830.9 925.4 L832.5 925.5 L834.1 925.6 L835.6 925.7 L837.2 925.8 L838.8 925.8 L838.8 926 L837.2 926 L835.6 926 L834.1 926 L832.5 926 L830.9 926 L829.3 926 L827.8 926 L826.2 926 L824.6 926 L823.1 926 L821.5 926 L819.9 926 L818.3 926 L816.8 926 L815.2 926 L813.6 926 L812 926 L810.5 926 L808.9 926 L807.3 926 L805.7 926 L804.2 926 L802.6 926 L801 926 L799.4 926 L797.9 926 L796.3 926 L794.7 926 L793.2 926 L791.6 926 L790 926 L788.4 926 L786.9 926 L785.3 926 L783.7 926 L782.1 926 L780.6 926 L779 926 L777.4 926 L775.8 926 L774.3 926 L772.7 926 L771.1 926 L769.6 926 L768 926 L766.4 926 L764.8 926 L763.3 926 L761.7 926 L760.1 926 L758.5 926 L757 926 L755.4 926 L753.8 926 L752.2 926 L750.7 926 L749.1 926 L747.5 926 L745.9 926 L744.4 926 L742.8 926 L741.2 926 L739.7 926 L738.1 926 L736.5 926 L734.9 926 L733.4 926 L731.8 926 L730.2 926 Z" fill="#66c1c2" fill-opacity="0.95" stroke="none"/>
<path d="M783.7 925.9 L785.4 925.9 L787.2 925.9 L788.9 925.9 L790.6 925.8 L792.4 925.8 L794.1 925.7 L795.9 925.6 L797.6 925.5 L799.3 925.4 L801.1 925.2 L802.8 925.1 L804.5 924.9 L806.3 924.6 L808 924.4 L809.7 924.1 L811.5 923.7 L813.2 923.3 L815 922.9 L816.7 922.4 L818.4 922 L820.2 921.4 L821.9 920.9 L823.6 920.3 L825.4 919.8 L827.1 919.2 L828.8 918.7 L830.6 918.1 L832.3 917.7 L834.1 917.2 L835.8 916.8 L837.5 916.5 L839.3 916.3 L841 916.1 L842.7 916 L844.5 916 L846.2 916.1 L847.9 916.3 L849.7 916.5 L851.4 916.8 L853.1 917.2 L854.9 917.7 L856.6 918.1 L858.4 918.7 L860.1 919.2 L861.8 919.8 L863.6 920.3 L865.3 920.9 L867 921.4 L868.8 922 L870.5 922.4 L872.2 922.9 L874 923.3 L875.7 923.7 L877.5 924.1 L879.2 924.4 L880.9 924.6 L882.7 924.9 L884.4 925.1 L886.1 925.2 L887.9 925.4 L889.6 925.5 L891.3 925.6 L893.1 925.7 L894.8 925.8 L896.6 925.8 L898.3 925.9 L900 925.9 L901.8 925.9 L903.5 925.9 L903.5 926 L901.8 926 L900 926 L898.3 926 L896.6 926 L894.8 926 L893.1 926 L891.3 926 L889.6 926 L887.9 926 L886.1 926 L884.4 926 L882.7 926 L880.9 926 L879.2 926 L877.5 926 L875.7 926 L874 926 L872.2 926 L870.5 926 L868.8 926 L867 926 L865.3 926 L863.6 926 L861.8 926 L860.1 926 L858.4 926 L856.6 926 L854.9 926 L853.1 926 L851.4 926 L849.7 926 L847.9 926 L846.2 926 L844.5 926 L842.7 926 L841 926 L839.3 926 L837.5 926 L835.8 926 L834.1 926 L832.3 926 L830.6 926 L828.8 926 L827.1 926 L825.4 926 L823.6 926 L821.9 926 L820.2 926 L818.4 926 L816.7 926 L815 926 L813.2 926 L811.5 926 L809.7 926 L808 926 L806.3 926 L804.5 926 L802.8 926 L801.1 926 L799.3 926 L797.6 926 L795.9 926 L794.1 926 L792.4 926 L790.6 926 L788.9 926 L787.2 926 L785.4 926 L783.7 926 Z" fill="#8cc7c8" fill-opacity="0.95" stroke="none"/>
<path d="M868.8 925.5 L870.2 925.4 L871.6 925.1 L873.1 924.9 L874.5 924.5 L875.9 924.1 L877.3 923.6 L878.7 922.9 L880.1 922.1 L881.5 921.1 L882.9 919.9 L884.3 918.5 L885.8 916.9 L887.2 915 L888.6 912.8 L890 910.3 L891.4 907.5 L892.8 904.4 L894.2 901 L895.6 897.3 L897 893.4 L898.5 889.2 L899.9 884.8 L901.3 880.4 L902.7 875.8 L904.1 871.3 L905.5 866.9 L906.9 862.7 L908.3 858.8 L909.7 855.2 L911.2 852.1 L912.6 849.5 L914 847.5 L915.4 846.2 L916.8 845.5 L918.2 845.5 L919.6 846.2 L921 847.5 L922.4 849.5 L923.8 852.1 L925.3 855.2 L926.7 858.8 L928.1 862.7 L929.5 866.9 L930.9 871.3 L932.3 875.8 L933.7 880.4 L935.1 884.8 L936.5 889.2 L938 893.4 L939.4 897.3 L940.8 901 L942.2 904.4 L943.6 907.5 L945 910.3 L946.4 912.8 L947.8 915 L949.2 916.9 L950.7 918.5 L952.1 919.9 L953.5 921.1 L954.9 922.1 L956.3 922.9 L957.7 923.6 L959.1 924.1 L960.5 924.5 L961.9 924.9 L963.4 925.1 L964.8 925.4 L966.2 925.5 L966.2 926 L964.8 926 L963.4 926 L961.9 926 L960.5 926 L959.1 926 L957.7 926 L956.3 926 L954.9 926 L953.5 926 L952.1 926 L950.7 926 L949.2 926 L947.8 926 L946.4 926 L945 926 L943.6 926 L942.2 926 L940.8 926 L939.4 926 L938 926 L936.5 926 L935.1 926 L933.7 926 L932.3 926 L930.9 926 L929.5 926 L928.1 926 L926.7 926 L925.3 926 L923.8 926 L922.4 926 L921 926 L919.6 926 L918.2 926 L916.8 926 L915.4 926 L914 926 L912.6 926 L911.2 926 L909.7 926 L908.3 926 L906.9 926 L905.5 926 L904.1 926 L902.7 926 L901.3 926 L899.9 926 L898.5 926 L897 926 L895.6 926 L894.2 926 L892.8 926 L891.4 926 L890 926 L888.6 926 L887.2 926 L885.8 926 L884.3 926 L882.9 926 L881.5 926 L880.1 926 L878.7 926 L877.3 926 L875.9 926 L874.5 926 L873.1 926 L871.6 926 L870.2 926 L868.8 926 Z" fill="#66c1c2" fill-opacity="0.95" stroke="none"/>
<path d="M920.6 925.9 L922.3 925.8 L923.9 925.8 L925.6 925.7 L927.3 925.6 L929 925.5 L930.7 925.3 L932.3 925.1 L934 924.9 L935.7 924.6 L937.4 924.3 L939.1 923.9 L940.8 923.4 L942.4 922.9 L944.1 922.2 L945.8 921.5 L947.5 920.7 L949.2 919.8 L950.8 918.9 L952.5 917.8 L954.2 916.7 L955.9 915.5 L957.6 914.3 L959.3 913 L960.9 911.7 L962.6 910.4 L964.3 909.1 L966 907.9 L967.7 906.8 L969.3 905.8 L971 904.9 L972.7 904.2 L974.4 903.6 L976.1 903.2 L977.8 903 L979.4 903 L981.1 903.2 L982.8 903.6 L984.5 904.2 L986.2 904.9 L987.9 905.8 L989.5 906.8 L991.2 907.9 L992.9 909.1 L994.6 910.4 L996.3 911.7 L997.9 913 L999.6 914.3 L1001.3 915.5 L1003 916.7 L1004.7 917.8 L1006.4 918.9 L1008 919.8 L1009.7 920.7 L1011.4 921.5 L1013.1 922.2 L1014.8 922.9 L1016.4 923.4 L1018.1 923.9 L1019.8 924.3 L1021.5 924.6 L1023.2 924.9 L1024.9 925.1 L1026.5 925.3 L1028.2 925.5 L1029.9 925.6 L1031.6 925.7 L1033.3 925.8 L1034.9 925.8 L1036.6 925.9 L1036.6 926 L1034.9 926 L1033.3 926 L1031.6 926 L1029.9 926 L1028.2 926 L1026.5 926 L1024.9 926 L1023.2 926 L1021.5 926 L1019.8 926 L1018.1 926 L1016.4 926 L1014.8 926 L1013.1 926 L1011.4 926 L1009.7 926 L1008 926 L1006.4 926 L1004.7 926 L1003 926 L1001.3 926 L999.6 926 L997.9 926 L996.3 926 L994.6 926 L992.9 926 L991.2 926 L989.5 926 L987.9 926 L986.2 926 L984.5 926 L982.8 926 L981.1 926 L979.4 926 L977.8 926 L976.1 926 L974.4 926 L972.7 926 L971 926 L969.3 926 L967.7 926 L966 926 L964.3 926 L962.6 926 L960.9 926 L959.3 926 L957.6 926 L955.9 926 L954.2 926 L952.5 926 L950.8 926 L949.2 926 L947.5 926 L945.8 926 L944.1 926 L942.4 926 L940.8 926 L939.1 926 L937.4 926 L935.7 926 L934 926 L932.3 926 L930.7 926 L929 926 L927.3 926 L925.6 926 L923.9 926 L922.3 926 L920.6 926 Z" fill="#a6d9da" fill-opacity="0.95" stroke="none"/>
<path d="M833.9 925.9 L835.2 925.9 L836.4 925.8 L837.7 925.7 L838.9 925.7 L840.2 925.6 L841.4 925.4 L842.7 925.3 L843.9 925.1 L845.2 924.9 L846.4 924.6 L847.7 924.3 L848.9 923.9 L850.2 923.5 L851.4 922.9 L852.7 922.4 L853.9 921.7 L855.2 921 L856.4 920.2 L857.7 919.4 L858.9 918.5 L860.2 917.5 L861.4 916.5 L862.6 915.5 L863.9 914.4 L865.1 913.4 L866.4 912.4 L867.6 911.4 L868.9 910.5 L870.1 909.7 L871.4 909 L872.6 908.4 L873.9 907.9 L875.1 907.6 L876.4 907.4 L877.6 907.4 L878.9 907.6 L880.1 907.9 L881.4 908.4 L882.6 909 L883.9 909.7 L885.1 910.5 L886.4 911.4 L887.6 912.4 L888.9 913.4 L890.1 914.4 L891.4 915.5 L892.6 916.5 L893.8 917.5 L895.1 918.5 L896.3 919.4 L897.6 920.2 L898.8 921 L900.1 921.7 L901.3 922.4 L902.6 922.9 L903.8 923.5 L905.1 923.9 L906.3 924.3 L907.6 924.6 L908.8 924.9 L910.1 925.1 L911.3 925.3 L912.6 925.4 L913.8 925.6 L915.1 925.7 L916.3 925.7 L917.6 925.8 L918.8 925.9 L920.1 925.9 L920.1 926 L918.8 926 L917.6 926 L916.3 926 L915.1 926 L913.8 926 L912.6 926 L911.3 926 L910.1 926 L908.8 926 L907.6 926 L906.3 926 L905.1 926 L903.8 926 L902.6 926 L901.3 926 L900.1 926 L898.8 926 L897.6 926 L896.3 926 L895.1 926 L893.8 926 L892.6 926 L891.4 926 L890.1 926 L888.9 926 L887.6 926 L886.4 926 L885.1 926 L883.9 926 L882.6 926 L881.4 926 L880.1 926 L878.9 926 L877.6 926 L876.4 926 L875.1 926 L873.9 926 L872.6 926 L871.4 926 L870.1 926 L868.9 926 L867.6 926 L866.4 926 L865.1 926 L863.9 926 L862.6 926 L861.4 926 L860.2 926 L858.9 926 L857.7 926 L856.4 926 L855.2 926 L853.9 926 L852.7 926 L851.4 926 L850.2 926 L848.9 926 L847.7 926 L846.4 926 L845.2 926 L843.9 926 L842.7 926 L841.4 926 L840.2 926 L838.9 926 L837.7 926 L836.4 926 L835.2 926 L833.9 926 Z" fill="#ea543a" fill-opacity="0.95" stroke="none"/>
<path d="M672.6 926 L674.6 926 L676.5 925.9 L678.5 925.9 L680.4 925.9 L682.4 925.9 L684.3 925.8 L686.3 925.8 L688.2 925.8 L690.2 925.7 L692.1 925.6 L694.1 925.5 L696 925.4 L698 925.3 L700 925.2 L701.9 925 L703.9 924.9 L705.8 924.7 L707.8 924.4 L709.7 924.2 L711.7 924 L713.6 923.7 L715.6 923.4 L717.5 923.2 L719.5 922.9 L721.4 922.6 L723.4 922.3 L725.3 922.1 L727.3 921.8 L729.3 921.6 L731.2 921.4 L733.2 921.3 L735.1 921.1 L737.1 921 L739 921 L741 921 L742.9 921 L744.9 921.1 L746.8 921.3 L748.8 921.4 L750.7 921.6 L752.7 921.8 L754.7 922.1 L756.6 922.3 L758.6 922.6 L760.5 922.9 L762.5 923.2 L764.4 923.4 L766.4 923.7 L768.3 924 L770.3 924.2 L772.2 924.4 L774.2 924.7 L776.1 924.9 L778.1 925 L780 925.2 L782 925.3 L784 925.4 L785.9 925.5 L787.9 925.6 L789.8 925.7 L791.8 925.8 L793.7 925.8 L795.7 925.8 L797.6 925.9 L799.6 925.9 L801.5 925.9 L803.5 925.9 L805.4 926 L807.4 926" fill="none" stroke="#6e7272" stroke-width="3.6" stroke-linejoin="round"/>
<path d="M730.2 925.8 L731.8 925.8 L733.4 925.7 L734.9 925.6 L736.5 925.5 L738.1 925.4 L739.7 925.2 L741.2 924.9 L742.8 924.7 L744.4 924.3 L745.9 923.9 L747.5 923.5 L749.1 922.9 L750.7 922.2 L752.2 921.5 L753.8 920.7 L755.4 919.7 L757 918.7 L758.5 917.5 L760.1 916.3 L761.7 914.9 L763.3 913.5 L764.8 912 L766.4 910.5 L768 908.9 L769.6 907.4 L771.1 905.9 L772.7 904.5 L774.3 903.2 L775.8 901.9 L777.4 900.9 L779 900 L780.6 899.3 L782.1 898.9 L783.7 898.6 L785.3 898.6 L786.9 898.9 L788.4 899.3 L790 900 L791.6 900.9 L793.2 901.9 L794.7 903.2 L796.3 904.5 L797.9 905.9 L799.4 907.4 L801 908.9 L802.6 910.5 L804.2 912 L805.7 913.5 L807.3 914.9 L808.9 916.3 L810.5 917.5 L812 918.7 L813.6 919.7 L815.2 920.7 L816.8 921.5 L818.3 922.2 L819.9 922.9 L821.5 923.5 L823.1 923.9 L824.6 924.3 L826.2 924.7 L827.8 924.9 L829.3 925.2 L830.9 925.4 L832.5 925.5 L834.1 925.6 L835.6 925.7 L837.2 925.8 L838.8 925.8" fill="none" stroke="#6e7272" stroke-width="3.6" stroke-linejoin="round"/>
<path d="M783.7 925.9 L785.4 925.9 L787.2 925.9 L788.9 925.9 L790.6 925.8 L792.4 925.8 L794.1 925.7 L795.9 925.6 L797.6 925.5 L799.3 925.4 L801.1 925.2 L802.8 925.1 L804.5 924.9 L806.3 924.6 L808 924.4 L809.7 924.1 L811.5 923.7 L813.2 923.3 L815 922.9 L816.7 922.4 L818.4 922 L820.2 921.4 L821.9 920.9 L823.6 920.3 L825.4 919.8 L827.1 919.2 L828.8 918.7 L830.6 918.1 L832.3 917.7 L834.1 917.2 L835.8 916.8 L837.5 916.5 L839.3 916.3 L841 916.1 L842.7 916 L844.5 916 L846.2 916.1 L847.9 916.3 L849.7 916.5 L851.4 916.8 L853.1 917.2 L854.9 917.7 L856.6 918.1 L858.4 918.7 L860.1 919.2 L861.8 919.8 L863.6 920.3 L865.3 920.9 L867 921.4 L868.8 922 L870.5 922.4 L872.2 922.9 L874 923.3 L875.7 923.7 L877.5 924.1 L879.2 924.4 L880.9 924.6 L882.7 924.9 L884.4 925.1 L886.1 925.2 L887.9 925.4 L889.6 925.5 L891.3 925.6 L893.1 925.7 L894.8 925.8 L896.6 925.8 L898.3 925.9 L900 925.9 L901.8 925.9 L903.5 925.9" fill="none" stroke="#6e7272" stroke-width="3.6" stroke-linejoin="round"/>
<path d="M868.8 925.5 L870.2 925.4 L871.6 925.1 L873.1 924.9 L874.5 924.5 L875.9 924.1 L877.3 923.6 L878.7 922.9 L880.1 922.1 L881.5 921.1 L882.9 919.9 L884.3 918.5 L885.8 916.9 L887.2 915 L888.6 912.8 L890 910.3 L891.4 907.5 L892.8 904.4 L894.2 901 L895.6 897.3 L897 893.4 L898.5 889.2 L899.9 884.8 L901.3 880.4 L902.7 875.8 L904.1 871.3 L905.5 866.9 L906.9 862.7 L908.3 858.8 L909.7 855.2 L911.2 852.1 L912.6 849.5 L914 847.5 L915.4 846.2 L916.8 845.5 L918.2 845.5 L919.6 846.2 L921 847.5 L922.4 849.5 L923.8 852.1 L925.3 855.2 L926.7 858.8 L928.1 862.7 L929.5 866.9 L930.9 871.3 L932.3 875.8 L933.7 880.4 L935.1 884.8 L936.5 889.2 L938 893.4 L939.4 897.3 L940.8 901 L942.2 904.4 L943.6 907.5 L945 910.3 L946.4 912.8 L947.8 915 L949.2 916.9 L950.7 918.5 L952.1 919.9 L953.5 921.1 L954.9 922.1 L956.3 922.9 L957.7 923.6 L959.1 924.1 L960.5 924.5 L961.9 924.9 L963.4 925.1 L964.8 925.4 L966.2 925.5" fill="none" stroke="#6e7272" stroke-width="3.6" stroke-linejoin="round"/>
<path d="M920.6 925.9 L922.3 925.8 L923.9 925.8 L925.6 925.7 L927.3 925.6 L929 925.5 L930.7 925.3 L932.3 925.1 L934 924.9 L935.7 924.6 L937.4 924.3 L939.1 923.9 L940.8 923.4 L942.4 922.9 L944.1 922.2 L945.8 921.5 L947.5 920.7 L949.2 919.8 L950.8 918.9 L952.5 917.8 L954.2 916.7 L955.9 915.5 L957.6 914.3 L959.3 913 L960.9 911.7 L962.6 910.4 L964.3 909.1 L966 907.9 L967.7 906.8 L969.3 905.8 L971 904.9 L972.7 904.2 L974.4 903.6 L976.1 903.2 L977.8 903 L979.4 903 L981.1 903.2 L982.8 903.6 L984.5 904.2 L986.2 904.9 L987.9 905.8 L989.5 906.8 L991.2 907.9 L992.9 909.1 L994.6 910.4 L996.3 911.7 L997.9 913 L999.6 914.3 L1001.3 915.5 L1003 916.7 L1004.7 917.8 L1006.4 918.9 L1008 919.8 L1009.7 920.7 L1011.4 921.5 L1013.1 922.2 L1014.8 922.9 L1016.4 923.4 L1018.1 923.9 L1019.8 924.3 L1021.5 924.6 L1023.2 924.9 L1024.9 925.1 L1026.5 925.3 L1028.2 925.5 L1029.9 925.6 L1031.6 925.7 L1033.3 925.8 L1034.9 925.8 L1036.6 925.9" fill="none" stroke="#6e7272" stroke-width="3.6" stroke-linejoin="round"/>
<path d="M833.9 925.9 L835.2 925.9 L836.4 925.8 L837.7 925.7 L838.9 925.7 L840.2 925.6 L841.4 925.4 L842.7 925.3 L843.9 925.1 L845.2 924.9 L846.4 924.6 L847.7 924.3 L848.9 923.9 L850.2 923.5 L851.4 922.9 L852.7 922.4 L853.9 921.7 L855.2 921 L856.4 920.2 L857.7 919.4 L858.9 918.5 L860.2 917.5 L861.4 916.5 L862.6 915.5 L863.9 914.4 L865.1 913.4 L866.4 912.4 L867.6 911.4 L868.9 910.5 L870.1 909.7 L871.4 909 L872.6 908.4 L873.9 907.9 L875.1 907.6 L876.4 907.4 L877.6 907.4 L878.9 907.6 L880.1 907.9 L881.4 908.4 L882.6 909 L883.9 909.7 L885.1 910.5 L886.4 911.4 L887.6 912.4 L888.9 913.4 L890.1 914.4 L891.4 915.5 L892.6 916.5 L893.8 917.5 L895.1 918.5 L896.3 919.4 L897.6 920.2 L898.8 921 L900.1 921.7 L901.3 922.4 L902.6 922.9 L903.8 923.5 L905.1 923.9 L906.3 924.3 L907.6 924.6 L908.8 924.9 L910.1 925.1 L911.3 925.3 L912.6 925.4 L913.8 925.6 L915.1 925.7 L916.3 925.7 L917.6 925.8 L918.8 925.9 L920.1 925.9" fill="none" stroke="#6e7272" stroke-width="3.6" stroke-linejoin="round"/>
<line x1="611" y1="926" x2="1068" y2="926" stroke="#6e7272" stroke-width="5.6"/>
<path d="M611 898.6 C620.2 899.3 649.8 903 666.4 903 C683 903 695.9 901.2 710.7 898.6 C725.5 896 742.8 891.6 755 887.5 C767.2 883.4 774.9 873.8 783.8 874.2 C792.7 874.6 800.5 886 808.2 889.7 C816 893.4 823.7 896.4 830.3 896.4 C836.9 896.4 839.9 892.7 848 889.7 C856.1 886.7 870.1 886 879 878.6 C887.9 871.2 894.9 853.5 901.2 845.4 C907.5 837.3 911.5 830 916.7 830 C921.9 830 926.7 835.8 932.2 845.4 C937.7 855 942.5 879.4 949.9 887.5 C957.3 895.6 968.3 891.5 976.4 894.1 C984.5 896.7 991.2 899.3 998.6 903 C1006 906.7 1008.9 913 1020.7 916.3 C1032.5 919.6 1061.3 921.9 1069.4 923" fill="none" stroke="#000" stroke-width="7.0" stroke-linejoin="round" stroke-linecap="round"/>
<rect x="610.5" y="897.9" width="7" height="3.2" fill="#000"/>
<rect x="622" y="899.7" width="7" height="3.2" fill="#000"/>
<rect x="630.1" y="901.1" width="7" height="3.2" fill="#000"/>
<rect x="640" y="900.2" width="7" height="3.2" fill="#000"/>
<rect x="652.2" y="901.4" width="7" height="3.2" fill="#000"/>
<rect x="659.8" y="900" width="7" height="3.2" fill="#000"/>
<rect x="666" y="900.6" width="7" height="3.2" fill="#000"/>
<rect x="672.5" y="899.7" width="7" height="3.2" fill="#000"/>
<rect x="681.5" y="902.3" width="7" height="3.2" fill="#000"/>
<rect x="693.8" y="900.2" width="7" height="3.2" fill="#000"/>
<rect x="705.8" y="897.2" width="7" height="3.2" fill="#000"/>
<rect x="715.4" y="893.8" width="7" height="3.2" fill="#000"/>
<rect x="726.7" y="894.1" width="7" height="3.2" fill="#000"/>
<rect x="737.2" y="888.8" width="7" height="3.2" fill="#000"/>
<rect x="748.8" y="885" width="7" height="3.2" fill="#000"/>
<rect x="760.9" y="880" width="7" height="3.2" fill="#000"/>
<rect x="771.7" y="874.9" width="7" height="3.2" fill="#000"/>
<rect x="780.5" y="871.7" width="7" height="3.2" fill="#000"/>
<rect x="789.1" y="876" width="7" height="3.2" fill="#000"/>
<rect x="796.1" y="882" width="7" height="3.2" fill="#000"/>
<rect x="807" y="890" width="7" height="3.2" fill="#000"/>
<rect x="814.5" y="893.7" width="7" height="3.2" fill="#000"/>
<rect x="820.7" y="894.8" width="7" height="3.2" fill="#000"/>
<rect x="828.2" y="895.6" width="7" height="3.2" fill="#000"/>
<rect x="837.2" y="891" width="7" height="3.2" fill="#000"/>
<rect x="843.5" y="888.1" width="7" height="3.2" fill="#000"/>
<rect x="849.9" y="887.7" width="7" height="3.2" fill="#000"/>
<rect x="862.3" y="882.5" width="7" height="3.2" fill="#000"/>
<rect x="873.1" y="877.8" width="7" height="3.2" fill="#000"/>
<rect x="881.4" y="870" width="7" height="3.2" fill="#000"/>
<rect x="891.2" y="854" width="7" height="3.2" fill="#000"/>
<rect x="903.6" y="834.3" width="7" height="3.2" fill="#000"/>
<rect x="913" y="829.8" width="7" height="3.2" fill="#000"/>
<rect x="920.5" y="831.4" width="7" height="3.2" fill="#000"/>
<rect x="926.9" y="839.5" width="7" height="3.2" fill="#000"/>
<rect x="936.1" y="862.4" width="7" height="3.2" fill="#000"/>
<rect x="942" y="877.3" width="7" height="3.2" fill="#000"/>
<rect x="949.3" y="886.8" width="7" height="3.2" fill="#000"/>
<rect x="958.7" y="891.5" width="7" height="3.2" fill="#000"/>
<rect x="971.2" y="891.1" width="7" height="3.2" fill="#000"/>
<rect x="982.9" y="897.7" width="7" height="3.2" fill="#000"/>
<rect x="989.3" y="897" width="7" height="3.2" fill="#000"/>
<rect x="1000" y="903.7" width="7" height="3.2" fill="#000"/>
<rect x="1006.3" y="908.4" width="7" height="3.2" fill="#000"/>
<rect x="1017.3" y="914.6" width="7" height="3.2" fill="#000"/>
<rect x="1027.4" y="918.3" width="7" height="3.2" fill="#000"/>
<rect x="1034.1" y="919.5" width="7" height="3.2" fill="#000"/>
<rect x="1039.9" y="917" width="7" height="3.2" fill="#000"/>
<rect x="1049.9" y="918.6" width="7" height="3.2" fill="#000"/>
<rect x="1061.3" y="922.2" width="7" height="3.2" fill="#000"/>
<path d="M736.3 1050.4 L737.5 1050.4 L738.7 1050.3 L739.9 1050.3 L741.1 1050.2 L742.3 1050.1 L743.5 1050 L744.7 1049.9 L745.9 1049.7 L747.1 1049.6 L748.3 1049.3 L749.4 1049.1 L750.6 1048.7 L751.8 1048.4 L753 1048 L754.2 1047.5 L755.4 1046.9 L756.6 1046.3 L757.8 1045.7 L759 1045 L760.2 1044.2 L761.4 1043.4 L762.6 1042.6 L763.8 1041.7 L765 1040.9 L766.2 1040 L767.4 1039.1 L768.5 1038.3 L769.7 1037.6 L770.9 1036.9 L772.1 1036.3 L773.3 1035.8 L774.5 1035.4 L775.7 1035.1 L776.9 1035 L778.1 1035 L779.3 1035.1 L780.5 1035.4 L781.7 1035.8 L782.9 1036.3 L784.1 1036.9 L785.3 1037.6 L786.5 1038.3 L787.6 1039.1 L788.8 1040 L790 1040.9 L791.2 1041.7 L792.4 1042.6 L793.6 1043.4 L794.8 1044.2 L796 1045 L797.2 1045.7 L798.4 1046.3 L799.6 1046.9 L800.8 1047.5 L802 1048 L803.2 1048.4 L804.4 1048.7 L805.6 1049.1 L806.7 1049.3 L807.9 1049.6 L809.1 1049.7 L810.3 1049.9 L811.5 1050 L812.7 1050.1 L813.9 1050.2 L815.1 1050.3 L816.3 1050.3 L817.5 1050.4 L818.7 1050.4 L818.7 1050.5 L817.5 1050.5 L816.3 1050.5 L815.1 1050.5 L813.9 1050.5 L812.7 1050.5 L811.5 1050.5 L810.3 1050.5 L809.1 1050.5 L807.9 1050.5 L806.7 1050.5 L805.6 1050.5 L804.4 1050.5 L803.2 1050.5 L802 1050.5 L800.8 1050.5 L799.6 1050.5 L798.4 1050.5 L797.2 1050.5 L796 1050.5 L794.8 1050.5 L793.6 1050.5 L792.4 1050.5 L791.2 1050.5 L790 1050.5 L788.8 1050.5 L787.6 1050.5 L786.5 1050.5 L785.3 1050.5 L784.1 1050.5 L782.9 1050.5 L781.7 1050.5 L780.5 1050.5 L779.3 1050.5 L778.1 1050.5 L776.9 1050.5 L775.7 1050.5 L774.5 1050.5 L773.3 1050.5 L772.1 1050.5 L770.9 1050.5 L769.7 1050.5 L768.5 1050.5 L767.4 1050.5 L766.2 1050.5 L765 1050.5 L763.8 1050.5 L762.6 1050.5 L761.4 1050.5 L760.2 1050.5 L759 1050.5 L757.8 1050.5 L756.6 1050.5 L755.4 1050.5 L754.2 1050.5 L753 1050.5 L751.8 1050.5 L750.6 1050.5 L749.4 1050.5 L748.3 1050.5 L747.1 1050.5 L745.9 1050.5 L744.7 1050.5 L743.5 1050.5 L742.3 1050.5 L741.1 1050.5 L739.9 1050.5 L738.7 1050.5 L737.5 1050.5 L736.3 1050.5 Z" fill="#66c1c2" fill-opacity="0.95" stroke="none"/>
<path d="M737.7 1050.5 L739.9 1050.5 L742.1 1050.4 L744.2 1050.4 L746.4 1050.4 L748.6 1050.4 L750.7 1050.3 L752.9 1050.3 L755.1 1050.3 L757.3 1050.2 L759.4 1050.1 L761.6 1050 L763.8 1049.9 L765.9 1049.8 L768.1 1049.7 L770.3 1049.5 L772.4 1049.4 L774.6 1049.2 L776.8 1048.9 L779 1048.7 L781.1 1048.5 L783.3 1048.2 L785.5 1047.9 L787.6 1047.7 L789.8 1047.4 L792 1047.1 L794.2 1046.8 L796.3 1046.6 L798.5 1046.3 L800.7 1046.1 L802.8 1045.9 L805 1045.8 L807.2 1045.6 L809.3 1045.5 L811.5 1045.5 L813.7 1045.5 L815.9 1045.5 L818 1045.6 L820.2 1045.8 L822.4 1045.9 L824.5 1046.1 L826.7 1046.3 L828.9 1046.6 L831 1046.8 L833.2 1047.1 L835.4 1047.4 L837.6 1047.7 L839.7 1047.9 L841.9 1048.2 L844.1 1048.5 L846.2 1048.7 L848.4 1048.9 L850.6 1049.2 L852.8 1049.4 L854.9 1049.5 L857.1 1049.7 L859.3 1049.8 L861.4 1049.9 L863.6 1050 L865.8 1050.1 L867.9 1050.2 L870.1 1050.3 L872.3 1050.3 L874.5 1050.3 L876.6 1050.4 L878.8 1050.4 L881 1050.4 L883.1 1050.4 L885.3 1050.5 L887.5 1050.5 L887.5 1050.5 L885.3 1050.5 L883.1 1050.5 L881 1050.5 L878.8 1050.5 L876.6 1050.5 L874.5 1050.5 L872.3 1050.5 L870.1 1050.5 L867.9 1050.5 L865.8 1050.5 L863.6 1050.5 L861.4 1050.5 L859.3 1050.5 L857.1 1050.5 L854.9 1050.5 L852.8 1050.5 L850.6 1050.5 L848.4 1050.5 L846.2 1050.5 L844.1 1050.5 L841.9 1050.5 L839.7 1050.5 L837.6 1050.5 L835.4 1050.5 L833.2 1050.5 L831 1050.5 L828.9 1050.5 L826.7 1050.5 L824.5 1050.5 L822.4 1050.5 L820.2 1050.5 L818 1050.5 L815.9 1050.5 L813.7 1050.5 L811.5 1050.5 L809.3 1050.5 L807.2 1050.5 L805 1050.5 L802.8 1050.5 L800.7 1050.5 L798.5 1050.5 L796.3 1050.5 L794.2 1050.5 L792 1050.5 L789.8 1050.5 L787.6 1050.5 L785.5 1050.5 L783.3 1050.5 L781.1 1050.5 L779 1050.5 L776.8 1050.5 L774.6 1050.5 L772.4 1050.5 L770.3 1050.5 L768.1 1050.5 L765.9 1050.5 L763.8 1050.5 L761.6 1050.5 L759.4 1050.5 L757.3 1050.5 L755.1 1050.5 L752.9 1050.5 L750.7 1050.5 L748.6 1050.5 L746.4 1050.5 L744.2 1050.5 L742.1 1050.5 L739.9 1050.5 L737.7 1050.5 Z" fill="#a6d9da" fill-opacity="0.95" stroke="none"/>
<path d="M876.3 1050.2 L877.3 1050.1 L878.3 1050 L879.2 1049.9 L880.2 1049.7 L881.2 1049.4 L882.2 1049.1 L883.1 1048.8 L884.1 1048.3 L885.1 1047.8 L886.1 1047.1 L887 1046.3 L888 1045.4 L889 1044.3 L890 1043.1 L891 1041.7 L891.9 1040.2 L892.9 1038.4 L893.9 1036.5 L894.9 1034.5 L895.8 1032.3 L896.8 1030 L897.8 1027.5 L898.8 1025 L899.7 1022.5 L900.7 1020 L901.7 1017.5 L902.7 1015.2 L903.7 1013 L904.6 1011 L905.6 1009.3 L906.6 1007.8 L907.6 1006.7 L908.5 1005.9 L909.5 1005.5 L910.5 1005.5 L911.5 1005.9 L912.4 1006.7 L913.4 1007.8 L914.4 1009.3 L915.4 1011 L916.3 1013 L917.3 1015.2 L918.3 1017.5 L919.3 1020 L920.3 1022.5 L921.2 1025 L922.2 1027.5 L923.2 1030 L924.2 1032.3 L925.1 1034.5 L926.1 1036.5 L927.1 1038.4 L928.1 1040.2 L929 1041.7 L930 1043.1 L931 1044.3 L932 1045.4 L933 1046.3 L933.9 1047.1 L934.9 1047.8 L935.9 1048.3 L936.9 1048.8 L937.8 1049.1 L938.8 1049.4 L939.8 1049.7 L940.8 1049.9 L941.7 1050 L942.7 1050.1 L943.7 1050.2 L943.7 1050.5 L942.7 1050.5 L941.7 1050.5 L940.8 1050.5 L939.8 1050.5 L938.8 1050.5 L937.8 1050.5 L936.9 1050.5 L935.9 1050.5 L934.9 1050.5 L933.9 1050.5 L933 1050.5 L932 1050.5 L931 1050.5 L930 1050.5 L929 1050.5 L928.1 1050.5 L927.1 1050.5 L926.1 1050.5 L925.1 1050.5 L924.2 1050.5 L923.2 1050.5 L922.2 1050.5 L921.2 1050.5 L920.3 1050.5 L919.3 1050.5 L918.3 1050.5 L917.3 1050.5 L916.3 1050.5 L915.4 1050.5 L914.4 1050.5 L913.4 1050.5 L912.4 1050.5 L911.5 1050.5 L910.5 1050.5 L909.5 1050.5 L908.5 1050.5 L907.6 1050.5 L906.6 1050.5 L905.6 1050.5 L904.6 1050.5 L903.7 1050.5 L902.7 1050.5 L901.7 1050.5 L900.7 1050.5 L899.7 1050.5 L898.8 1050.5 L897.8 1050.5 L896.8 1050.5 L895.8 1050.5 L894.9 1050.5 L893.9 1050.5 L892.9 1050.5 L891.9 1050.5 L891 1050.5 L890 1050.5 L889 1050.5 L888 1050.5 L887 1050.5 L886.1 1050.5 L885.1 1050.5 L884.1 1050.5 L883.1 1050.5 L882.2 1050.5 L881.2 1050.5 L880.2 1050.5 L879.2 1050.5 L878.3 1050.5 L877.3 1050.5 L876.3 1050.5 Z" fill="#66c1c2" fill-opacity="0.95" stroke="none"/>
<path d="M889.5 1050.4 L891.4 1050.3 L893.3 1050.3 L895.2 1050.2 L897.1 1050.1 L899 1050 L900.9 1049.8 L902.8 1049.6 L904.7 1049.4 L906.6 1049.1 L908.5 1048.8 L910.4 1048.4 L912.3 1047.9 L914.2 1047.4 L916.1 1046.7 L918 1046 L919.9 1045.2 L921.8 1044.3 L923.7 1043.4 L925.6 1042.3 L927.5 1041.2 L929.4 1040 L931.3 1038.8 L933.2 1037.5 L935.1 1036.2 L937 1034.9 L938.9 1033.6 L940.8 1032.4 L942.7 1031.3 L944.6 1030.3 L946.5 1029.4 L948.4 1028.7 L950.3 1028.1 L952.2 1027.7 L954.1 1027.5 L955.9 1027.5 L957.8 1027.7 L959.7 1028.1 L961.6 1028.7 L963.5 1029.4 L965.4 1030.3 L967.3 1031.3 L969.2 1032.4 L971.1 1033.6 L973 1034.9 L974.9 1036.2 L976.8 1037.5 L978.7 1038.8 L980.6 1040 L982.5 1041.2 L984.4 1042.3 L986.3 1043.4 L988.2 1044.3 L990.1 1045.2 L992 1046 L993.9 1046.7 L995.8 1047.4 L997.7 1047.9 L999.6 1048.4 L1001.5 1048.8 L1003.4 1049.1 L1005.3 1049.4 L1007.2 1049.6 L1009.1 1049.8 L1011 1050 L1012.9 1050.1 L1014.8 1050.2 L1016.7 1050.3 L1018.6 1050.3 L1020.5 1050.4 L1020.5 1050.5 L1018.6 1050.5 L1016.7 1050.5 L1014.8 1050.5 L1012.9 1050.5 L1011 1050.5 L1009.1 1050.5 L1007.2 1050.5 L1005.3 1050.5 L1003.4 1050.5 L1001.5 1050.5 L999.6 1050.5 L997.7 1050.5 L995.8 1050.5 L993.9 1050.5 L992 1050.5 L990.1 1050.5 L988.2 1050.5 L986.3 1050.5 L984.4 1050.5 L982.5 1050.5 L980.6 1050.5 L978.7 1050.5 L976.8 1050.5 L974.9 1050.5 L973 1050.5 L971.1 1050.5 L969.2 1050.5 L967.3 1050.5 L965.4 1050.5 L963.5 1050.5 L961.6 1050.5 L959.7 1050.5 L957.8 1050.5 L955.9 1050.5 L954.1 1050.5 L952.2 1050.5 L950.3 1050.5 L948.4 1050.5 L946.5 1050.5 L944.6 1050.5 L942.7 1050.5 L940.8 1050.5 L938.9 1050.5 L937 1050.5 L935.1 1050.5 L933.2 1050.5 L931.3 1050.5 L929.4 1050.5 L927.5 1050.5 L925.6 1050.5 L923.7 1050.5 L921.8 1050.5 L919.9 1050.5 L918 1050.5 L916.1 1050.5 L914.2 1050.5 L912.3 1050.5 L910.4 1050.5 L908.5 1050.5 L906.6 1050.5 L904.7 1050.5 L902.8 1050.5 L900.9 1050.5 L899 1050.5 L897.1 1050.5 L895.2 1050.5 L893.3 1050.5 L891.4 1050.5 L889.5 1050.5 Z" fill="#a6d9da" fill-opacity="0.95" stroke="none"/>
<path d="M673.3 1050.3 L675.1 1050.3 L676.9 1050.2 L678.7 1050.1 L680.5 1050 L682.3 1049.9 L684.1 1049.7 L685.9 1049.5 L687.6 1049.3 L689.4 1049 L691.2 1048.6 L693 1048.1 L694.8 1047.6 L696.6 1047 L698.4 1046.4 L700.2 1045.6 L702 1044.7 L703.8 1043.7 L705.6 1042.7 L707.3 1041.5 L709.1 1040.3 L710.9 1038.9 L712.7 1037.6 L714.5 1036.2 L716.3 1034.8 L718.1 1033.3 L719.9 1032 L721.7 1030.6 L723.5 1029.4 L725.3 1028.3 L727 1027.3 L728.8 1026.5 L730.6 1025.9 L732.4 1025.4 L734.2 1025.2 L736 1025.2 L737.8 1025.4 L739.6 1025.9 L741.4 1026.5 L743.2 1027.3 L744.9 1028.3 L746.7 1029.4 L748.5 1030.6 L750.3 1032 L752.1 1033.3 L753.9 1034.8 L755.7 1036.2 L757.5 1037.6 L759.3 1038.9 L761.1 1040.3 L762.9 1041.5 L764.6 1042.7 L766.4 1043.7 L768.2 1044.7 L770 1045.6 L771.8 1046.4 L773.6 1047 L775.4 1047.6 L777.2 1048.1 L779 1048.6 L780.8 1049 L782.6 1049.3 L784.3 1049.5 L786.1 1049.7 L787.9 1049.9 L789.7 1050 L791.5 1050.1 L793.3 1050.2 L795.1 1050.3 L796.9 1050.3 L796.9 1050.5 L795.1 1050.5 L793.3 1050.5 L791.5 1050.5 L789.7 1050.5 L787.9 1050.5 L786.1 1050.5 L784.3 1050.5 L782.6 1050.5 L780.8 1050.5 L779 1050.5 L777.2 1050.5 L775.4 1050.5 L773.6 1050.5 L771.8 1050.5 L770 1050.5 L768.2 1050.5 L766.4 1050.5 L764.6 1050.5 L762.9 1050.5 L761.1 1050.5 L759.3 1050.5 L757.5 1050.5 L755.7 1050.5 L753.9 1050.5 L752.1 1050.5 L750.3 1050.5 L748.5 1050.5 L746.7 1050.5 L744.9 1050.5 L743.2 1050.5 L741.4 1050.5 L739.6 1050.5 L737.8 1050.5 L736 1050.5 L734.2 1050.5 L732.4 1050.5 L730.6 1050.5 L728.8 1050.5 L727 1050.5 L725.3 1050.5 L723.5 1050.5 L721.7 1050.5 L719.9 1050.5 L718.1 1050.5 L716.3 1050.5 L714.5 1050.5 L712.7 1050.5 L710.9 1050.5 L709.1 1050.5 L707.3 1050.5 L705.6 1050.5 L703.8 1050.5 L702 1050.5 L700.2 1050.5 L698.4 1050.5 L696.6 1050.5 L694.8 1050.5 L693 1050.5 L691.2 1050.5 L689.4 1050.5 L687.6 1050.5 L685.9 1050.5 L684.1 1050.5 L682.3 1050.5 L680.5 1050.5 L678.7 1050.5 L676.9 1050.5 L675.1 1050.5 L673.3 1050.5 Z" fill="#ea543a" fill-opacity="0.95" stroke="none"/>
<path d="M815.6 1050 L817.1 1049.9 L818.6 1049.7 L820.1 1049.4 L821.7 1049.1 L823.2 1048.7 L824.7 1048.2 L826.2 1047.6 L827.7 1046.8 L829.3 1045.9 L830.8 1044.8 L832.3 1043.4 L833.8 1041.9 L835.3 1040.1 L836.9 1038 L838.4 1035.7 L839.9 1033.1 L841.4 1030.1 L842.9 1026.9 L844.5 1023.5 L846 1019.7 L847.5 1015.8 L849 1011.7 L850.5 1007.5 L852 1003.2 L853.6 999 L855.1 994.8 L856.6 990.8 L858.1 987.1 L859.6 983.8 L861.2 980.8 L862.7 978.4 L864.2 976.5 L865.7 975.2 L867.2 974.6 L868.8 974.6 L870.3 975.2 L871.8 976.5 L873.3 978.4 L874.8 980.8 L876.4 983.8 L877.9 987.1 L879.4 990.8 L880.9 994.8 L882.4 999 L884 1003.2 L885.5 1007.5 L887 1011.7 L888.5 1015.8 L890 1019.7 L891.5 1023.5 L893.1 1026.9 L894.6 1030.1 L896.1 1033.1 L897.6 1035.7 L899.1 1038 L900.7 1040.1 L902.2 1041.9 L903.7 1043.4 L905.2 1044.8 L906.7 1045.9 L908.3 1046.8 L909.8 1047.6 L911.3 1048.2 L912.8 1048.7 L914.3 1049.1 L915.9 1049.4 L917.4 1049.7 L918.9 1049.9 L920.4 1050 L920.4 1050.5 L918.9 1050.5 L917.4 1050.5 L915.9 1050.5 L914.3 1050.5 L912.8 1050.5 L911.3 1050.5 L909.8 1050.5 L908.3 1050.5 L906.7 1050.5 L905.2 1050.5 L903.7 1050.5 L902.2 1050.5 L900.7 1050.5 L899.1 1050.5 L897.6 1050.5 L896.1 1050.5 L894.6 1050.5 L893.1 1050.5 L891.5 1050.5 L890 1050.5 L888.5 1050.5 L887 1050.5 L885.5 1050.5 L884 1050.5 L882.4 1050.5 L880.9 1050.5 L879.4 1050.5 L877.9 1050.5 L876.4 1050.5 L874.8 1050.5 L873.3 1050.5 L871.8 1050.5 L870.3 1050.5 L868.8 1050.5 L867.2 1050.5 L865.7 1050.5 L864.2 1050.5 L862.7 1050.5 L861.2 1050.5 L859.6 1050.5 L858.1 1050.5 L856.6 1050.5 L855.1 1050.5 L853.6 1050.5 L852 1050.5 L850.5 1050.5 L849 1050.5 L847.5 1050.5 L846 1050.5 L844.5 1050.5 L842.9 1050.5 L841.4 1050.5 L839.9 1050.5 L838.4 1050.5 L836.9 1050.5 L835.3 1050.5 L833.8 1050.5 L832.3 1050.5 L830.8 1050.5 L829.3 1050.5 L827.7 1050.5 L826.2 1050.5 L824.7 1050.5 L823.2 1050.5 L821.7 1050.5 L820.1 1050.5 L818.6 1050.5 L817.1 1050.5 L815.6 1050.5 Z" fill="#ea543a" fill-opacity="0.95" stroke="none"/>
<path d="M736.3 1050.4 L737.5 1050.4 L738.7 1050.3 L739.9 1050.3 L741.1 1050.2 L742.3 1050.1 L743.5 1050 L744.7 1049.9 L745.9 1049.7 L747.1 1049.6 L748.3 1049.3 L749.4 1049.1 L750.6 1048.7 L751.8 1048.4 L753 1048 L754.2 1047.5 L755.4 1046.9 L756.6 1046.3 L757.8 1045.7 L759 1045 L760.2 1044.2 L761.4 1043.4 L762.6 1042.6 L763.8 1041.7 L765 1040.9 L766.2 1040 L767.4 1039.1 L768.5 1038.3 L769.7 1037.6 L770.9 1036.9 L772.1 1036.3 L773.3 1035.8 L774.5 1035.4 L775.7 1035.1 L776.9 1035 L778.1 1035 L779.3 1035.1 L780.5 1035.4 L781.7 1035.8 L782.9 1036.3 L784.1 1036.9 L785.3 1037.6 L786.5 1038.3 L787.6 1039.1 L788.8 1040 L790 1040.9 L791.2 1041.7 L792.4 1042.6 L793.6 1043.4 L794.8 1044.2 L796 1045 L797.2 1045.7 L798.4 1046.3 L799.6 1046.9 L800.8 1047.5 L802 1048 L803.2 1048.4 L804.4 1048.7 L805.6 1049.1 L806.7 1049.3 L807.9 1049.6 L809.1 1049.7 L810.3 1049.9 L811.5 1050 L812.7 1050.1 L813.9 1050.2 L815.1 1050.3 L816.3 1050.3 L817.5 1050.4 L818.7 1050.4" fill="none" stroke="#6e7272" stroke-width="3.6" stroke-linejoin="round"/>
<path d="M737.7 1050.5 L739.9 1050.5 L742.1 1050.4 L744.2 1050.4 L746.4 1050.4 L748.6 1050.4 L750.7 1050.3 L752.9 1050.3 L755.1 1050.3 L757.3 1050.2 L759.4 1050.1 L761.6 1050 L763.8 1049.9 L765.9 1049.8 L768.1 1049.7 L770.3 1049.5 L772.4 1049.4 L774.6 1049.2 L776.8 1048.9 L779 1048.7 L781.1 1048.5 L783.3 1048.2 L785.5 1047.9 L787.6 1047.7 L789.8 1047.4 L792 1047.1 L794.2 1046.8 L796.3 1046.6 L798.5 1046.3 L800.7 1046.1 L802.8 1045.9 L805 1045.8 L807.2 1045.6 L809.3 1045.5 L811.5 1045.5 L813.7 1045.5 L815.9 1045.5 L818 1045.6 L820.2 1045.8 L822.4 1045.9 L824.5 1046.1 L826.7 1046.3 L828.9 1046.6 L831 1046.8 L833.2 1047.1 L835.4 1047.4 L837.6 1047.7 L839.7 1047.9 L841.9 1048.2 L844.1 1048.5 L846.2 1048.7 L848.4 1048.9 L850.6 1049.2 L852.8 1049.4 L854.9 1049.5 L857.1 1049.7 L859.3 1049.8 L861.4 1049.9 L863.6 1050 L865.8 1050.1 L867.9 1050.2 L870.1 1050.3 L872.3 1050.3 L874.5 1050.3 L876.6 1050.4 L878.8 1050.4 L881 1050.4 L883.1 1050.4 L885.3 1050.5 L887.5 1050.5" fill="none" stroke="#6e7272" stroke-width="3.6" stroke-linejoin="round"/>
<path d="M876.3 1050.2 L877.3 1050.1 L878.3 1050 L879.2 1049.9 L880.2 1049.7 L881.2 1049.4 L882.2 1049.1 L883.1 1048.8 L884.1 1048.3 L885.1 1047.8 L886.1 1047.1 L887 1046.3 L888 1045.4 L889 1044.3 L890 1043.1 L891 1041.7 L891.9 1040.2 L892.9 1038.4 L893.9 1036.5 L894.9 1034.5 L895.8 1032.3 L896.8 1030 L897.8 1027.5 L898.8 1025 L899.7 1022.5 L900.7 1020 L901.7 1017.5 L902.7 1015.2 L903.7 1013 L904.6 1011 L905.6 1009.3 L906.6 1007.8 L907.6 1006.7 L908.5 1005.9 L909.5 1005.5 L910.5 1005.5 L911.5 1005.9 L912.4 1006.7 L913.4 1007.8 L914.4 1009.3 L915.4 1011 L916.3 1013 L917.3 1015.2 L918.3 1017.5 L919.3 1020 L920.3 1022.5 L921.2 1025 L922.2 1027.5 L923.2 1030 L924.2 1032.3 L925.1 1034.5 L926.1 1036.5 L927.1 1038.4 L928.1 1040.2 L929 1041.7 L930 1043.1 L931 1044.3 L932 1045.4 L933 1046.3 L933.9 1047.1 L934.9 1047.8 L935.9 1048.3 L936.9 1048.8 L937.8 1049.1 L938.8 1049.4 L939.8 1049.7 L940.8 1049.9 L941.7 1050 L942.7 1050.1 L943.7 1050.2" fill="none" stroke="#6e7272" stroke-width="3.6" stroke-linejoin="round"/>
<path d="M889.5 1050.4 L891.4 1050.3 L893.3 1050.3 L895.2 1050.2 L897.1 1050.1 L899 1050 L900.9 1049.8 L902.8 1049.6 L904.7 1049.4 L906.6 1049.1 L908.5 1048.8 L910.4 1048.4 L912.3 1047.9 L914.2 1047.4 L916.1 1046.7 L918 1046 L919.9 1045.2 L921.8 1044.3 L923.7 1043.4 L925.6 1042.3 L927.5 1041.2 L929.4 1040 L931.3 1038.8 L933.2 1037.5 L935.1 1036.2 L937 1034.9 L938.9 1033.6 L940.8 1032.4 L942.7 1031.3 L944.6 1030.3 L946.5 1029.4 L948.4 1028.7 L950.3 1028.1 L952.2 1027.7 L954.1 1027.5 L955.9 1027.5 L957.8 1027.7 L959.7 1028.1 L961.6 1028.7 L963.5 1029.4 L965.4 1030.3 L967.3 1031.3 L969.2 1032.4 L971.1 1033.6 L973 1034.9 L974.9 1036.2 L976.8 1037.5 L978.7 1038.8 L980.6 1040 L982.5 1041.2 L984.4 1042.3 L986.3 1043.4 L988.2 1044.3 L990.1 1045.2 L992 1046 L993.9 1046.7 L995.8 1047.4 L997.7 1047.9 L999.6 1048.4 L1001.5 1048.8 L1003.4 1049.1 L1005.3 1049.4 L1007.2 1049.6 L1009.1 1049.8 L1011 1050 L1012.9 1050.1 L1014.8 1050.2 L1016.7 1050.3 L1018.6 1050.3 L1020.5 1050.4" fill="none" stroke="#6e7272" stroke-width="3.6" stroke-linejoin="round"/>
<path d="M673.3 1050.3 L675.1 1050.3 L676.9 1050.2 L678.7 1050.1 L680.5 1050 L682.3 1049.9 L684.1 1049.7 L685.9 1049.5 L687.6 1049.3 L689.4 1049 L691.2 1048.6 L693 1048.1 L694.8 1047.6 L696.6 1047 L698.4 1046.4 L700.2 1045.6 L702 1044.7 L703.8 1043.7 L705.6 1042.7 L707.3 1041.5 L709.1 1040.3 L710.9 1038.9 L712.7 1037.6 L714.5 1036.2 L716.3 1034.8 L718.1 1033.3 L719.9 1032 L721.7 1030.6 L723.5 1029.4 L725.3 1028.3 L727 1027.3 L728.8 1026.5 L730.6 1025.9 L732.4 1025.4 L734.2 1025.2 L736 1025.2 L737.8 1025.4 L739.6 1025.9 L741.4 1026.5 L743.2 1027.3 L744.9 1028.3 L746.7 1029.4 L748.5 1030.6 L750.3 1032 L752.1 1033.3 L753.9 1034.8 L755.7 1036.2 L757.5 1037.6 L759.3 1038.9 L761.1 1040.3 L762.9 1041.5 L764.6 1042.7 L766.4 1043.7 L768.2 1044.7 L770 1045.6 L771.8 1046.4 L773.6 1047 L775.4 1047.6 L777.2 1048.1 L779 1048.6 L780.8 1049 L782.6 1049.3 L784.3 1049.5 L786.1 1049.7 L787.9 1049.9 L789.7 1050 L791.5 1050.1 L793.3 1050.2 L795.1 1050.3 L796.9 1050.3" fill="none" stroke="#6e7272" stroke-width="3.6" stroke-linejoin="round"/>
<path d="M815.6 1050 L817.1 1049.9 L818.6 1049.7 L820.1 1049.4 L821.7 1049.1 L823.2 1048.7 L824.7 1048.2 L826.2 1047.6 L827.7 1046.8 L829.3 1045.9 L830.8 1044.8 L832.3 1043.4 L833.8 1041.9 L835.3 1040.1 L836.9 1038 L838.4 1035.7 L839.9 1033.1 L841.4 1030.1 L842.9 1026.9 L844.5 1023.5 L846 1019.7 L847.5 1015.8 L849 1011.7 L850.5 1007.5 L852 1003.2 L853.6 999 L855.1 994.8 L856.6 990.8 L858.1 987.1 L859.6 983.8 L861.2 980.8 L862.7 978.4 L864.2 976.5 L865.7 975.2 L867.2 974.6 L868.8 974.6 L870.3 975.2 L871.8 976.5 L873.3 978.4 L874.8 980.8 L876.4 983.8 L877.9 987.1 L879.4 990.8 L880.9 994.8 L882.4 999 L884 1003.2 L885.5 1007.5 L887 1011.7 L888.5 1015.8 L890 1019.7 L891.5 1023.5 L893.1 1026.9 L894.6 1030.1 L896.1 1033.1 L897.6 1035.7 L899.1 1038 L900.7 1040.1 L902.2 1041.9 L903.7 1043.4 L905.2 1044.8 L906.7 1045.9 L908.3 1046.8 L909.8 1047.6 L911.3 1048.2 L912.8 1048.7 L914.3 1049.1 L915.9 1049.4 L917.4 1049.7 L918.9 1049.9 L920.4 1050" fill="none" stroke="#6e7272" stroke-width="3.6" stroke-linejoin="round"/>
<line x1="611" y1="1050.5" x2="1068" y2="1050.5" stroke="#6e7272" stroke-width="5.6"/>
<path d="M611 1025.2 C620.2 1025.9 652 1030 666.4 1029.6 C680.8 1029.2 686.3 1027.4 697.4 1023 C708.5 1018.6 723.3 1005.6 732.9 1003 C742.5 1000.4 746.1 1006 755 1007.5 C763.9 1009 774.9 1009.4 786 1012 C797.1 1014.6 812.5 1022.3 821.4 1023 C830.3 1023.7 834 1024.5 839.2 1016.4 C844.4 1008.3 848 983.9 852.4 974.3 C856.8 964.7 860.5 958.8 865.7 958.8 C870.9 958.8 876.8 970.2 883.4 974.3 C890 978.3 899.7 980.1 905.6 983.1 C911.5 986.1 913.7 986.1 918.9 992 C924.1 997.9 929.2 1013.1 936.6 1018.6 C944 1024.1 952.9 1021.5 963.2 1025.2 C973.5 1028.9 980.9 1036.6 998.6 1040.7 C1016.3 1044.8 1057.6 1048.1 1069.4 1049.6" fill="none" stroke="#000" stroke-width="7.0" stroke-linejoin="round" stroke-linecap="round"/>
<rect x="610.5" y="1023.2" width="7" height="3.2" fill="#000"/>
<rect x="620.3" y="1024.7" width="7" height="3.2" fill="#000"/>
<rect x="628.2" y="1027" width="7" height="3.2" fill="#000"/>
<rect x="639.9" y="1025.5" width="7" height="3.2" fill="#000"/>
<rect x="650.9" y="1028.9" width="7" height="3.2" fill="#000"/>
<rect x="659.3" y="1029.8" width="7" height="3.2" fill="#000"/>
<rect x="669.1" y="1026" width="7" height="3.2" fill="#000"/>
<rect x="675.2" y="1028.9" width="7" height="3.2" fill="#000"/>
<rect x="684" y="1024.8" width="7" height="3.2" fill="#000"/>
<rect x="694.9" y="1022.2" width="7" height="3.2" fill="#000"/>
<rect x="702.6" y="1018.2" width="7" height="3.2" fill="#000"/>
<rect x="709.4" y="1012.8" width="7" height="3.2" fill="#000"/>
<rect x="718.3" y="1006.8" width="7" height="3.2" fill="#000"/>
<rect x="730.6" y="1000.2" width="7" height="3.2" fill="#000"/>
<rect x="741.7" y="1004.5" width="7" height="3.2" fill="#000"/>
<rect x="753.5" y="1006" width="7" height="3.2" fill="#000"/>
<rect x="766" y="1006" width="7" height="3.2" fill="#000"/>
<rect x="775.1" y="1009.4" width="7" height="3.2" fill="#000"/>
<rect x="786" y="1013.3" width="7" height="3.2" fill="#000"/>
<rect x="793.8" y="1015.3" width="7" height="3.2" fill="#000"/>
<rect x="803.6" y="1017" width="7" height="3.2" fill="#000"/>
<rect x="811.8" y="1020.4" width="7" height="3.2" fill="#000"/>
<rect x="823.1" y="1021.8" width="7" height="3.2" fill="#000"/>
<rect x="834" y="1016.3" width="7" height="3.2" fill="#000"/>
<rect x="842.5" y="996.4" width="7" height="3.2" fill="#000"/>
<rect x="849.8" y="969.1" width="7" height="3.2" fill="#000"/>
<rect x="860.1" y="959.4" width="7" height="3.2" fill="#000"/>
<rect x="871.9" y="963.3" width="7" height="3.2" fill="#000"/>
<rect x="882.7" y="974.6" width="7" height="3.2" fill="#000"/>
<rect x="893.7" y="979" width="7" height="3.2" fill="#000"/>
<rect x="899.6" y="979.9" width="7" height="3.2" fill="#000"/>
<rect x="906.8" y="983.6" width="7" height="3.2" fill="#000"/>
<rect x="918.8" y="995.8" width="7" height="3.2" fill="#000"/>
<rect x="926.8" y="1008.5" width="7" height="3.2" fill="#000"/>
<rect x="937.7" y="1020.7" width="7" height="3.2" fill="#000"/>
<rect x="949.5" y="1019.8" width="7" height="3.2" fill="#000"/>
<rect x="958.7" y="1023.5" width="7" height="3.2" fill="#000"/>
<rect x="964.6" y="1027.2" width="7" height="3.2" fill="#000"/>
<rect x="970" y="1028.1" width="7" height="3.2" fill="#000"/>
<rect x="980.7" y="1033.7" width="7" height="3.2" fill="#000"/>
<rect x="987.6" y="1037.7" width="7" height="3.2" fill="#000"/>
<rect x="995.4" y="1038.5" width="7" height="3.2" fill="#000"/>
<rect x="1001.1" y="1039" width="7" height="3.2" fill="#000"/>
<rect x="1011.2" y="1042" width="7" height="3.2" fill="#000"/>
<rect x="1022.9" y="1042.2" width="7" height="3.2" fill="#000"/>
<rect x="1033.9" y="1046.3" width="7" height="3.2" fill="#000"/>
<rect x="1045.9" y="1047.6" width="7" height="3.2" fill="#000"/>
<rect x="1056.8" y="1045" width="7" height="3.2" fill="#000"/>
<path d="M885.3 1158.1 L886.3 1158 L887.3 1158 L888.2 1158 L889.2 1158 L890.2 1157.9 L891.2 1157.9 L892.1 1157.8 L893.1 1157.8 L894.1 1157.7 L895.1 1157.6 L896 1157.5 L897 1157.3 L898 1157.2 L899 1157 L900 1156.8 L900.9 1156.6 L901.9 1156.3 L902.9 1156 L903.9 1155.7 L904.8 1155.4 L905.8 1155 L906.8 1154.7 L907.8 1154.3 L908.7 1153.9 L909.7 1153.6 L910.7 1153.2 L911.7 1152.8 L912.7 1152.5 L913.6 1152.2 L914.6 1152 L915.6 1151.7 L916.6 1151.6 L917.5 1151.5 L918.5 1151.4 L919.5 1151.4 L920.5 1151.5 L921.4 1151.6 L922.4 1151.7 L923.4 1152 L924.4 1152.2 L925.3 1152.5 L926.3 1152.8 L927.3 1153.2 L928.3 1153.6 L929.3 1153.9 L930.2 1154.3 L931.2 1154.7 L932.2 1155 L933.2 1155.4 L934.1 1155.7 L935.1 1156 L936.1 1156.3 L937.1 1156.6 L938 1156.8 L939 1157 L940 1157.2 L941 1157.3 L942 1157.5 L942.9 1157.6 L943.9 1157.7 L944.9 1157.8 L945.9 1157.8 L946.8 1157.9 L947.8 1157.9 L948.8 1158 L949.8 1158 L950.7 1158 L951.7 1158 L952.7 1158.1 L952.7 1158.1 L951.7 1158.1 L950.7 1158.1 L949.8 1158.1 L948.8 1158.1 L947.8 1158.1 L946.8 1158.1 L945.9 1158.1 L944.9 1158.1 L943.9 1158.1 L942.9 1158.1 L942 1158.1 L941 1158.1 L940 1158.1 L939 1158.1 L938 1158.1 L937.1 1158.1 L936.1 1158.1 L935.1 1158.1 L934.1 1158.1 L933.2 1158.1 L932.2 1158.1 L931.2 1158.1 L930.2 1158.1 L929.3 1158.1 L928.3 1158.1 L927.3 1158.1 L926.3 1158.1 L925.3 1158.1 L924.4 1158.1 L923.4 1158.1 L922.4 1158.1 L921.4 1158.1 L920.5 1158.1 L919.5 1158.1 L918.5 1158.1 L917.5 1158.1 L916.6 1158.1 L915.6 1158.1 L914.6 1158.1 L913.6 1158.1 L912.7 1158.1 L911.7 1158.1 L910.7 1158.1 L909.7 1158.1 L908.7 1158.1 L907.8 1158.1 L906.8 1158.1 L905.8 1158.1 L904.8 1158.1 L903.9 1158.1 L902.9 1158.1 L901.9 1158.1 L900.9 1158.1 L900 1158.1 L899 1158.1 L898 1158.1 L897 1158.1 L896 1158.1 L895.1 1158.1 L894.1 1158.1 L893.1 1158.1 L892.1 1158.1 L891.2 1158.1 L890.2 1158.1 L889.2 1158.1 L888.2 1158.1 L887.3 1158.1 L886.3 1158.1 L885.3 1158.1 Z" fill="#66c1c2" fill-opacity="0.95" stroke="none"/>
<path d="M663.6 1157.9 L665.6 1157.8 L667.7 1157.8 L669.7 1157.7 L671.7 1157.5 L673.7 1157.3 L675.7 1157.1 L677.7 1156.9 L679.7 1156.6 L681.7 1156.2 L683.7 1155.7 L685.7 1155.2 L687.7 1154.5 L689.7 1153.8 L691.7 1152.9 L693.8 1151.9 L695.8 1150.8 L697.8 1149.6 L699.8 1148.3 L701.8 1146.8 L703.8 1145.3 L705.8 1143.6 L707.8 1141.9 L709.8 1140.2 L711.8 1138.4 L713.8 1136.6 L715.8 1134.9 L717.8 1133.2 L719.9 1131.7 L721.9 1130.3 L723.9 1129 L725.9 1128 L727.9 1127.2 L729.9 1126.7 L731.9 1126.4 L733.9 1126.4 L735.9 1126.7 L737.9 1127.2 L739.9 1128 L741.9 1129 L743.9 1130.3 L745.9 1131.7 L748 1133.2 L750 1134.9 L752 1136.6 L754 1138.4 L756 1140.2 L758 1141.9 L760 1143.6 L762 1145.3 L764 1146.8 L766 1148.3 L768 1149.6 L770 1150.8 L772 1151.9 L774.1 1152.9 L776.1 1153.8 L778.1 1154.5 L780.1 1155.2 L782.1 1155.7 L784.1 1156.2 L786.1 1156.6 L788.1 1156.9 L790.1 1157.1 L792.1 1157.3 L794.1 1157.5 L796.1 1157.7 L798.1 1157.8 L800.2 1157.8 L802.2 1157.9 L802.2 1158.1 L800.2 1158.1 L798.1 1158.1 L796.1 1158.1 L794.1 1158.1 L792.1 1158.1 L790.1 1158.1 L788.1 1158.1 L786.1 1158.1 L784.1 1158.1 L782.1 1158.1 L780.1 1158.1 L778.1 1158.1 L776.1 1158.1 L774.1 1158.1 L772 1158.1 L770 1158.1 L768 1158.1 L766 1158.1 L764 1158.1 L762 1158.1 L760 1158.1 L758 1158.1 L756 1158.1 L754 1158.1 L752 1158.1 L750 1158.1 L748 1158.1 L745.9 1158.1 L743.9 1158.1 L741.9 1158.1 L739.9 1158.1 L737.9 1158.1 L735.9 1158.1 L733.9 1158.1 L731.9 1158.1 L729.9 1158.1 L727.9 1158.1 L725.9 1158.1 L723.9 1158.1 L721.9 1158.1 L719.9 1158.1 L717.8 1158.1 L715.8 1158.1 L713.8 1158.1 L711.8 1158.1 L709.8 1158.1 L707.8 1158.1 L705.8 1158.1 L703.8 1158.1 L701.8 1158.1 L699.8 1158.1 L697.8 1158.1 L695.8 1158.1 L693.8 1158.1 L691.7 1158.1 L689.7 1158.1 L687.7 1158.1 L685.7 1158.1 L683.7 1158.1 L681.7 1158.1 L679.7 1158.1 L677.7 1158.1 L675.7 1158.1 L673.7 1158.1 L671.7 1158.1 L669.7 1158.1 L667.7 1158.1 L665.6 1158.1 L663.6 1158.1 Z" fill="#ea543a" fill-opacity="0.95" stroke="none"/>
<path d="M819.6 1157.6 L821 1157.4 L822.3 1157.2 L823.7 1156.8 L825 1156.5 L826.3 1156 L827.7 1155.4 L829 1154.6 L830.3 1153.7 L831.7 1152.7 L833 1151.3 L834.3 1149.8 L835.7 1148 L837 1145.9 L838.3 1143.5 L839.7 1140.7 L841 1137.6 L842.3 1134.2 L843.7 1130.4 L845 1126.3 L846.3 1122 L847.7 1117.3 L849 1112.5 L850.3 1107.5 L851.7 1102.5 L853 1097.5 L854.4 1092.7 L855.7 1088 L857 1083.6 L858.4 1079.7 L859.7 1076.2 L861 1073.4 L862.4 1071.2 L863.7 1069.7 L865 1068.9 L866.4 1068.9 L867.7 1069.7 L869 1071.2 L870.4 1073.4 L871.7 1076.2 L873 1079.7 L874.4 1083.6 L875.7 1088 L877 1092.7 L878.4 1097.5 L879.7 1102.5 L881.1 1107.5 L882.4 1112.5 L883.7 1117.3 L885.1 1122 L886.4 1126.3 L887.7 1130.4 L889.1 1134.2 L890.4 1137.6 L891.7 1140.7 L893.1 1143.5 L894.4 1145.9 L895.7 1148 L897.1 1149.8 L898.4 1151.3 L899.7 1152.7 L901.1 1153.7 L902.4 1154.6 L903.7 1155.4 L905.1 1156 L906.4 1156.5 L907.7 1156.8 L909.1 1157.2 L910.4 1157.4 L911.8 1157.6 L911.8 1158.1 L910.4 1158.1 L909.1 1158.1 L907.7 1158.1 L906.4 1158.1 L905.1 1158.1 L903.7 1158.1 L902.4 1158.1 L901.1 1158.1 L899.7 1158.1 L898.4 1158.1 L897.1 1158.1 L895.7 1158.1 L894.4 1158.1 L893.1 1158.1 L891.7 1158.1 L890.4 1158.1 L889.1 1158.1 L887.7 1158.1 L886.4 1158.1 L885.1 1158.1 L883.7 1158.1 L882.4 1158.1 L881.1 1158.1 L879.7 1158.1 L878.4 1158.1 L877 1158.1 L875.7 1158.1 L874.4 1158.1 L873 1158.1 L871.7 1158.1 L870.4 1158.1 L869 1158.1 L867.7 1158.1 L866.4 1158.1 L865 1158.1 L863.7 1158.1 L862.4 1158.1 L861 1158.1 L859.7 1158.1 L858.4 1158.1 L857 1158.1 L855.7 1158.1 L854.4 1158.1 L853 1158.1 L851.7 1158.1 L850.3 1158.1 L849 1158.1 L847.7 1158.1 L846.3 1158.1 L845 1158.1 L843.7 1158.1 L842.3 1158.1 L841 1158.1 L839.7 1158.1 L838.3 1158.1 L837 1158.1 L835.7 1158.1 L834.3 1158.1 L833 1158.1 L831.7 1158.1 L830.3 1158.1 L829 1158.1 L827.7 1158.1 L826.3 1158.1 L825 1158.1 L823.7 1158.1 L822.3 1158.1 L821 1158.1 L819.6 1158.1 Z" fill="#ea543a" fill-opacity="0.95" stroke="none"/>
<path d="M885.3 1158.1 L886.3 1158 L887.3 1158 L888.2 1158 L889.2 1158 L890.2 1157.9 L891.2 1157.9 L892.1 1157.8 L893.1 1157.8 L894.1 1157.7 L895.1 1157.6 L896 1157.5 L897 1157.3 L898 1157.2 L899 1157 L900 1156.8 L900.9 1156.6 L901.9 1156.3 L902.9 1156 L903.9 1155.7 L904.8 1155.4 L905.8 1155 L906.8 1154.7 L907.8 1154.3 L908.7 1153.9 L909.7 1153.6 L910.7 1153.2 L911.7 1152.8 L912.7 1152.5 L913.6 1152.2 L914.6 1152 L915.6 1151.7 L916.6 1151.6 L917.5 1151.5 L918.5 1151.4 L919.5 1151.4 L920.5 1151.5 L921.4 1151.6 L922.4 1151.7 L923.4 1152 L924.4 1152.2 L925.3 1152.5 L926.3 1152.8 L927.3 1153.2 L928.3 1153.6 L929.3 1153.9 L930.2 1154.3 L931.2 1154.7 L932.2 1155 L933.2 1155.4 L934.1 1155.7 L935.1 1156 L936.1 1156.3 L937.1 1156.6 L938 1156.8 L939 1157 L940 1157.2 L941 1157.3 L942 1157.5 L942.9 1157.6 L943.9 1157.7 L944.9 1157.8 L945.9 1157.8 L946.8 1157.9 L947.8 1157.9 L948.8 1158 L949.8 1158 L950.7 1158 L951.7 1158 L952.7 1158.1" fill="none" stroke="#6e7272" stroke-width="3.6" stroke-linejoin="round"/>
<path d="M663.6 1157.9 L665.6 1157.8 L667.7 1157.8 L669.7 1157.7 L671.7 1157.5 L673.7 1157.3 L675.7 1157.1 L677.7 1156.9 L679.7 1156.6 L681.7 1156.2 L683.7 1155.7 L685.7 1155.2 L687.7 1154.5 L689.7 1153.8 L691.7 1152.9 L693.8 1151.9 L695.8 1150.8 L697.8 1149.6 L699.8 1148.3 L701.8 1146.8 L703.8 1145.3 L705.8 1143.6 L707.8 1141.9 L709.8 1140.2 L711.8 1138.4 L713.8 1136.6 L715.8 1134.9 L717.8 1133.2 L719.9 1131.7 L721.9 1130.3 L723.9 1129 L725.9 1128 L727.9 1127.2 L729.9 1126.7 L731.9 1126.4 L733.9 1126.4 L735.9 1126.7 L737.9 1127.2 L739.9 1128 L741.9 1129 L743.9 1130.3 L745.9 1131.7 L748 1133.2 L750 1134.9 L752 1136.6 L754 1138.4 L756 1140.2 L758 1141.9 L760 1143.6 L762 1145.3 L764 1146.8 L766 1148.3 L768 1149.6 L770 1150.8 L772 1151.9 L774.1 1152.9 L776.1 1153.8 L778.1 1154.5 L780.1 1155.2 L782.1 1155.7 L784.1 1156.2 L786.1 1156.6 L788.1 1156.9 L790.1 1157.1 L792.1 1157.3 L794.1 1157.5 L796.1 1157.7 L798.1 1157.8 L800.2 1157.8 L802.2 1157.9" fill="none" stroke="#6e7272" stroke-width="3.6" stroke-linejoin="round"/>
<path d="M819.6 1157.6 L821 1157.4 L822.3 1157.2 L823.7 1156.8 L825 1156.5 L826.3 1156 L827.7 1155.4 L829 1154.6 L830.3 1153.7 L831.7 1152.7 L833 1151.3 L834.3 1149.8 L835.7 1148 L837 1145.9 L838.3 1143.5 L839.7 1140.7 L841 1137.6 L842.3 1134.2 L843.7 1130.4 L845 1126.3 L846.3 1122 L847.7 1117.3 L849 1112.5 L850.3 1107.5 L851.7 1102.5 L853 1097.5 L854.4 1092.7 L855.7 1088 L857 1083.6 L858.4 1079.7 L859.7 1076.2 L861 1073.4 L862.4 1071.2 L863.7 1069.7 L865 1068.9 L866.4 1068.9 L867.7 1069.7 L869 1071.2 L870.4 1073.4 L871.7 1076.2 L873 1079.7 L874.4 1083.6 L875.7 1088 L877 1092.7 L878.4 1097.5 L879.7 1102.5 L881.1 1107.5 L882.4 1112.5 L883.7 1117.3 L885.1 1122 L886.4 1126.3 L887.7 1130.4 L889.1 1134.2 L890.4 1137.6 L891.7 1140.7 L893.1 1143.5 L894.4 1145.9 L895.7 1148 L897.1 1149.8 L898.4 1151.3 L899.7 1152.7 L901.1 1153.7 L902.4 1154.6 L903.7 1155.4 L905.1 1156 L906.4 1156.5 L907.7 1156.8 L909.1 1157.2 L910.4 1157.4 L911.8 1157.6" fill="none" stroke="#6e7272" stroke-width="3.6" stroke-linejoin="round"/>
<line x1="624" y1="1158.1" x2="1068" y2="1158.1" stroke="#6e7272" stroke-width="5.6"/>
<path d="M611 1146 C615.8 1146.6 630.8 1148.9 640 1149.5 C649.2 1150.1 656.8 1150.7 666.4 1149.5 C676 1148.3 689.3 1146.3 697.4 1142.5 C705.5 1138.7 709.2 1130.2 715.1 1126.4 C721 1122.6 727 1119.7 732.9 1119.7 C738.8 1119.7 744.7 1122.7 750.6 1126.4 C756.5 1130.1 760.2 1138.4 768.3 1141.9 C776.4 1145.4 789 1146.5 799.3 1147.2 C809.6 1147.9 822.9 1151.6 830.3 1146.3 C837.7 1141 839.2 1127.1 843.6 1115.3 C848 1103.5 853.2 1083.9 856.9 1075.4 C860.6 1066.9 862.8 1064.4 865.7 1064.4 C868.7 1064.4 870.9 1066.2 874.6 1075.4 C878.3 1084.6 882.7 1108.3 887.9 1119.7 C893.1 1131.1 897.5 1138.5 905.6 1144 C913.7 1149.5 921.1 1150.8 936.6 1153 C952.1 1155.2 976.5 1156.3 998.6 1157.4 C1020.7 1158.5 1057.6 1159.2 1069.4 1159.6" fill="none" stroke="#000" stroke-width="7.0" stroke-linejoin="round" stroke-linecap="round"/>
<rect x="610.5" y="1145.8" width="7" height="3.2" fill="#000"/>
<rect x="616.4" y="1145.3" width="7" height="3.2" fill="#000"/>
<rect x="624.4" y="1145.5" width="7" height="3.2" fill="#000"/>
<rect x="636" y="1148.1" width="7" height="3.2" fill="#000"/>
<rect x="643.8" y="1149.9" width="7" height="3.2" fill="#000"/>
<rect x="653.7" y="1148" width="7" height="3.2" fill="#000"/>
<rect x="665.6" y="1148.6" width="7" height="3.2" fill="#000"/>
<rect x="672.1" y="1144.9" width="7" height="3.2" fill="#000"/>
<rect x="679.7" y="1143.6" width="7" height="3.2" fill="#000"/>
<rect x="688.1" y="1142.6" width="7" height="3.2" fill="#000"/>
<rect x="695.3" y="1138.6" width="7" height="3.2" fill="#000"/>
<rect x="706.3" y="1128.8" width="7" height="3.2" fill="#000"/>
<rect x="714.5" y="1122.3" width="7" height="3.2" fill="#000"/>
<rect x="723.6" y="1118.4" width="7" height="3.2" fill="#000"/>
<rect x="730.5" y="1117.8" width="7" height="3.2" fill="#000"/>
<rect x="741.8" y="1122.8" width="7" height="3.2" fill="#000"/>
<rect x="750.4" y="1128.4" width="7" height="3.2" fill="#000"/>
<rect x="760.6" y="1137.7" width="7" height="3.2" fill="#000"/>
<rect x="766.9" y="1141.5" width="7" height="3.2" fill="#000"/>
<rect x="777.3" y="1144.4" width="7" height="3.2" fill="#000"/>
<rect x="788.8" y="1145.2" width="7" height="3.2" fill="#000"/>
<rect x="796.3" y="1146" width="7" height="3.2" fill="#000"/>
<rect x="807.2" y="1148.4" width="7" height="3.2" fill="#000"/>
<rect x="815.6" y="1148.1" width="7" height="3.2" fill="#000"/>
<rect x="826.5" y="1144.6" width="7" height="3.2" fill="#000"/>
<rect x="836.3" y="1126.7" width="7" height="3.2" fill="#000"/>
<rect x="846.9" y="1091.9" width="7" height="3.2" fill="#000"/>
<rect x="853" y="1075.3" width="7" height="3.2" fill="#000"/>
<rect x="865.1" y="1063.6" width="7" height="3.2" fill="#000"/>
<rect x="876.3" y="1090.2" width="7" height="3.2" fill="#000"/>
<rect x="888.4" y="1128.3" width="7" height="3.2" fill="#000"/>
<rect x="900.8" y="1142.8" width="7" height="3.2" fill="#000"/>
<rect x="912.9" y="1146.4" width="7" height="3.2" fill="#000"/>
<rect x="921.2" y="1151.2" width="7" height="3.2" fill="#000"/>
<rect x="927.4" y="1150.7" width="7" height="3.2" fill="#000"/>
<rect x="938.4" y="1151" width="7" height="3.2" fill="#000"/>
<rect x="950.3" y="1154.7" width="7" height="3.2" fill="#000"/>
<rect x="957.1" y="1155.6" width="7" height="3.2" fill="#000"/>
<rect x="968.4" y="1156.3" width="7" height="3.2" fill="#000"/>
<rect x="974.3" y="1156" width="7" height="3.2" fill="#000"/>
<rect x="986.2" y="1155" width="7" height="3.2" fill="#000"/>
<rect x="994.6" y="1154.3" width="7" height="3.2" fill="#000"/>
<rect x="1001.6" y="1154.5" width="7" height="3.2" fill="#000"/>
<rect x="1007.1" y="1155.8" width="7" height="3.2" fill="#000"/>
<rect x="1018.8" y="1155.4" width="7" height="3.2" fill="#000"/>
<rect x="1026" y="1157.7" width="7" height="3.2" fill="#000"/>
<rect x="1035.1" y="1158.4" width="7" height="3.2" fill="#000"/>
<rect x="1044.1" y="1158.4" width="7" height="3.2" fill="#000"/>
<rect x="1055.6" y="1157.7" width="7" height="3.2" fill="#000"/>
<rect x="1062" y="1156.5" width="7" height="3.2" fill="#000"/>
<text x="612.8" y="523.5" font-size="29.8" fill="#000" text-anchor="start" font-weight="normal" textLength="103" lengthAdjust="spacingAndGlyphs" stroke="#000" stroke-width="0.45">pristine</text>
<text x="612" y="635.3" font-size="29.8" fill="#000" text-anchor="start" font-weight="normal" textLength="205.5" lengthAdjust="spacingAndGlyphs" stroke="#000" stroke-width="0.45">x=1 discharge</text>
<text x="612" y="747.2" font-size="29.8" fill="#000" text-anchor="start" font-weight="normal" textLength="205.5" lengthAdjust="spacingAndGlyphs" stroke="#000" stroke-width="0.45">x=2 discharge</text>
<text x="610.6" y="868.2" font-size="29.8" fill="#000" text-anchor="start" font-weight="normal" textLength="227" lengthAdjust="spacingAndGlyphs" stroke="#000" stroke-width="0.45">fully discharged</text>
<text x="612" y="994.8" font-size="29.8" fill="#000" text-anchor="start" font-weight="normal" textLength="161.5" lengthAdjust="spacingAndGlyphs" stroke="#000" stroke-width="0.45">x=1 charge</text>
<text x="612.8" y="1107" font-size="29.8" fill="#000" text-anchor="start" font-weight="normal" textLength="185" lengthAdjust="spacingAndGlyphs" stroke="#000" stroke-width="0.45">fully charged</text>
<text x="1046.4" y="581" font-size="32" fill="#000" text-anchor="start" font-weight="normal" textLength="19" lengthAdjust="spacingAndGlyphs" stroke="#000" stroke-width="0.45">1</text>
<text x="1046.4" y="679.3" font-size="32" fill="#000" text-anchor="start" font-weight="normal" textLength="19" lengthAdjust="spacingAndGlyphs" stroke="#000" stroke-width="0.45">2</text>
<text x="1046.4" y="793.5" font-size="32" fill="#000" text-anchor="start" font-weight="normal" textLength="19" lengthAdjust="spacingAndGlyphs" stroke="#000" stroke-width="0.45">3</text>
<text x="1046.4" y="905.7" font-size="32" fill="#000" text-anchor="start" font-weight="normal" textLength="19" lengthAdjust="spacingAndGlyphs" stroke="#000" stroke-width="0.45">4</text>
<text x="1046.4" y="1036.8" font-size="32" fill="#000" text-anchor="start" font-weight="normal" textLength="19" lengthAdjust="spacingAndGlyphs" stroke="#000" stroke-width="0.45">5</text>
<text x="1046.4" y="1149" font-size="32" fill="#000" text-anchor="start" font-weight="normal" textLength="19" lengthAdjust="spacingAndGlyphs" stroke="#000" stroke-width="0.45">6</text>
</g>
</svg></body></html>
